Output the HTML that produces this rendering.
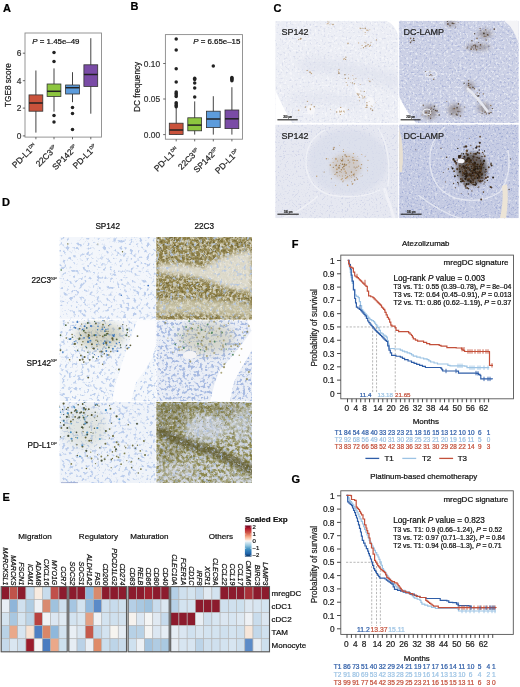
<!DOCTYPE html>
<html><head><meta charset="utf-8"><title>Figure</title>
<style>
html,body{margin:0;padding:0;background:#fff;width:520px;height:687px;overflow:hidden}
svg{display:block;filter:blur(0.3px)}
svg text{font-family:"Liberation Sans",sans-serif}
</style></head><body>
<svg width="520" height="687" viewBox="0 0 520 687">
<defs><filter id="b05" x="-20%" y="-20%" width="140%" height="140%"><feGaussianBlur stdDeviation="0.45"/></filter>
<filter id="b1" x="-20%" y="-20%" width="140%" height="140%"><feGaussianBlur stdDeviation="1"/></filter>
<filter id="b2" x="-30%" y="-30%" width="160%" height="160%"><feGaussianBlur stdDeviation="2"/></filter>
<filter id="b4" x="-40%" y="-40%" width="180%" height="180%"><feGaussianBlur stdDeviation="4"/></filter>
<clipPath id="c1"><rect x="275.2" y="20.8" width="123.10" height="102.10"/></clipPath>
<filter id="sp1" x="275.2" y="20.8" width="123.10" height="102.10" filterUnits="userSpaceOnUse" color-interpolation-filters="sRGB"><feTurbulence type="fractalNoise" baseFrequency="0.5" numOctaves="2" seed="3"/><feColorMatrix type="matrix" values="0 0 0 0 0.784 0 0 0 0 0.804 0 0 0 0 0.890 5 0 0 0 -2.9"/><feGaussianBlur stdDeviation="0.35"/></filter>
<filter id="sp2" x="275.2" y="20.8" width="123.10" height="102.10" filterUnits="userSpaceOnUse" color-interpolation-filters="sRGB"><feTurbulence type="fractalNoise" baseFrequency="0.4" numOctaves="2" seed="4"/><feColorMatrix type="matrix" values="0 0 0 0 0.980 0 0 0 0 0.980 0 0 0 0 0.988 5 0 0 0 -2.7"/><feGaussianBlur stdDeviation="0.35"/></filter>
<clipPath id="c2"><rect x="399.1" y="20.8" width="119.70" height="102.10"/></clipPath>
<filter id="sp3" x="399.1" y="20.8" width="119.70" height="102.10" filterUnits="userSpaceOnUse" color-interpolation-filters="sRGB"><feTurbulence type="fractalNoise" baseFrequency="0.5" numOctaves="2" seed="5"/><feColorMatrix type="matrix" values="0 0 0 0 0.643 0 0 0 0 0.682 0 0 0 0 0.839 5 0 0 0 -2.8"/><feGaussianBlur stdDeviation="0.35"/></filter>
<filter id="sp4" x="399.1" y="20.8" width="119.70" height="102.10" filterUnits="userSpaceOnUse" color-interpolation-filters="sRGB"><feTurbulence type="fractalNoise" baseFrequency="0.45" numOctaves="2" seed="8"/><feColorMatrix type="matrix" values="0 0 0 0 0.918 0 0 0 0 0.929 0 0 0 0 0.961 5 0 0 0 -2.7"/><feGaussianBlur stdDeviation="0.35"/></filter>
<clipPath id="c3"><rect x="275.2" y="124.5" width="123.10" height="93.80"/></clipPath>
<filter id="sp5" x="275.2" y="124.5" width="123.10" height="93.80" filterUnits="userSpaceOnUse" color-interpolation-filters="sRGB"><feTurbulence type="fractalNoise" baseFrequency="0.55" numOctaves="2" seed="9"/><feColorMatrix type="matrix" values="0 0 0 0 0.784 0 0 0 0 0.804 0 0 0 0 0.894 5 0 0 0 -2.9"/><feGaussianBlur stdDeviation="0.35"/></filter>
<clipPath id="c4"><rect x="399.1" y="124.5" width="119.70" height="93.80"/></clipPath>
<filter id="sp6" x="399.1" y="124.5" width="119.70" height="93.80" filterUnits="userSpaceOnUse" color-interpolation-filters="sRGB"><feTurbulence type="fractalNoise" baseFrequency="0.55" numOctaves="2" seed="12"/><feColorMatrix type="matrix" values="0 0 0 0 0.596 0 0 0 0 0.643 0 0 0 0 0.816 5 0 0 0 -2.8"/><feGaussianBlur stdDeviation="0.35"/></filter>
<filter id="sp7" x="399.1" y="124.5" width="119.70" height="93.80" filterUnits="userSpaceOnUse" color-interpolation-filters="sRGB"><feTurbulence type="fractalNoise" baseFrequency="0.45" numOctaves="2" seed="13"/><feColorMatrix type="matrix" values="0 0 0 0 0.910 0 0 0 0 0.918 0 0 0 0 0.949 5 0 0 0 -2.8"/><feGaussianBlur stdDeviation="0.35"/></filter>
<clipPath id="d1"><rect x="59.5" y="237.0" width="96.30" height="82.60"/></clipPath>
<filter id="sp8" x="59.5" y="237.0" width="96.30" height="82.60" filterUnits="userSpaceOnUse" color-interpolation-filters="sRGB"><feTurbulence type="fractalNoise" baseFrequency="0.3" numOctaves="2" seed="21"/><feColorMatrix type="matrix" values="0 0 0 0 0.706 0 0 0 0 0.784 0 0 0 0 0.918 6 0 0 0 -3.3"/><feGaussianBlur stdDeviation="0.35"/></filter>
<clipPath id="d2"><rect x="156.4" y="237.0" width="95.60" height="82.60"/></clipPath>
<filter id="sp9" x="156.4" y="237.0" width="95.60" height="82.60" filterUnits="userSpaceOnUse" color-interpolation-filters="sRGB"><feTurbulence type="fractalNoise" baseFrequency="0.3" numOctaves="2" seed="22"/><feColorMatrix type="matrix" values="0 0 0 0 0.549 0 0 0 0 0.494 0 0 0 0 0.267 4 0 0 0 -1.3"/><feGaussianBlur stdDeviation="0.35"/></filter>
<filter id="sp10" x="156.4" y="237.0" width="95.60" height="82.60" filterUnits="userSpaceOnUse" color-interpolation-filters="sRGB"><feTurbulence type="fractalNoise" baseFrequency="0.38" numOctaves="2" seed="31"/><feColorMatrix type="matrix" values="0 0 0 0 0.416 0 0 0 0 0.369 0 0 0 0 0.173 5 0 0 0 -2.7"/><feGaussianBlur stdDeviation="0.35"/></filter>
<filter id="sp11" x="156.4" y="237.0" width="95.60" height="82.60" filterUnits="userSpaceOnUse" color-interpolation-filters="sRGB"><feTurbulence type="fractalNoise" baseFrequency="0.3" numOctaves="2" seed="23"/><feColorMatrix type="matrix" values="0 0 0 0 0.706 0 0 0 0 0.776 0 0 0 0 0.886 5 0 0 0 -2.9"/><feGaussianBlur stdDeviation="0.35"/></filter>
<filter id="sp12" x="156.4" y="237.0" width="95.60" height="82.60" filterUnits="userSpaceOnUse" color-interpolation-filters="sRGB"><feTurbulence type="fractalNoise" baseFrequency="0.4" numOctaves="2" seed="29"/><feColorMatrix type="matrix" values="0 0 0 0 0.957 0 0 0 0 0.949 0 0 0 0 0.918 5 0 0 0 -3.0"/><feGaussianBlur stdDeviation="0.35"/></filter>
<clipPath id="d3"><rect x="59.5" y="320.3" width="96.30" height="80.90"/></clipPath>
<filter id="sp13" x="59.5" y="320.3" width="96.30" height="80.90" filterUnits="userSpaceOnUse" color-interpolation-filters="sRGB"><feTurbulence type="fractalNoise" baseFrequency="0.32" numOctaves="2" seed="24"/><feColorMatrix type="matrix" values="0 0 0 0 0.706 0 0 0 0 0.784 0 0 0 0 0.918 6 0 0 0 -3.3"/><feGaussianBlur stdDeviation="0.35"/></filter>
<clipPath id="d4"><rect x="156.4" y="320.3" width="95.60" height="80.90"/></clipPath>
<filter id="sp14" x="156.4" y="320.3" width="95.60" height="80.90" filterUnits="userSpaceOnUse" color-interpolation-filters="sRGB"><feTurbulence type="fractalNoise" baseFrequency="0.35" numOctaves="2" seed="25"/><feColorMatrix type="matrix" values="0 0 0 0 0.580 0 0 0 0 0.675 0 0 0 0 0.863 6 0 0 0 -3.0"/><feGaussianBlur stdDeviation="0.35"/></filter>
<clipPath id="d5"><rect x="59.5" y="401.9" width="96.30" height="81.10"/></clipPath>
<filter id="sp15" x="59.5" y="401.9" width="96.30" height="81.10" filterUnits="userSpaceOnUse" color-interpolation-filters="sRGB"><feTurbulence type="fractalNoise" baseFrequency="0.32" numOctaves="2" seed="26"/><feColorMatrix type="matrix" values="0 0 0 0 0.706 0 0 0 0 0.784 0 0 0 0 0.918 6 0 0 0 -3.3"/><feGaussianBlur stdDeviation="0.35"/></filter>
<clipPath id="d6"><rect x="156.4" y="401.9" width="95.60" height="81.10"/></clipPath>
<filter id="sp16" x="156.4" y="401.9" width="95.60" height="81.10" filterUnits="userSpaceOnUse" color-interpolation-filters="sRGB"><feTurbulence type="fractalNoise" baseFrequency="0.3" numOctaves="2" seed="27"/><feColorMatrix type="matrix" values="0 0 0 0 0.525 0 0 0 0 0.502 0 0 0 0 0.247 4 0 0 0 -1.55"/><feGaussianBlur stdDeviation="0.35"/></filter>
<filter id="sp17" x="156.4" y="401.9" width="95.60" height="81.10" filterUnits="userSpaceOnUse" color-interpolation-filters="sRGB"><feTurbulence type="fractalNoise" baseFrequency="0.4" numOctaves="2" seed="32"/><feColorMatrix type="matrix" values="0 0 0 0 0.369 0 0 0 0 0.353 0 0 0 0 0.165 5 0 0 0 -3.0"/><feGaussianBlur stdDeviation="0.35"/></filter>
<filter id="sp18" x="156.4" y="401.9" width="95.60" height="81.10" filterUnits="userSpaceOnUse" color-interpolation-filters="sRGB"><feTurbulence type="fractalNoise" baseFrequency="0.3" numOctaves="2" seed="30"/><feColorMatrix type="matrix" values="0 0 0 0 0.690 0 0 0 0 0.761 0 0 0 0 0.886 5 0 0 0 -2.9"/><feGaussianBlur stdDeviation="0.35"/></filter>
<filter id="sp19" x="156.4" y="401.9" width="95.60" height="81.10" filterUnits="userSpaceOnUse" color-interpolation-filters="sRGB"><feTurbulence type="fractalNoise" baseFrequency="0.4" numOctaves="2" seed="33"/><feColorMatrix type="matrix" values="0 0 0 0 0.949 0 0 0 0 0.957 0 0 0 0 0.957 5 0 0 0 -3.1"/><feGaussianBlur stdDeviation="0.35"/></filter></defs>
<rect width="520" height="687" fill="#fff"/>
<g clip-path="url(#c1)">
<rect x="275.2" y="20.8" width="123.10" height="102.10" fill="#eceef5"/>
<rect x="275.2" y="20.8" width="123.10" height="102.10" filter="url(#sp1)" opacity="0.6"/>
<rect x="275.2" y="20.8" width="123.10" height="102.10" filter="url(#sp2)" opacity="0.7"/>
<g filter="url(#b4)" opacity="0.5"><path d="M300,60 Q340,55 398,75 L398,90 Q340,70 300,72Z" fill="#d8dcea"/><path d="M290,95 Q330,90 360,100 L360,108 Q330,100 290,104Z" fill="#dadeeb"/></g>
<g filter="url(#b05)"><path d="M275.2,90 Q283,108 292,122.9 L275.2,122.9Z" fill="#fff"/><path d="M386,20.8 Q395,24 398.3,36 L398.3,20.8Z" fill="#fff"/></g>
<g filter="url(#b05)" fill="#f6f6f9"><ellipse cx="311" cy="110" rx="4" ry="5"/><ellipse cx="341" cy="111" rx="5" ry="4"/><ellipse cx="370" cy="102" rx="4" ry="5"/><ellipse cx="358" cy="92" rx="2" ry="6" transform="rotate(-30 358 92)"/></g>
<g filter="url(#b05)" opacity="0.7"><circle cx="327.9" cy="23.6" r="0.8" fill="#c09a68"/><circle cx="326.3" cy="23.9" r="0.4" fill="#c09a68"/><circle cx="328.0" cy="21.1" r="0.4" fill="#8c6838"/><circle cx="333.0" cy="24.5" r="0.8" fill="#a07a48"/><circle cx="328.9" cy="22.1" r="0.6" fill="#b08a58"/><circle cx="327.6" cy="21.0" r="0.4" fill="#a07a48"/><circle cx="331.7" cy="24.0" r="0.4" fill="#c09a68"/><circle cx="329.5" cy="24.8" r="0.4" fill="#b08a58"/></g>
<g filter="url(#b05)" opacity="0.7"><circle cx="360.0" cy="28.2" r="0.6" fill="#c09a68"/><circle cx="360.7" cy="28.3" r="0.6" fill="#a07a48"/><circle cx="362.1" cy="28.3" r="0.5" fill="#8c6838"/><circle cx="368.1" cy="30.5" r="0.4" fill="#a07a48"/><circle cx="365.3" cy="28.4" r="0.8" fill="#a07a48"/><circle cx="365.1" cy="34.5" r="0.4" fill="#c09a68"/><circle cx="367.0" cy="29.8" r="0.4" fill="#b08a58"/><circle cx="363.6" cy="28.4" r="0.4" fill="#8c6838"/><circle cx="367.1" cy="30.2" r="0.8" fill="#b08a58"/><circle cx="363.0" cy="30.9" r="0.4" fill="#c09a68"/><circle cx="365.2" cy="32.3" r="0.6" fill="#b08a58"/><circle cx="369.8" cy="29.7" r="0.5" fill="#c09a68"/></g>
<g filter="url(#b05)" opacity="0.7"><circle cx="369.4" cy="45.4" r="0.4" fill="#8c6838"/><circle cx="376.5" cy="39.9" r="0.6" fill="#a07a48"/><circle cx="365.7" cy="45.9" r="0.7" fill="#a07a48"/><circle cx="367.8" cy="44.3" r="0.5" fill="#a07a48"/><circle cx="364.9" cy="42.2" r="0.5" fill="#a07a48"/><circle cx="368.3" cy="44.6" r="0.6" fill="#a07a48"/><circle cx="358.6" cy="42.9" r="0.6" fill="#c09a68"/><circle cx="365.9" cy="43.1" r="0.5" fill="#b08a58"/><circle cx="362.1" cy="45.3" r="0.6" fill="#b08a58"/><circle cx="369.4" cy="46.4" r="0.6" fill="#c09a68"/><circle cx="371.0" cy="42.2" r="0.5" fill="#a07a48"/><circle cx="370.5" cy="45.5" r="0.5" fill="#c09a68"/><circle cx="363.4" cy="47.7" r="0.6" fill="#8c6838"/><circle cx="348.0" cy="43.4" r="0.8" fill="#b08a58"/><circle cx="365.2" cy="46.5" r="0.7" fill="#a07a48"/><circle cx="361.0" cy="48.4" r="0.4" fill="#a07a48"/><circle cx="370.5" cy="44.9" r="0.5" fill="#a07a48"/><circle cx="367.0" cy="45.7" r="0.6" fill="#b08a58"/></g>
<g filter="url(#b05)" opacity="0.7"><circle cx="352.4" cy="82.9" r="0.6" fill="#8c6838"/><circle cx="348.5" cy="78.2" r="0.6" fill="#b08a58"/><circle cx="345.3" cy="78.4" r="0.6" fill="#8c6838"/><circle cx="348.7" cy="74.7" r="0.4" fill="#a07a48"/><circle cx="346.2" cy="82.5" r="0.5" fill="#a07a48"/><circle cx="354.4" cy="83.7" r="0.7" fill="#b08a58"/><circle cx="352.8" cy="75.6" r="0.5" fill="#c09a68"/><circle cx="355.9" cy="78.5" r="0.5" fill="#a07a48"/><circle cx="353.6" cy="79.0" r="0.6" fill="#c09a68"/><circle cx="350.7" cy="82.3" r="0.4" fill="#a07a48"/><circle cx="344.9" cy="74.7" r="0.7" fill="#8c6838"/><circle cx="347.3" cy="85.2" r="0.6" fill="#c09a68"/></g>
<g filter="url(#b05)" opacity="0.7"><circle cx="358.4" cy="95.2" r="0.6" fill="#a07a48"/><circle cx="361.5" cy="95.6" r="0.4" fill="#a07a48"/><circle cx="357.9" cy="94.1" r="0.8" fill="#8c6838"/><circle cx="364.3" cy="91.7" r="0.4" fill="#b08a58"/><circle cx="357.0" cy="93.2" r="0.5" fill="#c09a68"/><circle cx="359.8" cy="94.0" r="0.5" fill="#8c6838"/><circle cx="363.0" cy="98.0" r="0.7" fill="#b08a58"/><circle cx="364.2" cy="91.3" r="0.6" fill="#8c6838"/><circle cx="362.4" cy="96.1" r="0.5" fill="#a07a48"/><circle cx="360.2" cy="84.5" r="0.5" fill="#b08a58"/><circle cx="364.6" cy="96.9" r="0.8" fill="#c09a68"/><circle cx="359.3" cy="97.3" r="0.7" fill="#c09a68"/><circle cx="359.6" cy="100.8" r="0.5" fill="#a07a48"/><circle cx="360.9" cy="91.1" r="0.5" fill="#a07a48"/></g>
<g filter="url(#b05)" opacity="0.7"><circle cx="369.1" cy="101.6" r="0.4" fill="#8c6838"/><circle cx="371.1" cy="105.6" r="0.4" fill="#a07a48"/><circle cx="367.0" cy="105.4" r="0.6" fill="#8c6838"/><circle cx="375.4" cy="102.8" r="0.4" fill="#c09a68"/><circle cx="370.8" cy="108.7" r="0.7" fill="#a07a48"/><circle cx="372.0" cy="106.2" r="0.5" fill="#b08a58"/><circle cx="366.8" cy="107.3" r="0.8" fill="#a07a48"/><circle cx="365.6" cy="107.4" r="0.5" fill="#c09a68"/><circle cx="367.0" cy="105.2" r="0.8" fill="#c09a68"/><circle cx="366.9" cy="102.7" r="0.6" fill="#8c6838"/><circle cx="366.8" cy="105.0" r="0.4" fill="#a07a48"/><circle cx="372.5" cy="110.3" r="0.8" fill="#8c6838"/></g>
<g filter="url(#b05)" opacity="0.7"><circle cx="305.8" cy="106.8" r="0.5" fill="#a07a48"/><circle cx="310.3" cy="109.0" r="0.5" fill="#c09a68"/><circle cx="311.4" cy="104.6" r="0.4" fill="#a07a48"/><circle cx="310.3" cy="108.3" r="0.6" fill="#b08a58"/><circle cx="298.7" cy="110.3" r="0.8" fill="#c09a68"/><circle cx="314.3" cy="106.8" r="0.8" fill="#a07a48"/><circle cx="311.2" cy="104.8" r="0.6" fill="#b08a58"/><circle cx="305.3" cy="107.2" r="0.6" fill="#8c6838"/><circle cx="307.5" cy="101.4" r="0.7" fill="#b08a58"/><circle cx="310.4" cy="109.6" r="0.6" fill="#8c6838"/></g>
<g filter="url(#b05)" opacity="0.7"><circle cx="339.6" cy="111.1" r="0.6" fill="#a07a48"/><circle cx="341.3" cy="111.6" r="0.8" fill="#c09a68"/><circle cx="330.4" cy="109.5" r="0.4" fill="#a07a48"/><circle cx="341.5" cy="111.0" r="0.6" fill="#c09a68"/><circle cx="348.3" cy="109.4" r="0.5" fill="#b08a58"/><circle cx="339.9" cy="112.3" r="0.5" fill="#c09a68"/><circle cx="340.1" cy="111.8" r="0.5" fill="#a07a48"/><circle cx="343.9" cy="111.3" r="0.7" fill="#a07a48"/><circle cx="344.3" cy="112.4" r="0.4" fill="#8c6838"/><circle cx="340.4" cy="114.5" r="0.6" fill="#a07a48"/><circle cx="336.7" cy="112.0" r="0.7" fill="#8c6838"/><circle cx="340.7" cy="107.4" r="0.7" fill="#a07a48"/></g>
<g filter="url(#b05)" opacity="0.7"><circle cx="309.5" cy="72.1" r="0.6" fill="#b08a58"/><circle cx="307.1" cy="70.3" r="0.6" fill="#b08a58"/><circle cx="307.2" cy="70.5" r="0.6" fill="#b08a58"/><circle cx="311.4" cy="73.5" r="0.7" fill="#b08a58"/><circle cx="310.3" cy="72.2" r="0.8" fill="#b08a58"/></g>
<g filter="url(#b05)" opacity="0.7"><circle cx="338.2" cy="70.0" r="0.4" fill="#b08a58"/><circle cx="338.6" cy="71.5" r="0.5" fill="#c09a68"/><circle cx="339.0" cy="69.6" r="0.7" fill="#b08a58"/><circle cx="338.9" cy="73.0" r="0.7" fill="#a07a48"/><circle cx="338.9" cy="73.2" r="0.8" fill="#8c6838"/></g>
<g filter="url(#b05)" opacity="0.7"><circle cx="369.8" cy="81.2" r="0.7" fill="#b08a58"/><circle cx="368.7" cy="78.4" r="0.4" fill="#c09a68"/><circle cx="368.8" cy="80.8" r="0.4" fill="#b08a58"/><circle cx="372.6" cy="79.8" r="0.4" fill="#a07a48"/><circle cx="370.0" cy="81.7" r="0.4" fill="#a07a48"/></g>
<g filter="url(#b05)" opacity="0.7"><circle cx="343.7" cy="59.5" r="0.6" fill="#c09a68"/><circle cx="345.6" cy="59.4" r="0.6" fill="#a07a48"/><circle cx="345.9" cy="57.2" r="0.6" fill="#8c6838"/><circle cx="343.6" cy="58.6" r="0.4" fill="#a07a48"/><circle cx="344.5" cy="58.6" r="0.7" fill="#c09a68"/></g>
<g filter="url(#b05)" opacity="0.7"><circle cx="298.8" cy="39.6" r="0.6" fill="#8c6838"/><circle cx="300.5" cy="38.9" r="0.8" fill="#b08a58"/><circle cx="300.8" cy="38.6" r="0.8" fill="#8c6838"/></g>
</g>
<g clip-path="url(#c2)">
<rect x="399.1" y="20.8" width="119.70" height="102.10" fill="#cbd0e5"/>
<rect x="399.1" y="20.8" width="119.70" height="102.10" filter="url(#sp3)" opacity="0.75"/>
<rect x="399.1" y="20.8" width="119.70" height="102.10" filter="url(#sp4)" opacity="0.85"/>
<g filter="url(#b05)"><path d="M399.1,96 Q405,110 416,122.9 L399.1,122.9Z" fill="#fff"/><path d="M504,20.8 Q514,28 518.8,44 L518.8,20.8Z" fill="#f4f4f7"/></g>
<g filter="url(#b2)" fill="#7a6e68" opacity="0.55"><ellipse cx="485" cy="34" rx="7" ry="4"/><ellipse cx="478" cy="47" rx="12" ry="3"/><ellipse cx="430" cy="112" rx="7" ry="7"/><ellipse cx="455" cy="110" rx="7" ry="6"/><ellipse cx="484" cy="108" rx="6" ry="5"/><ellipse cx="470" cy="86" rx="4" ry="4"/><ellipse cx="451" cy="23" rx="5" ry="3"/></g>
<g filter="url(#b05)" opacity="0.75"><circle cx="485.7" cy="29.8" r="0.6" fill="#4e3620"/><circle cx="488.3" cy="35.0" r="0.6" fill="#3e2a16"/><circle cx="494.3" cy="29.1" r="0.9" fill="#3e2a16"/><circle cx="486.1" cy="40.0" r="0.7" fill="#5e4428"/><circle cx="485.9" cy="36.5" r="0.5" fill="#3e2a16"/><circle cx="471.9" cy="40.8" r="0.7" fill="#3e2a16"/><circle cx="485.8" cy="27.0" r="0.4" fill="#6e5030"/><circle cx="487.3" cy="35.2" r="0.6" fill="#6e5030"/><circle cx="487.5" cy="34.5" r="0.6" fill="#3e2a16"/><circle cx="484.8" cy="36.0" r="0.6" fill="#6e5030"/><circle cx="474.6" cy="33.7" r="0.7" fill="#3e2a16"/><circle cx="480.3" cy="30.5" r="0.4" fill="#6e5030"/><circle cx="480.1" cy="28.6" r="0.6" fill="#4e3620"/><circle cx="477.0" cy="38.4" r="0.8" fill="#6e5030"/><circle cx="483.9" cy="33.4" r="0.9" fill="#2e2012"/><circle cx="484.1" cy="36.5" r="0.6" fill="#6e5030"/></g>
<g filter="url(#b05)" opacity="0.75"><circle cx="450.0" cy="25.8" r="0.7" fill="#5e4428"/><circle cx="448.4" cy="20.2" r="0.4" fill="#4e3620"/><circle cx="447.4" cy="21.5" r="0.6" fill="#2e2012"/><circle cx="453.5" cy="23.6" r="0.6" fill="#6e5030"/><circle cx="458.2" cy="22.7" r="0.4" fill="#4e3620"/><circle cx="447.9" cy="24.0" r="0.9" fill="#4e3620"/><circle cx="452.3" cy="23.3" r="0.8" fill="#2e2012"/><circle cx="455.7" cy="27.0" r="0.5" fill="#3e2a16"/><circle cx="454.0" cy="23.6" r="0.5" fill="#3e2a16"/></g>
<g filter="url(#b05)" opacity="0.75"><circle cx="475.5" cy="47.9" r="0.6" fill="#4e3620"/><circle cx="474.2" cy="45.1" r="0.5" fill="#6e5030"/><circle cx="475.2" cy="45.3" r="0.8" fill="#4e3620"/><circle cx="488.9" cy="46.0" r="0.5" fill="#3e2a16"/><circle cx="472.0" cy="47.0" r="0.7" fill="#5e4428"/><circle cx="476.5" cy="49.7" r="0.8" fill="#6e5030"/><circle cx="480.1" cy="48.5" r="0.5" fill="#4e3620"/><circle cx="467.8" cy="47.0" r="0.5" fill="#3e2a16"/><circle cx="477.3" cy="46.8" r="0.5" fill="#3e2a16"/><circle cx="475.7" cy="46.3" r="0.7" fill="#3e2a16"/><circle cx="478.6" cy="42.6" r="0.5" fill="#4e3620"/><circle cx="473.4" cy="45.6" r="0.6" fill="#4e3620"/><circle cx="473.7" cy="49.0" r="0.5" fill="#3e2a16"/><circle cx="480.5" cy="44.9" r="0.8" fill="#4e3620"/><circle cx="467.1" cy="48.1" r="0.6" fill="#4e3620"/><circle cx="471.1" cy="49.1" r="0.9" fill="#5e4428"/></g>
<g filter="url(#b05)" opacity="0.75"><circle cx="410.5" cy="42.4" r="0.8" fill="#4e3620"/><circle cx="409.0" cy="40.6" r="0.4" fill="#5e4428"/><circle cx="413.3" cy="40.3" r="0.7" fill="#2e2012"/><circle cx="413.6" cy="38.5" r="0.8" fill="#3e2a16"/><circle cx="414.2" cy="40.5" r="0.7" fill="#3e2a16"/><circle cx="410.6" cy="38.4" r="0.8" fill="#5e4428"/><circle cx="411.6" cy="40.8" r="0.6" fill="#5e4428"/></g>
<g filter="url(#b05)" opacity="0.75"><circle cx="430.8" cy="74.7" r="0.8" fill="#6e5030"/><circle cx="425.7" cy="71.6" r="0.7" fill="#5e4428"/><circle cx="426.2" cy="75.4" r="0.6" fill="#5e4428"/><circle cx="433.7" cy="79.2" r="0.8" fill="#6e5030"/><circle cx="432.0" cy="75.9" r="0.6" fill="#5e4428"/><circle cx="429.9" cy="71.6" r="0.8" fill="#6e5030"/><circle cx="429.6" cy="75.5" r="0.5" fill="#6e5030"/></g>
<g filter="url(#b05)" opacity="0.75"><circle cx="468.6" cy="85.4" r="0.8" fill="#5e4428"/><circle cx="470.7" cy="84.4" r="0.4" fill="#4e3620"/><circle cx="464.1" cy="83.3" r="0.7" fill="#2e2012"/><circle cx="472.9" cy="87.2" r="0.8" fill="#3e2a16"/><circle cx="469.0" cy="87.7" r="0.5" fill="#5e4428"/><circle cx="473.1" cy="87.8" r="0.5" fill="#2e2012"/><circle cx="470.1" cy="87.8" r="0.8" fill="#6e5030"/><circle cx="468.5" cy="88.4" r="0.6" fill="#5e4428"/><circle cx="468.6" cy="83.4" r="0.7" fill="#3e2a16"/><circle cx="468.6" cy="80.6" r="0.6" fill="#5e4428"/></g>
<g filter="url(#b05)" opacity="0.75"><circle cx="434.4" cy="106.2" r="0.8" fill="#2e2012"/><circle cx="435.5" cy="110.5" r="0.7" fill="#3e2a16"/><circle cx="431.3" cy="108.0" r="0.6" fill="#4e3620"/><circle cx="430.1" cy="114.4" r="0.7" fill="#4e3620"/><circle cx="428.3" cy="115.6" r="0.7" fill="#5e4428"/><circle cx="431.4" cy="111.7" r="0.6" fill="#3e2a16"/><circle cx="429.2" cy="114.2" r="0.9" fill="#3e2a16"/><circle cx="430.0" cy="111.3" r="0.6" fill="#3e2a16"/><circle cx="429.0" cy="114.5" r="0.6" fill="#6e5030"/><circle cx="430.6" cy="118.3" r="0.7" fill="#4e3620"/><circle cx="422.1" cy="115.0" r="0.6" fill="#5e4428"/><circle cx="423.3" cy="105.2" r="0.7" fill="#5e4428"/><circle cx="426.0" cy="112.4" r="0.9" fill="#6e5030"/><circle cx="430.2" cy="110.3" r="0.8" fill="#2e2012"/><circle cx="439.2" cy="115.0" r="0.8" fill="#2e2012"/><circle cx="437.0" cy="110.9" r="0.8" fill="#3e2a16"/><circle cx="428.4" cy="109.5" r="0.4" fill="#2e2012"/><circle cx="433.6" cy="109.5" r="0.5" fill="#2e2012"/></g>
<g filter="url(#b05)" opacity="0.75"><circle cx="453.2" cy="108.7" r="0.5" fill="#5e4428"/><circle cx="460.4" cy="116.0" r="0.8" fill="#4e3620"/><circle cx="446.8" cy="101.6" r="0.5" fill="#6e5030"/><circle cx="459.9" cy="111.5" r="0.5" fill="#4e3620"/><circle cx="458.4" cy="103.9" r="0.8" fill="#3e2a16"/><circle cx="451.7" cy="113.9" r="0.7" fill="#2e2012"/><circle cx="454.4" cy="108.6" r="0.8" fill="#6e5030"/><circle cx="457.1" cy="107.7" r="0.8" fill="#2e2012"/><circle cx="457.1" cy="115.0" r="0.8" fill="#2e2012"/><circle cx="456.3" cy="114.2" r="0.7" fill="#4e3620"/><circle cx="464.7" cy="107.0" r="0.6" fill="#2e2012"/><circle cx="458.0" cy="111.4" r="0.6" fill="#3e2a16"/></g>
<g filter="url(#b05)" opacity="0.75"><circle cx="482.1" cy="113.5" r="0.5" fill="#2e2012"/><circle cx="483.0" cy="105.6" r="0.8" fill="#3e2a16"/><circle cx="485.6" cy="109.6" r="0.6" fill="#2e2012"/><circle cx="486.4" cy="113.9" r="0.6" fill="#3e2a16"/><circle cx="490.8" cy="105.5" r="0.8" fill="#6e5030"/><circle cx="489.2" cy="113.4" r="0.9" fill="#5e4428"/><circle cx="492.4" cy="108.6" r="0.7" fill="#3e2a16"/><circle cx="485.9" cy="112.0" r="0.8" fill="#5e4428"/><circle cx="484.8" cy="112.2" r="0.6" fill="#5e4428"/><circle cx="482.3" cy="111.0" r="0.5" fill="#6e5030"/><circle cx="491.0" cy="112.5" r="0.8" fill="#4e3620"/><circle cx="486.4" cy="110.8" r="0.6" fill="#3e2a16"/></g>
<g filter="url(#b05)" opacity="0.75"><circle cx="478.6" cy="95.8" r="0.9" fill="#2e2012"/><circle cx="477.0" cy="96.2" r="0.9" fill="#2e2012"/><circle cx="479.5" cy="93.7" r="0.5" fill="#4e3620"/><circle cx="479.3" cy="90.1" r="0.6" fill="#2e2012"/><circle cx="474.5" cy="88.8" r="0.7" fill="#5e4428"/><circle cx="483.3" cy="93.9" r="0.7" fill="#6e5030"/><circle cx="475.7" cy="94.2" r="0.5" fill="#5e4428"/><circle cx="477.2" cy="92.9" r="0.6" fill="#6e5030"/><circle cx="476.8" cy="99.0" r="0.5" fill="#4e3620"/><circle cx="477.9" cy="101.8" r="0.5" fill="#4e3620"/></g>
<g filter="url(#b05)"><path d="M467,88 Q478,98 488,112" stroke="#e6e8f0" stroke-width="2.6" fill="none"/><ellipse cx="431" cy="74" rx="6" ry="3" fill="none" stroke="#eceef4" stroke-width="1.2"/><ellipse cx="427" cy="112" rx="4" ry="3" fill="none" stroke="#eceef4" stroke-width="1"/></g>
</g>
<g clip-path="url(#c3)">
<rect x="275.2" y="124.5" width="123.10" height="93.80" fill="#e6e8f1"/>
<rect x="275.2" y="124.5" width="123.10" height="93.80" filter="url(#sp5)" opacity="0.75"/>
<ellipse cx="348" cy="162" rx="40" ry="33" fill="#d6dae9" opacity="0.6" filter="url(#b2)"/>
<g filter="url(#b05)" fill="none" stroke="#f4f5f9" stroke-width="1.3" opacity="0.75"><path d="M325,130 Q305,140 306,165 Q308,188 330,195 Q360,200 380,190"/><path d="M318,196 Q300,212 282,218.3"/><path d="M384,188 Q390,205 394,218.3" stroke-width="3"/><path d="M378,128 Q392,150 388,186"/></g>
<ellipse cx="346" cy="167" rx="15" ry="13" fill="#b49a78" opacity="0.3" filter="url(#b2)"/>
<g filter="url(#b05)" opacity="0.85"><circle cx="339.5" cy="175.5" r="0.4" fill="#b08a58"/><circle cx="358.6" cy="166.1" r="0.7" fill="#b08a58"/><circle cx="344.5" cy="166.1" r="0.7" fill="#a07a48"/><circle cx="354.1" cy="174.8" r="0.6" fill="#8c6838"/><circle cx="335.6" cy="185.2" r="0.5" fill="#c09a68"/><circle cx="354.7" cy="160.4" r="0.7" fill="#b08a58"/><circle cx="356.9" cy="160.6" r="0.6" fill="#8c6838"/><circle cx="354.7" cy="180.0" r="0.8" fill="#8c6838"/><circle cx="342.5" cy="164.3" r="0.8" fill="#8c6838"/><circle cx="342.8" cy="159.1" r="0.7" fill="#8c6838"/><circle cx="349.7" cy="162.0" r="0.6" fill="#a07a48"/><circle cx="336.9" cy="169.6" r="0.7" fill="#b08a58"/><circle cx="341.3" cy="179.6" r="0.7" fill="#c09a68"/><circle cx="335.9" cy="158.5" r="0.7" fill="#b08a58"/><circle cx="350.1" cy="176.6" r="0.4" fill="#c09a68"/><circle cx="354.1" cy="173.2" r="0.5" fill="#b08a58"/><circle cx="345.5" cy="178.6" r="0.5" fill="#a07a48"/><circle cx="343.5" cy="151.4" r="0.6" fill="#c09a68"/><circle cx="337.5" cy="161.0" r="0.6" fill="#c09a68"/><circle cx="346.7" cy="156.6" r="0.8" fill="#c09a68"/><circle cx="348.9" cy="163.0" r="0.4" fill="#8c6838"/><circle cx="336.1" cy="165.5" r="0.8" fill="#8c6838"/><circle cx="353.6" cy="162.9" r="0.7" fill="#c09a68"/><circle cx="345.1" cy="154.9" r="0.7" fill="#8c6838"/><circle cx="361.8" cy="154.6" r="0.5" fill="#c09a68"/><circle cx="347.6" cy="185.3" r="0.8" fill="#c09a68"/><circle cx="342.5" cy="156.7" r="0.5" fill="#8c6838"/><circle cx="333.5" cy="149.2" r="0.8" fill="#8c6838"/><circle cx="353.6" cy="160.0" r="0.8" fill="#b08a58"/><circle cx="340.4" cy="159.4" r="0.4" fill="#a07a48"/><circle cx="361.0" cy="176.3" r="0.4" fill="#c09a68"/><circle cx="354.1" cy="167.0" r="0.5" fill="#8c6838"/><circle cx="351.7" cy="175.6" r="0.6" fill="#c09a68"/><circle cx="356.3" cy="177.7" r="0.5" fill="#8c6838"/><circle cx="367.6" cy="170.7" r="0.5" fill="#c09a68"/><circle cx="357.4" cy="179.2" r="0.7" fill="#b08a58"/><circle cx="352.4" cy="184.0" r="0.7" fill="#a07a48"/><circle cx="353.0" cy="183.2" r="0.5" fill="#c09a68"/><circle cx="360.7" cy="168.3" r="0.7" fill="#b08a58"/><circle cx="339.4" cy="165.6" r="0.8" fill="#a07a48"/><circle cx="341.6" cy="160.8" r="0.8" fill="#8c6838"/><circle cx="357.4" cy="156.6" r="0.4" fill="#c09a68"/><circle cx="341.4" cy="169.8" r="0.8" fill="#a07a48"/><circle cx="345.0" cy="161.2" r="0.4" fill="#b08a58"/><circle cx="338.2" cy="166.9" r="0.5" fill="#a07a48"/><circle cx="340.5" cy="163.5" r="0.5" fill="#b08a58"/><circle cx="342.6" cy="160.7" r="0.7" fill="#a07a48"/><circle cx="342.7" cy="167.8" r="0.8" fill="#a07a48"/><circle cx="343.6" cy="166.5" r="0.6" fill="#8c6838"/><circle cx="336.4" cy="164.8" r="0.6" fill="#b08a58"/><circle cx="342.9" cy="181.7" r="0.5" fill="#8c6838"/><circle cx="346.4" cy="164.8" r="0.7" fill="#b08a58"/><circle cx="349.2" cy="166.8" r="0.6" fill="#c09a68"/><circle cx="367.7" cy="167.3" r="0.4" fill="#a07a48"/><circle cx="333.1" cy="162.5" r="0.5" fill="#c09a68"/><circle cx="349.1" cy="156.4" r="0.6" fill="#b08a58"/><circle cx="332.3" cy="158.4" r="0.4" fill="#c09a68"/><circle cx="347.6" cy="176.7" r="0.7" fill="#b08a58"/><circle cx="345.8" cy="178.3" r="0.8" fill="#c09a68"/><circle cx="346.1" cy="173.0" r="0.8" fill="#a07a48"/><circle cx="328.4" cy="158.9" r="0.4" fill="#b08a58"/><circle cx="336.0" cy="159.2" r="0.8" fill="#c09a68"/><circle cx="343.3" cy="149.5" r="0.4" fill="#a07a48"/><circle cx="357.4" cy="160.6" r="0.6" fill="#b08a58"/><circle cx="344.2" cy="164.9" r="0.6" fill="#8c6838"/><circle cx="353.5" cy="153.6" r="0.7" fill="#c09a68"/><circle cx="362.3" cy="175.8" r="0.4" fill="#8c6838"/><circle cx="346.7" cy="177.5" r="0.7" fill="#c09a68"/><circle cx="356.1" cy="170.5" r="0.5" fill="#b08a58"/><circle cx="339.4" cy="145.4" r="0.4" fill="#b08a58"/><circle cx="353.4" cy="174.8" r="0.7" fill="#a07a48"/><circle cx="356.9" cy="167.2" r="0.6" fill="#a07a48"/><circle cx="340.0" cy="171.7" r="0.6" fill="#a07a48"/><circle cx="361.5" cy="164.6" r="0.7" fill="#b08a58"/><circle cx="345.2" cy="171.3" r="0.8" fill="#c09a68"/><circle cx="324.1" cy="172.0" r="0.5" fill="#8c6838"/><circle cx="368.0" cy="160.3" r="0.5" fill="#b08a58"/><circle cx="334.7" cy="174.5" r="0.4" fill="#8c6838"/><circle cx="326.5" cy="158.8" r="0.8" fill="#b08a58"/><circle cx="336.9" cy="169.1" r="0.8" fill="#c09a68"/><circle cx="344.3" cy="169.0" r="0.6" fill="#b08a58"/><circle cx="351.7" cy="177.4" r="0.4" fill="#b08a58"/><circle cx="335.7" cy="174.1" r="0.7" fill="#c09a68"/><circle cx="316.7" cy="176.3" r="0.7" fill="#c09a68"/><circle cx="349.4" cy="175.5" r="0.4" fill="#8c6838"/><circle cx="341.4" cy="172.5" r="0.4" fill="#b08a58"/><circle cx="346.0" cy="156.2" r="0.6" fill="#b08a58"/><circle cx="345.5" cy="175.5" r="0.4" fill="#8c6838"/><circle cx="351.4" cy="172.1" r="0.8" fill="#a07a48"/><circle cx="355.3" cy="168.0" r="0.5" fill="#a07a48"/><circle cx="352.6" cy="160.0" r="0.5" fill="#a07a48"/><circle cx="342.2" cy="178.7" r="0.6" fill="#b08a58"/><circle cx="354.4" cy="176.8" r="0.4" fill="#8c6838"/><circle cx="336.9" cy="172.5" r="0.7" fill="#8c6838"/><circle cx="342.3" cy="176.1" r="0.5" fill="#b08a58"/><circle cx="352.9" cy="157.4" r="0.6" fill="#b08a58"/><circle cx="331.4" cy="178.8" r="0.5" fill="#8c6838"/><circle cx="337.2" cy="176.0" r="0.4" fill="#a07a48"/><circle cx="346.4" cy="156.7" r="0.4" fill="#8c6838"/><circle cx="344.6" cy="164.2" r="0.8" fill="#8c6838"/><circle cx="334.1" cy="147.6" r="0.8" fill="#b08a58"/><circle cx="348.2" cy="160.2" r="0.7" fill="#a07a48"/><circle cx="343.9" cy="169.0" r="0.5" fill="#8c6838"/><circle cx="343.2" cy="180.7" r="0.5" fill="#c09a68"/><circle cx="351.7" cy="181.7" r="0.5" fill="#b08a58"/><circle cx="330.3" cy="165.1" r="0.8" fill="#b08a58"/><circle cx="339.0" cy="167.9" r="0.8" fill="#8c6838"/><circle cx="345.9" cy="165.2" r="0.5" fill="#8c6838"/><circle cx="365.2" cy="156.3" r="0.5" fill="#c09a68"/><circle cx="333.3" cy="167.3" r="0.6" fill="#8c6838"/></g>
</g>
<g clip-path="url(#c4)">
<rect x="399.1" y="124.5" width="119.70" height="93.80" fill="#c5cbe3"/>
<rect x="399.1" y="124.5" width="119.70" height="93.80" filter="url(#sp6)" opacity="0.78"/>
<rect x="399.1" y="124.5" width="119.70" height="93.80" filter="url(#sp7)" opacity="0.65"/>
<g filter="url(#b05)" fill="none" stroke="#eceef5" stroke-width="1.4" opacity="0.8"><path d="M445,127 Q428,140 430,165 Q433,190 455,198 Q480,205 500,192 Q512,175 508,150"/><path d="M418,195 Q440,212 460,218.3"/></g>
<g filter="url(#b05)"><path d="M502,186 Q504,200 500,218.3 L506,218.3 Q509,200 507,184Z" fill="#ece4d6"/><path d="M399.1,128 Q405,150 402,172 L399.1,172Z" fill="#e8e0d2"/></g>
<ellipse cx="472" cy="169" rx="15" ry="16" fill="#3e3028" opacity="0.7" filter="url(#b2)"/>
<g filter="url(#b05)" opacity="0.95"><circle cx="474.5" cy="166.5" r="0.6" fill="#4a3420"/><circle cx="480.5" cy="160.9" r="0.7" fill="#3a2818"/><circle cx="466.8" cy="161.3" r="0.8" fill="#4a3420"/><circle cx="485.1" cy="172.0" r="0.7" fill="#2a1c10"/><circle cx="463.8" cy="159.0" r="0.8" fill="#20160c"/><circle cx="474.9" cy="170.5" r="0.9" fill="#20160c"/><circle cx="458.3" cy="183.8" r="0.6" fill="#3a2818"/><circle cx="469.2" cy="161.7" r="0.9" fill="#20160c"/><circle cx="476.8" cy="168.2" r="0.7" fill="#3a2818"/><circle cx="471.7" cy="176.0" r="0.9" fill="#5a4028"/><circle cx="472.7" cy="168.9" r="0.9" fill="#5a4028"/><circle cx="485.9" cy="177.9" r="1.1" fill="#4a3420"/><circle cx="471.6" cy="173.7" r="0.6" fill="#3a2818"/><circle cx="467.6" cy="154.7" r="1.2" fill="#3a2818"/><circle cx="478.4" cy="180.7" r="0.9" fill="#5a4028"/><circle cx="469.6" cy="179.0" r="0.8" fill="#5a4028"/><circle cx="459.7" cy="169.1" r="0.8" fill="#3a2818"/><circle cx="484.1" cy="160.9" r="1.1" fill="#2a1c10"/><circle cx="479.3" cy="150.0" r="0.8" fill="#20160c"/><circle cx="459.2" cy="167.8" r="0.6" fill="#5a4028"/><circle cx="483.5" cy="154.0" r="0.6" fill="#4a3420"/><circle cx="460.9" cy="178.9" r="1.0" fill="#4a3420"/><circle cx="470.6" cy="161.6" r="1.0" fill="#4a3420"/><circle cx="478.8" cy="187.0" r="0.7" fill="#5a4028"/><circle cx="477.2" cy="157.6" r="0.8" fill="#3a2818"/><circle cx="460.5" cy="155.8" r="1.1" fill="#3a2818"/><circle cx="475.6" cy="182.3" r="0.7" fill="#3a2818"/><circle cx="481.5" cy="167.1" r="1.0" fill="#3a2818"/><circle cx="471.2" cy="176.9" r="0.7" fill="#20160c"/><circle cx="462.3" cy="178.9" r="0.6" fill="#3a2818"/><circle cx="471.0" cy="164.1" r="0.6" fill="#4a3420"/><circle cx="465.4" cy="178.8" r="1.1" fill="#20160c"/><circle cx="471.1" cy="171.0" r="0.9" fill="#20160c"/><circle cx="473.5" cy="172.3" r="0.8" fill="#4a3420"/><circle cx="474.2" cy="184.8" r="0.8" fill="#3a2818"/><circle cx="480.4" cy="167.8" r="1.0" fill="#5a4028"/><circle cx="468.5" cy="188.7" r="0.8" fill="#2a1c10"/><circle cx="455.0" cy="161.6" r="1.1" fill="#20160c"/><circle cx="477.5" cy="175.1" r="0.6" fill="#5a4028"/><circle cx="465.8" cy="165.6" r="0.8" fill="#4a3420"/><circle cx="473.4" cy="180.4" r="0.8" fill="#4a3420"/><circle cx="467.5" cy="166.9" r="0.6" fill="#4a3420"/><circle cx="471.6" cy="168.2" r="0.8" fill="#3a2818"/><circle cx="477.7" cy="168.9" r="1.1" fill="#20160c"/><circle cx="479.7" cy="170.9" r="0.9" fill="#5a4028"/><circle cx="482.1" cy="173.5" r="1.0" fill="#5a4028"/><circle cx="471.9" cy="175.5" r="0.7" fill="#3a2818"/><circle cx="481.2" cy="168.6" r="1.1" fill="#2a1c10"/><circle cx="472.9" cy="171.1" r="0.7" fill="#2a1c10"/><circle cx="468.9" cy="161.9" r="0.6" fill="#5a4028"/><circle cx="468.2" cy="180.2" r="0.6" fill="#3a2818"/><circle cx="479.5" cy="172.7" r="1.0" fill="#4a3420"/><circle cx="477.6" cy="152.5" r="1.0" fill="#20160c"/><circle cx="468.3" cy="180.5" r="1.0" fill="#2a1c10"/><circle cx="481.0" cy="164.5" r="1.1" fill="#20160c"/><circle cx="471.9" cy="190.9" r="0.6" fill="#5a4028"/><circle cx="476.8" cy="175.8" r="1.0" fill="#5a4028"/><circle cx="463.4" cy="153.8" r="0.8" fill="#20160c"/><circle cx="467.8" cy="175.4" r="1.1" fill="#4a3420"/><circle cx="466.5" cy="164.6" r="0.7" fill="#3a2818"/><circle cx="475.4" cy="185.0" r="0.9" fill="#3a2818"/><circle cx="473.8" cy="173.2" r="0.6" fill="#4a3420"/><circle cx="472.7" cy="170.9" r="0.8" fill="#2a1c10"/><circle cx="465.9" cy="174.0" r="0.9" fill="#3a2818"/><circle cx="477.2" cy="169.8" r="0.6" fill="#5a4028"/><circle cx="491.6" cy="187.6" r="0.8" fill="#3a2818"/><circle cx="457.2" cy="169.1" r="1.1" fill="#4a3420"/><circle cx="479.6" cy="173.2" r="1.1" fill="#3a2818"/><circle cx="473.8" cy="157.0" r="0.6" fill="#20160c"/><circle cx="474.4" cy="167.2" r="1.0" fill="#4a3420"/><circle cx="484.7" cy="156.2" r="1.0" fill="#5a4028"/><circle cx="491.0" cy="164.6" r="0.6" fill="#20160c"/><circle cx="463.2" cy="173.4" r="1.1" fill="#5a4028"/><circle cx="473.4" cy="182.4" r="0.9" fill="#5a4028"/><circle cx="481.1" cy="163.1" r="0.8" fill="#4a3420"/><circle cx="462.5" cy="161.6" r="1.2" fill="#3a2818"/><circle cx="464.6" cy="166.9" r="0.7" fill="#5a4028"/><circle cx="466.6" cy="184.1" r="1.2" fill="#20160c"/><circle cx="493.1" cy="177.5" r="1.0" fill="#20160c"/><circle cx="476.2" cy="173.1" r="1.2" fill="#3a2818"/><circle cx="479.3" cy="153.3" r="0.9" fill="#4a3420"/><circle cx="487.8" cy="177.0" r="1.0" fill="#4a3420"/><circle cx="464.2" cy="168.0" r="0.7" fill="#2a1c10"/><circle cx="475.7" cy="164.1" r="0.7" fill="#3a2818"/><circle cx="481.7" cy="174.7" r="1.1" fill="#20160c"/><circle cx="474.4" cy="166.3" r="0.9" fill="#2a1c10"/><circle cx="473.4" cy="156.5" r="1.1" fill="#3a2818"/><circle cx="474.0" cy="163.2" r="0.8" fill="#4a3420"/><circle cx="477.8" cy="167.0" r="0.7" fill="#20160c"/><circle cx="475.5" cy="178.0" r="1.1" fill="#5a4028"/><circle cx="462.4" cy="171.5" r="0.6" fill="#3a2818"/><circle cx="464.7" cy="167.2" r="1.2" fill="#3a2818"/><circle cx="446.6" cy="157.2" r="0.8" fill="#4a3420"/><circle cx="466.9" cy="150.7" r="1.2" fill="#5a4028"/><circle cx="473.5" cy="175.6" r="1.0" fill="#3a2818"/><circle cx="468.7" cy="158.5" r="0.6" fill="#2a1c10"/><circle cx="471.6" cy="178.2" r="1.0" fill="#4a3420"/><circle cx="481.2" cy="199.6" r="1.0" fill="#4a3420"/><circle cx="482.0" cy="156.5" r="0.7" fill="#2a1c10"/><circle cx="465.9" cy="161.3" r="1.1" fill="#20160c"/><circle cx="471.2" cy="174.3" r="0.6" fill="#2a1c10"/><circle cx="464.5" cy="181.8" r="0.7" fill="#5a4028"/><circle cx="475.2" cy="172.5" r="1.1" fill="#2a1c10"/><circle cx="467.8" cy="159.1" r="1.2" fill="#20160c"/><circle cx="474.8" cy="178.8" r="0.7" fill="#2a1c10"/><circle cx="466.9" cy="175.7" r="0.9" fill="#4a3420"/><circle cx="468.5" cy="183.9" r="1.0" fill="#3a2818"/><circle cx="480.2" cy="169.9" r="0.9" fill="#4a3420"/><circle cx="466.8" cy="174.2" r="0.6" fill="#5a4028"/><circle cx="481.9" cy="177.9" r="0.8" fill="#3a2818"/><circle cx="478.9" cy="174.0" r="0.8" fill="#5a4028"/><circle cx="468.2" cy="161.0" r="1.1" fill="#2a1c10"/><circle cx="469.6" cy="163.9" r="0.6" fill="#3a2818"/><circle cx="464.8" cy="170.9" r="1.0" fill="#5a4028"/><circle cx="477.6" cy="171.6" r="0.6" fill="#20160c"/><circle cx="466.4" cy="171.9" r="0.9" fill="#2a1c10"/><circle cx="475.2" cy="168.9" r="0.9" fill="#20160c"/><circle cx="476.9" cy="146.5" r="0.9" fill="#5a4028"/><circle cx="474.1" cy="178.3" r="0.6" fill="#20160c"/><circle cx="484.5" cy="179.1" r="0.6" fill="#5a4028"/><circle cx="476.2" cy="147.8" r="1.0" fill="#20160c"/><circle cx="472.7" cy="164.0" r="0.9" fill="#2a1c10"/><circle cx="466.4" cy="175.9" r="1.1" fill="#2a1c10"/><circle cx="478.8" cy="175.5" r="0.9" fill="#2a1c10"/><circle cx="472.6" cy="164.6" r="1.2" fill="#5a4028"/><circle cx="479.8" cy="178.1" r="0.6" fill="#2a1c10"/><circle cx="464.7" cy="168.5" r="0.8" fill="#3a2818"/><circle cx="472.2" cy="179.3" r="0.6" fill="#3a2818"/><circle cx="467.6" cy="165.8" r="0.6" fill="#3a2818"/><circle cx="474.4" cy="165.2" r="1.1" fill="#3a2818"/><circle cx="478.8" cy="179.1" r="0.7" fill="#5a4028"/><circle cx="459.1" cy="156.1" r="1.2" fill="#20160c"/><circle cx="474.7" cy="162.5" r="1.1" fill="#2a1c10"/><circle cx="470.7" cy="153.3" r="0.7" fill="#5a4028"/><circle cx="465.6" cy="162.1" r="0.9" fill="#5a4028"/><circle cx="461.7" cy="153.8" r="0.6" fill="#20160c"/><circle cx="470.2" cy="175.6" r="0.9" fill="#20160c"/><circle cx="467.3" cy="179.2" r="1.0" fill="#5a4028"/><circle cx="482.4" cy="164.7" r="0.9" fill="#2a1c10"/><circle cx="466.4" cy="174.2" r="1.0" fill="#4a3420"/><circle cx="472.7" cy="173.1" r="1.1" fill="#20160c"/><circle cx="466.3" cy="177.2" r="0.8" fill="#2a1c10"/><circle cx="468.1" cy="180.4" r="0.7" fill="#20160c"/><circle cx="463.8" cy="166.0" r="0.7" fill="#2a1c10"/><circle cx="471.5" cy="166.5" r="0.8" fill="#3a2818"/><circle cx="461.7" cy="167.5" r="1.0" fill="#4a3420"/><circle cx="453.6" cy="183.4" r="0.6" fill="#5a4028"/><circle cx="468.0" cy="174.9" r="1.2" fill="#4a3420"/><circle cx="475.1" cy="163.2" r="1.0" fill="#2a1c10"/><circle cx="468.0" cy="179.8" r="0.9" fill="#4a3420"/><circle cx="475.5" cy="170.4" r="0.7" fill="#4a3420"/><circle cx="479.2" cy="146.6" r="1.0" fill="#4a3420"/><circle cx="466.3" cy="173.7" r="1.0" fill="#2a1c10"/><circle cx="467.2" cy="173.3" r="0.7" fill="#2a1c10"/><circle cx="465.5" cy="185.9" r="1.1" fill="#4a3420"/><circle cx="485.5" cy="174.9" r="0.6" fill="#5a4028"/><circle cx="476.0" cy="171.7" r="0.8" fill="#2a1c10"/><circle cx="462.4" cy="158.8" r="0.7" fill="#5a4028"/><circle cx="485.9" cy="169.6" r="0.8" fill="#2a1c10"/><circle cx="473.7" cy="172.7" r="1.0" fill="#3a2818"/><circle cx="465.3" cy="176.6" r="0.8" fill="#2a1c10"/><circle cx="454.9" cy="176.2" r="1.0" fill="#2a1c10"/><circle cx="479.7" cy="166.5" r="1.1" fill="#2a1c10"/><circle cx="469.5" cy="159.4" r="1.0" fill="#5a4028"/><circle cx="484.9" cy="182.2" r="0.6" fill="#4a3420"/><circle cx="456.2" cy="164.7" r="0.6" fill="#4a3420"/><circle cx="469.9" cy="169.4" r="0.8" fill="#20160c"/><circle cx="476.1" cy="183.8" r="0.9" fill="#20160c"/><circle cx="468.9" cy="159.8" r="1.1" fill="#2a1c10"/><circle cx="456.1" cy="163.0" r="1.1" fill="#4a3420"/><circle cx="474.3" cy="177.8" r="0.7" fill="#4a3420"/><circle cx="461.0" cy="181.6" r="1.0" fill="#20160c"/><circle cx="457.4" cy="160.4" r="0.8" fill="#5a4028"/><circle cx="479.9" cy="181.5" r="0.8" fill="#2a1c10"/><circle cx="470.0" cy="162.1" r="0.7" fill="#20160c"/><circle cx="466.2" cy="165.5" r="0.6" fill="#4a3420"/><circle cx="462.3" cy="180.0" r="0.8" fill="#5a4028"/><circle cx="476.9" cy="171.5" r="0.8" fill="#5a4028"/><circle cx="462.6" cy="172.2" r="0.7" fill="#5a4028"/><circle cx="477.8" cy="174.1" r="1.1" fill="#2a1c10"/><circle cx="479.9" cy="168.6" r="0.7" fill="#20160c"/><circle cx="469.6" cy="174.0" r="1.2" fill="#4a3420"/><circle cx="473.3" cy="164.7" r="1.1" fill="#3a2818"/><circle cx="488.8" cy="167.3" r="1.0" fill="#4a3420"/><circle cx="482.5" cy="180.7" r="0.9" fill="#4a3420"/><circle cx="469.0" cy="160.2" r="1.2" fill="#4a3420"/><circle cx="459.5" cy="157.2" r="1.2" fill="#2a1c10"/><circle cx="472.0" cy="171.0" r="0.9" fill="#4a3420"/><circle cx="468.6" cy="161.9" r="0.9" fill="#4a3420"/><circle cx="465.2" cy="169.8" r="0.7" fill="#4a3420"/><circle cx="476.6" cy="167.0" r="0.8" fill="#5a4028"/><circle cx="479.1" cy="158.2" r="0.9" fill="#3a2818"/><circle cx="459.8" cy="165.8" r="1.1" fill="#4a3420"/><circle cx="468.9" cy="178.9" r="1.1" fill="#5a4028"/><circle cx="473.0" cy="179.9" r="0.8" fill="#3a2818"/><circle cx="481.5" cy="164.9" r="0.9" fill="#4a3420"/><circle cx="474.5" cy="166.4" r="0.9" fill="#5a4028"/><circle cx="483.6" cy="163.7" r="0.6" fill="#2a1c10"/><circle cx="480.8" cy="176.7" r="0.6" fill="#4a3420"/><circle cx="465.7" cy="187.9" r="0.6" fill="#2a1c10"/><circle cx="477.6" cy="177.0" r="0.6" fill="#5a4028"/><circle cx="463.2" cy="166.2" r="1.0" fill="#2a1c10"/><circle cx="464.2" cy="167.4" r="0.9" fill="#3a2818"/><circle cx="474.9" cy="165.8" r="0.6" fill="#3a2818"/><circle cx="480.6" cy="174.5" r="0.9" fill="#5a4028"/><circle cx="487.4" cy="180.4" r="0.7" fill="#3a2818"/><circle cx="466.0" cy="146.4" r="1.2" fill="#3a2818"/><circle cx="484.5" cy="150.9" r="0.6" fill="#20160c"/><circle cx="480.1" cy="136.7" r="0.9" fill="#5a4028"/><circle cx="469.9" cy="174.6" r="1.1" fill="#3a2818"/><circle cx="474.1" cy="168.4" r="0.6" fill="#4a3420"/><circle cx="473.8" cy="168.4" r="0.6" fill="#3a2818"/><circle cx="468.1" cy="157.8" r="0.9" fill="#2a1c10"/><circle cx="475.2" cy="169.0" r="1.1" fill="#20160c"/><circle cx="476.4" cy="160.1" r="0.8" fill="#4a3420"/><circle cx="457.8" cy="182.4" r="0.7" fill="#2a1c10"/><circle cx="463.1" cy="162.7" r="0.8" fill="#4a3420"/><circle cx="466.0" cy="171.0" r="1.1" fill="#3a2818"/><circle cx="473.8" cy="175.6" r="0.8" fill="#3a2818"/><circle cx="473.6" cy="160.2" r="0.7" fill="#5a4028"/><circle cx="471.3" cy="181.1" r="0.7" fill="#2a1c10"/><circle cx="474.5" cy="175.7" r="0.7" fill="#4a3420"/><circle cx="471.6" cy="162.3" r="0.6" fill="#3a2818"/><circle cx="468.7" cy="168.0" r="1.0" fill="#3a2818"/><circle cx="469.6" cy="170.1" r="0.9" fill="#3a2818"/><circle cx="466.5" cy="175.8" r="1.1" fill="#20160c"/><circle cx="480.9" cy="169.0" r="1.0" fill="#3a2818"/><circle cx="464.1" cy="184.0" r="0.8" fill="#4a3420"/><circle cx="453.1" cy="159.8" r="0.6" fill="#2a1c10"/><circle cx="474.1" cy="169.8" r="1.2" fill="#20160c"/><circle cx="476.1" cy="166.2" r="0.7" fill="#20160c"/><circle cx="491.1" cy="163.3" r="0.8" fill="#3a2818"/><circle cx="480.5" cy="181.3" r="1.2" fill="#3a2818"/><circle cx="473.1" cy="184.5" r="0.7" fill="#20160c"/><circle cx="462.8" cy="180.9" r="1.2" fill="#3a2818"/><circle cx="475.0" cy="167.6" r="0.7" fill="#4a3420"/><circle cx="470.1" cy="164.4" r="0.8" fill="#5a4028"/><circle cx="479.5" cy="177.5" r="0.9" fill="#5a4028"/><circle cx="457.7" cy="175.4" r="0.7" fill="#2a1c10"/><circle cx="477.3" cy="172.5" r="0.6" fill="#4a3420"/><circle cx="491.6" cy="165.4" r="1.0" fill="#3a2818"/><circle cx="476.1" cy="176.6" r="0.9" fill="#4a3420"/><circle cx="454.1" cy="171.2" r="0.9" fill="#4a3420"/><circle cx="458.9" cy="157.3" r="0.9" fill="#3a2818"/><circle cx="477.7" cy="178.0" r="1.0" fill="#20160c"/><circle cx="472.7" cy="158.9" r="0.6" fill="#3a2818"/><circle cx="480.3" cy="171.9" r="1.1" fill="#2a1c10"/><circle cx="480.8" cy="170.6" r="1.2" fill="#5a4028"/><circle cx="466.5" cy="159.8" r="0.7" fill="#2a1c10"/><circle cx="483.4" cy="192.1" r="0.8" fill="#5a4028"/><circle cx="460.0" cy="163.2" r="0.7" fill="#4a3420"/><circle cx="474.4" cy="173.8" r="0.9" fill="#5a4028"/><circle cx="462.8" cy="175.2" r="0.8" fill="#4a3420"/><circle cx="481.4" cy="165.4" r="1.0" fill="#5a4028"/><circle cx="482.6" cy="152.5" r="0.7" fill="#5a4028"/><circle cx="454.3" cy="160.6" r="1.0" fill="#4a3420"/><circle cx="473.1" cy="182.2" r="0.7" fill="#4a3420"/><circle cx="471.2" cy="173.4" r="1.0" fill="#4a3420"/><circle cx="467.9" cy="169.6" r="1.0" fill="#5a4028"/><circle cx="464.4" cy="156.7" r="1.0" fill="#20160c"/><circle cx="470.7" cy="182.0" r="1.0" fill="#20160c"/><circle cx="479.0" cy="172.0" r="1.0" fill="#2a1c10"/><circle cx="457.8" cy="148.4" r="0.7" fill="#20160c"/><circle cx="478.6" cy="171.5" r="0.6" fill="#5a4028"/><circle cx="479.2" cy="153.3" r="0.7" fill="#5a4028"/><circle cx="478.3" cy="174.6" r="0.6" fill="#2a1c10"/><circle cx="462.3" cy="169.7" r="0.7" fill="#5a4028"/><circle cx="452.6" cy="168.6" r="1.0" fill="#20160c"/><circle cx="479.8" cy="142.8" r="1.1" fill="#3a2818"/><circle cx="475.9" cy="153.9" r="1.1" fill="#3a2818"/><circle cx="479.1" cy="176.7" r="1.0" fill="#2a1c10"/><circle cx="473.6" cy="168.0" r="0.9" fill="#4a3420"/><circle cx="460.0" cy="171.6" r="1.0" fill="#20160c"/><circle cx="483.1" cy="163.1" r="0.6" fill="#3a2818"/><circle cx="490.6" cy="187.0" r="1.1" fill="#4a3420"/><circle cx="471.7" cy="182.7" r="1.1" fill="#4a3420"/><circle cx="483.8" cy="167.7" r="0.6" fill="#2a1c10"/><circle cx="464.0" cy="173.0" r="0.8" fill="#2a1c10"/><circle cx="453.5" cy="158.9" r="1.0" fill="#20160c"/><circle cx="474.1" cy="184.6" r="0.6" fill="#3a2818"/><circle cx="448.3" cy="169.0" r="0.7" fill="#5a4028"/><circle cx="474.1" cy="153.8" r="0.9" fill="#4a3420"/><circle cx="459.3" cy="172.2" r="0.6" fill="#4a3420"/><circle cx="464.1" cy="147.0" r="0.8" fill="#2a1c10"/><circle cx="478.0" cy="164.6" r="1.2" fill="#5a4028"/><circle cx="468.9" cy="179.6" r="0.6" fill="#2a1c10"/><circle cx="470.1" cy="181.0" r="0.9" fill="#2a1c10"/><circle cx="482.9" cy="177.9" r="0.6" fill="#5a4028"/><circle cx="472.0" cy="175.7" r="0.9" fill="#3a2818"/><circle cx="464.2" cy="173.1" r="0.8" fill="#4a3420"/><circle cx="467.2" cy="188.0" r="1.1" fill="#5a4028"/><circle cx="464.5" cy="174.2" r="0.7" fill="#20160c"/><circle cx="475.0" cy="167.0" r="0.8" fill="#20160c"/><circle cx="466.3" cy="153.4" r="0.9" fill="#5a4028"/><circle cx="477.3" cy="164.6" r="0.9" fill="#2a1c10"/><circle cx="466.6" cy="167.9" r="1.0" fill="#2a1c10"/><circle cx="467.9" cy="164.8" r="1.2" fill="#5a4028"/><circle cx="470.9" cy="160.3" r="1.0" fill="#2a1c10"/><circle cx="469.4" cy="158.4" r="0.8" fill="#2a1c10"/><circle cx="477.3" cy="167.0" r="0.7" fill="#2a1c10"/></g>
<g filter="url(#b05)" opacity="0.7"><circle cx="468.8" cy="161.6" r="0.5" fill="#6e5030"/><circle cx="460.3" cy="165.6" r="0.5" fill="#6e5030"/><circle cx="473.2" cy="148.8" r="0.6" fill="#4e3620"/><circle cx="458.4" cy="139.4" r="0.4" fill="#6e5030"/><circle cx="474.6" cy="166.4" r="0.5" fill="#3e2a16"/><circle cx="445.5" cy="181.9" r="0.6" fill="#6e5030"/><circle cx="509.1" cy="189.5" r="0.7" fill="#2e2012"/><circle cx="510.5" cy="158.9" r="0.7" fill="#3e2a16"/><circle cx="467.8" cy="165.3" r="0.7" fill="#6e5030"/><circle cx="441.0" cy="148.3" r="0.7" fill="#4e3620"/><circle cx="468.3" cy="193.8" r="0.6" fill="#2e2012"/><circle cx="477.9" cy="187.6" r="0.5" fill="#2e2012"/><circle cx="458.8" cy="185.1" r="0.5" fill="#5e4428"/><circle cx="463.8" cy="156.6" r="0.6" fill="#6e5030"/><circle cx="451.4" cy="166.9" r="0.7" fill="#2e2012"/><circle cx="476.0" cy="157.3" r="0.5" fill="#4e3620"/><circle cx="462.0" cy="118.6" r="0.6" fill="#2e2012"/><circle cx="443.3" cy="172.4" r="0.5" fill="#3e2a16"/><circle cx="415.8" cy="149.7" r="0.5" fill="#2e2012"/><circle cx="490.6" cy="164.0" r="0.6" fill="#5e4428"/><circle cx="486.5" cy="171.5" r="0.7" fill="#5e4428"/><circle cx="483.2" cy="161.5" r="0.7" fill="#3e2a16"/><circle cx="463.5" cy="162.1" r="0.5" fill="#2e2012"/><circle cx="520.4" cy="182.2" r="0.6" fill="#5e4428"/><circle cx="469.4" cy="138.3" r="0.5" fill="#6e5030"/><circle cx="460.2" cy="167.8" r="0.4" fill="#6e5030"/><circle cx="455.4" cy="187.8" r="0.7" fill="#5e4428"/><circle cx="470.8" cy="145.5" r="0.7" fill="#5e4428"/><circle cx="484.0" cy="183.9" r="0.7" fill="#2e2012"/><circle cx="461.2" cy="193.6" r="0.5" fill="#4e3620"/></g>
<ellipse cx="461" cy="161" rx="3.5" ry="2.3" fill="#f4f4f8" filter="url(#b05)"/>
</g>
<text x="281.4" y="35.2" font-size="9" fill="#222" stroke="#222" stroke-width="0.22">SP142</text>
<text x="403.4" y="35.2" font-size="9" fill="#222" stroke="#222" stroke-width="0.22">DC-LAMP</text>
<text x="281.4" y="138.6" font-size="9" fill="#222" stroke="#222" stroke-width="0.22">SP142</text>
<text x="403.4" y="138.6" font-size="9" fill="#222" stroke="#222" stroke-width="0.22">DC-LAMP</text>
<line x1="277.4" y1="119.8" x2="297.7" y2="119.8" stroke="#222" stroke-width="1.1"/>
<text x="287.5" y="118.4" font-size="2.6" text-anchor="middle" fill="#333" stroke="#333" stroke-width="0.22">200 µm</text>
<line x1="400.6" y1="119.8" x2="420.6" y2="119.8" stroke="#222" stroke-width="1.1"/>
<text x="410.6" y="118.4" font-size="2.6" text-anchor="middle" fill="#333" stroke="#333" stroke-width="0.22">200 µm</text>
<line x1="277.4" y1="214.2" x2="298.8" y2="214.2" stroke="#222" stroke-width="1.1"/>
<text x="288.1" y="212.8" font-size="2.6" text-anchor="middle" fill="#333" stroke="#333" stroke-width="0.22">100 µm</text>
<line x1="400.6" y1="214.2" x2="421.6" y2="214.2" stroke="#222" stroke-width="1.1"/>
<text x="411.1" y="212.8" font-size="2.6" text-anchor="middle" fill="#333" stroke="#333" stroke-width="0.22">100 µm</text>
<g clip-path="url(#d1)">
<rect x="59.5" y="237.0" width="96.30" height="82.60" fill="#f3f6fb"/>
<rect x="59.5" y="237.0" width="96.30" height="82.60" filter="url(#sp8)" opacity="0.9"/>
<g filter="url(#b05)" opacity="1.0"><circle cx="67.8" cy="243.9" r="0.7" fill="#6a6a30"/><circle cx="148.2" cy="285.6" r="0.9" fill="#3a70c0"/><circle cx="97.9" cy="244.1" r="0.5" fill="#6a6a30"/><circle cx="121.3" cy="295.2" r="0.8" fill="#3a70c0"/><circle cx="122.5" cy="251.7" r="0.7" fill="#6a6a30"/><circle cx="61.2" cy="270.0" r="0.8" fill="#4a7a4a"/></g>
</g>
<g clip-path="url(#d2)">
<rect x="156.4" y="237.0" width="95.60" height="82.60" fill="#cdc8b0"/>
<rect x="156.4" y="237.0" width="95.60" height="82.60" filter="url(#sp9)" opacity="0.95"/>
<rect x="156.4" y="237.0" width="95.60" height="82.60" filter="url(#sp10)" opacity="0.8"/>
<g filter="url(#b2)"><path d="M158,264 Q185,263 203,268 Q218,255 252,250 L252,292 Q232,291 214,283 Q195,275 158,273Z" fill="#e6e4da" opacity="0.88"/><path d="M156.4,301 Q200,297 252,304 L252,317 Q200,313 156.4,314Z" fill="#dcd8c6" opacity="0.7"/></g>
<rect x="156.4" y="237.0" width="95.60" height="82.60" filter="url(#sp11)" opacity="0.9"/>
<rect x="156.4" y="237.0" width="95.60" height="82.60" filter="url(#sp12)" opacity="0.7"/>
</g>
<g clip-path="url(#d3)">
<rect x="59.5" y="320.3" width="96.30" height="80.90" fill="#f4f7fb"/>
<rect x="59.5" y="320.3" width="96.30" height="80.90" filter="url(#sp13)" opacity="0.9"/>
<path d="M137,320.3 L155.8,320.3 L155.8,345 L152.5,357 L145,370 L136,382 L131,401.2 L112,401.2 L116,382 L120,370 L126,351Z" fill="#fdfdfe" filter="url(#b05)"/>
<ellipse cx="100" cy="336" rx="24" ry="13" fill="#a4a278" opacity="0.42" filter="url(#b4)"/>
<g filter="url(#b05)" opacity="0.9"><circle cx="103.0" cy="320.3" r="1.0" fill="#3a78c0"/><circle cx="97.0" cy="346.1" r="0.6" fill="#4a4a20"/><circle cx="94.3" cy="335.7" r="0.6" fill="#4a4a20"/><circle cx="69.3" cy="339.4" r="0.5" fill="#3e5a30"/><circle cx="104.9" cy="331.1" r="0.9" fill="#2a6ab8"/><circle cx="82.7" cy="359.4" r="1.0" fill="#6a6434"/><circle cx="95.7" cy="335.1" r="1.1" fill="#3a78c0"/><circle cx="92.8" cy="353.1" r="0.7" fill="#3a78c0"/><circle cx="101.3" cy="355.8" r="0.6" fill="#3e5a30"/><circle cx="105.9" cy="311.6" r="0.6" fill="#5a5a28"/><circle cx="120.3" cy="328.1" r="0.6" fill="#3e5a30"/><circle cx="83.8" cy="330.7" r="1.0" fill="#3e5a30"/><circle cx="106.0" cy="331.3" r="0.7" fill="#5a5a28"/><circle cx="70.3" cy="338.9" r="1.0" fill="#2a6ab8"/><circle cx="128.9" cy="347.6" r="0.8" fill="#3a78c0"/><circle cx="112.7" cy="339.8" r="0.9" fill="#6a6434"/><circle cx="68.0" cy="322.8" r="0.5" fill="#4a4a20"/><circle cx="62.8" cy="352.1" r="0.9" fill="#3a78c0"/><circle cx="93.2" cy="357.1" r="0.9" fill="#3e5a30"/><circle cx="126.5" cy="345.5" r="0.6" fill="#4a4a20"/><circle cx="86.5" cy="347.7" r="0.6" fill="#3e5a30"/><circle cx="96.0" cy="340.2" r="0.7" fill="#6a6434"/><circle cx="85.1" cy="332.4" r="0.6" fill="#4a4a20"/><circle cx="75.9" cy="341.0" r="0.7" fill="#3a78c0"/><circle cx="103.0" cy="324.6" r="0.9" fill="#5a5a28"/><circle cx="81.7" cy="344.7" r="0.8" fill="#6a6434"/><circle cx="74.9" cy="343.9" r="1.1" fill="#5a5a28"/><circle cx="93.7" cy="348.6" r="0.7" fill="#2a6ab8"/><circle cx="104.2" cy="320.7" r="0.7" fill="#5a5a28"/><circle cx="69.6" cy="359.8" r="0.8" fill="#6a6434"/><circle cx="86.4" cy="317.9" r="0.8" fill="#6a6434"/><circle cx="84.1" cy="337.9" r="0.8" fill="#2a6ab8"/><circle cx="126.6" cy="325.7" r="0.5" fill="#5a5a28"/><circle cx="81.1" cy="335.5" r="0.8" fill="#3a78c0"/><circle cx="83.8" cy="362.1" r="0.8" fill="#4a4a20"/><circle cx="88.4" cy="336.7" r="1.0" fill="#6a6434"/><circle cx="90.4" cy="316.9" r="0.8" fill="#6a6434"/><circle cx="78.0" cy="329.1" r="0.5" fill="#2a6ab8"/><circle cx="106.3" cy="350.9" r="1.0" fill="#2a6ab8"/><circle cx="54.8" cy="338.1" r="0.9" fill="#3e5a30"/><circle cx="137.5" cy="336.1" r="0.9" fill="#4a4a20"/><circle cx="101.9" cy="356.7" r="0.6" fill="#4a4a20"/><circle cx="97.7" cy="349.2" r="0.6" fill="#3a78c0"/><circle cx="48.2" cy="332.8" r="0.6" fill="#5a5a28"/><circle cx="108.4" cy="318.8" r="1.0" fill="#4a4a20"/><circle cx="80.9" cy="355.4" r="0.9" fill="#5a5a28"/><circle cx="77.4" cy="322.0" r="1.0" fill="#2a6ab8"/><circle cx="112.3" cy="335.0" r="0.7" fill="#2a6ab8"/><circle cx="107.2" cy="354.9" r="0.9" fill="#2a6ab8"/><circle cx="119.3" cy="342.5" r="0.7" fill="#2a6ab8"/><circle cx="96.6" cy="358.6" r="0.6" fill="#6a6434"/><circle cx="94.3" cy="335.1" r="0.9" fill="#3e5a30"/><circle cx="120.4" cy="328.4" r="0.5" fill="#5a5a28"/><circle cx="91.0" cy="326.0" r="1.1" fill="#2a6ab8"/><circle cx="81.6" cy="303.4" r="0.9" fill="#2a6ab8"/><circle cx="81.9" cy="309.6" r="0.7" fill="#4a4a20"/><circle cx="116.5" cy="343.5" r="0.7" fill="#3a78c0"/><circle cx="96.8" cy="344.5" r="0.7" fill="#3a78c0"/><circle cx="85.9" cy="346.4" r="0.6" fill="#3a78c0"/><circle cx="81.7" cy="324.1" r="0.6" fill="#4a4a20"/><circle cx="66.3" cy="338.0" r="0.8" fill="#5a5a28"/><circle cx="77.4" cy="342.8" r="0.5" fill="#3a78c0"/><circle cx="100.1" cy="335.5" r="0.6" fill="#6a6434"/><circle cx="100.0" cy="351.7" r="0.7" fill="#5a5a28"/><circle cx="99.0" cy="317.2" r="0.5" fill="#4a4a20"/><circle cx="103.4" cy="344.2" r="0.5" fill="#4a4a20"/><circle cx="98.4" cy="356.7" r="0.6" fill="#2a6ab8"/><circle cx="130.4" cy="345.3" r="0.9" fill="#4a4a20"/><circle cx="86.1" cy="332.8" r="0.6" fill="#6a6434"/><circle cx="106.2" cy="343.6" r="0.9" fill="#5a5a28"/><circle cx="127.4" cy="348.4" r="1.0" fill="#6a6434"/><circle cx="110.8" cy="351.6" r="0.8" fill="#6a6434"/><circle cx="112.4" cy="338.4" r="1.1" fill="#4a4a20"/><circle cx="102.7" cy="349.0" r="0.5" fill="#3a78c0"/><circle cx="105.9" cy="329.4" r="0.7" fill="#2a6ab8"/><circle cx="108.9" cy="347.4" r="0.9" fill="#3e5a30"/><circle cx="104.6" cy="335.2" r="0.9" fill="#3e5a30"/><circle cx="93.8" cy="348.6" r="1.0" fill="#4a4a20"/><circle cx="84.2" cy="309.9" r="0.6" fill="#6a6434"/><circle cx="107.9" cy="329.1" r="0.7" fill="#3a78c0"/><circle cx="126.3" cy="335.3" r="1.0" fill="#3e5a30"/><circle cx="74.2" cy="327.5" r="0.8" fill="#3a78c0"/><circle cx="108.1" cy="331.3" r="0.6" fill="#6a6434"/><circle cx="71.5" cy="310.6" r="0.6" fill="#6a6434"/><circle cx="89.2" cy="338.1" r="1.0" fill="#2a6ab8"/><circle cx="120.4" cy="345.0" r="0.7" fill="#3e5a30"/><circle cx="114.2" cy="334.4" r="0.7" fill="#2a6ab8"/><circle cx="130.1" cy="308.1" r="0.7" fill="#3e5a30"/><circle cx="72.5" cy="337.3" r="0.8" fill="#3e5a30"/><circle cx="104.3" cy="353.7" r="0.7" fill="#4a4a20"/><circle cx="117.6" cy="351.1" r="0.9" fill="#2a6ab8"/><circle cx="88.2" cy="377.6" r="0.9" fill="#4a4a20"/><circle cx="60.3" cy="350.2" r="1.0" fill="#5a5a28"/><circle cx="90.9" cy="312.8" r="1.1" fill="#6a6434"/><circle cx="94.4" cy="354.6" r="0.6" fill="#2a6ab8"/><circle cx="95.9" cy="323.5" r="0.9" fill="#5a5a28"/><circle cx="119.6" cy="328.3" r="1.1" fill="#5a5a28"/><circle cx="89.0" cy="332.8" r="0.5" fill="#6a6434"/><circle cx="109.7" cy="324.5" r="0.6" fill="#2a6ab8"/><circle cx="75.4" cy="307.7" r="0.5" fill="#4a4a20"/><circle cx="106.0" cy="335.1" r="0.9" fill="#3e5a30"/><circle cx="87.8" cy="323.0" r="1.0" fill="#3e5a30"/><circle cx="102.8" cy="336.4" r="0.9" fill="#6a6434"/><circle cx="97.6" cy="341.2" r="0.6" fill="#4a4a20"/><circle cx="105.9" cy="348.2" r="0.6" fill="#2a6ab8"/><circle cx="104.4" cy="327.3" r="0.6" fill="#2a6ab8"/><circle cx="86.8" cy="327.9" r="0.8" fill="#2a6ab8"/><circle cx="65.8" cy="325.2" r="0.9" fill="#3e5a30"/><circle cx="89.8" cy="359.8" r="0.9" fill="#6a6434"/><circle cx="101.7" cy="351.6" r="1.0" fill="#6a6434"/><circle cx="79.7" cy="328.8" r="0.8" fill="#4a4a20"/><circle cx="80.5" cy="335.0" r="0.7" fill="#4a4a20"/><circle cx="128.9" cy="336.6" r="0.7" fill="#6a6434"/><circle cx="82.4" cy="329.5" r="0.7" fill="#2a6ab8"/><circle cx="79.0" cy="339.3" r="0.8" fill="#3e5a30"/><circle cx="104.9" cy="341.2" r="0.9" fill="#3a78c0"/><circle cx="120.8" cy="347.4" r="0.6" fill="#5a5a28"/><circle cx="89.6" cy="335.5" r="0.6" fill="#5a5a28"/><circle cx="82.9" cy="341.7" r="0.7" fill="#5a5a28"/><circle cx="96.8" cy="337.0" r="0.6" fill="#5a5a28"/><circle cx="103.6" cy="343.2" r="1.0" fill="#2a6ab8"/><circle cx="94.6" cy="321.3" r="0.6" fill="#3e5a30"/><circle cx="73.9" cy="343.9" r="0.5" fill="#4a4a20"/><circle cx="91.9" cy="344.2" r="1.0" fill="#4a4a20"/><circle cx="50.6" cy="326.4" r="0.7" fill="#6a6434"/><circle cx="122.8" cy="324.6" r="0.6" fill="#4a4a20"/><circle cx="106.6" cy="333.7" r="0.8" fill="#3e5a30"/><circle cx="107.7" cy="333.6" r="0.9" fill="#4a4a20"/><circle cx="87.8" cy="341.7" r="0.8" fill="#5a5a28"/><circle cx="84.6" cy="356.9" r="1.0" fill="#4a4a20"/><circle cx="102.4" cy="329.2" r="1.0" fill="#3a78c0"/><circle cx="131.3" cy="330.0" r="0.6" fill="#3a78c0"/><circle cx="60.5" cy="335.2" r="0.9" fill="#3e5a30"/><circle cx="98.0" cy="326.2" r="0.8" fill="#2a6ab8"/><circle cx="108.8" cy="334.4" r="0.5" fill="#3a78c0"/><circle cx="106.1" cy="342.5" r="1.0" fill="#6a6434"/><circle cx="108.8" cy="325.7" r="0.6" fill="#4a4a20"/><circle cx="118.9" cy="369.5" r="0.9" fill="#5a5a28"/><circle cx="115.0" cy="346.3" r="0.8" fill="#3a78c0"/><circle cx="105.4" cy="316.1" r="0.8" fill="#5a5a28"/><circle cx="86.6" cy="327.9" r="0.7" fill="#3e5a30"/><circle cx="106.8" cy="344.9" r="0.8" fill="#3a78c0"/><circle cx="115.4" cy="318.9" r="0.9" fill="#3e5a30"/><circle cx="77.5" cy="350.2" r="0.7" fill="#3e5a30"/><circle cx="53.8" cy="323.6" r="0.6" fill="#3e5a30"/><circle cx="75.5" cy="327.9" r="0.9" fill="#2a6ab8"/><circle cx="72.1" cy="334.5" r="0.8" fill="#6a6434"/><circle cx="102.6" cy="364.3" r="0.7" fill="#6a6434"/><circle cx="127.2" cy="329.7" r="1.1" fill="#3e5a30"/><circle cx="90.0" cy="352.0" r="0.6" fill="#3a78c0"/><circle cx="102.2" cy="327.1" r="0.6" fill="#4a4a20"/><circle cx="90.5" cy="340.6" r="0.9" fill="#3a78c0"/><circle cx="116.7" cy="339.4" r="0.9" fill="#3e5a30"/><circle cx="87.9" cy="352.2" r="0.8" fill="#3e5a30"/><circle cx="113.7" cy="335.9" r="1.1" fill="#2a6ab8"/><circle cx="88.7" cy="335.0" r="1.0" fill="#4a4a20"/><circle cx="108.8" cy="355.0" r="0.8" fill="#5a5a28"/><circle cx="88.1" cy="342.0" r="1.1" fill="#3a78c0"/><circle cx="92.7" cy="348.4" r="0.5" fill="#6a6434"/><circle cx="84.6" cy="326.3" r="1.0" fill="#2a6ab8"/><circle cx="112.9" cy="348.7" r="1.0" fill="#3a78c0"/><circle cx="95.8" cy="310.4" r="0.9" fill="#6a6434"/><circle cx="105.4" cy="342.0" r="0.5" fill="#5a5a28"/><circle cx="127.4" cy="332.7" r="0.6" fill="#5a5a28"/><circle cx="74.3" cy="341.6" r="0.7" fill="#3a78c0"/><circle cx="79.9" cy="359.9" r="1.0" fill="#4a4a20"/><circle cx="79.5" cy="338.6" r="1.0" fill="#5a5a28"/><circle cx="109.9" cy="342.3" r="1.0" fill="#3a78c0"/><circle cx="97.6" cy="329.8" r="0.7" fill="#2a6ab8"/><circle cx="102.8" cy="351.9" r="0.7" fill="#2a6ab8"/></g>
</g>
<g clip-path="url(#d4)">
<rect x="156.4" y="320.3" width="95.60" height="80.90" fill="#eaeef6"/>
<rect x="156.4" y="320.3" width="95.60" height="80.90" filter="url(#sp14)" opacity="0.78"/>
<path d="M252,330 L252,350 L245,362 L240,370 L233.8,382.5 L230,401.2 L210,401.2 L215,382.5 L220,370 L231,357.5 L245,340Z" fill="#fdfdfe" filter="url(#b05)"/><path d="M247,320.3 L252,320.3 L252,332Z" fill="#fdfdfe"/>
<ellipse cx="206" cy="338" rx="28" ry="16" fill="#b8b490" opacity="0.4" filter="url(#b4)"/>
<g filter="url(#b05)" opacity="0.8"><circle cx="175.2" cy="344.3" r="0.9" fill="#3a7a4a"/><circle cx="279.8" cy="340.9" r="1.0" fill="#3a7a4a"/><circle cx="186.1" cy="327.0" r="0.9" fill="#3a7a4a"/><circle cx="224.3" cy="364.2" r="1.0" fill="#8a8450"/><circle cx="191.5" cy="327.9" r="0.8" fill="#9a9460"/><circle cx="229.9" cy="330.3" r="0.6" fill="#a8a070"/><circle cx="223.2" cy="347.1" r="1.0" fill="#a8a070"/><circle cx="180.5" cy="346.8" r="0.8" fill="#a8a070"/><circle cx="214.1" cy="321.7" r="1.1" fill="#a8a070"/><circle cx="244.1" cy="335.6" r="0.6" fill="#3a7a4a"/><circle cx="152.9" cy="325.9" r="0.8" fill="#3a7a4a"/><circle cx="197.3" cy="330.1" r="0.7" fill="#9a9460"/><circle cx="196.2" cy="354.0" r="0.7" fill="#8a8450"/><circle cx="241.5" cy="348.8" r="0.9" fill="#a8a070"/><circle cx="211.3" cy="346.8" r="0.5" fill="#8a8450"/><circle cx="224.0" cy="367.2" r="1.1" fill="#8a8450"/><circle cx="214.1" cy="352.9" r="1.0" fill="#a8a070"/><circle cx="233.9" cy="345.1" r="0.6" fill="#9a9460"/><circle cx="211.3" cy="328.0" r="1.0" fill="#a8a070"/><circle cx="155.1" cy="316.0" r="1.1" fill="#8a8450"/><circle cx="219.4" cy="328.6" r="1.1" fill="#8a8450"/><circle cx="221.4" cy="349.4" r="0.8" fill="#a8a070"/><circle cx="221.3" cy="372.7" r="1.0" fill="#9a9460"/><circle cx="225.5" cy="344.1" r="0.7" fill="#3a7a4a"/><circle cx="198.0" cy="343.8" r="1.0" fill="#3a7a4a"/><circle cx="222.9" cy="345.2" r="0.9" fill="#a8a070"/><circle cx="178.8" cy="347.2" r="1.0" fill="#a8a070"/><circle cx="179.2" cy="350.5" r="0.7" fill="#a8a070"/><circle cx="187.2" cy="352.9" r="0.5" fill="#3a7a4a"/><circle cx="209.2" cy="333.2" r="0.9" fill="#9a9460"/><circle cx="199.9" cy="352.9" r="0.6" fill="#9a9460"/><circle cx="217.2" cy="319.7" r="0.9" fill="#9a9460"/><circle cx="188.7" cy="353.3" r="0.8" fill="#9a9460"/><circle cx="183.9" cy="347.9" r="1.0" fill="#3a7a4a"/><circle cx="226.2" cy="349.1" r="0.7" fill="#3a7a4a"/><circle cx="218.5" cy="310.7" r="1.0" fill="#8a8450"/><circle cx="193.2" cy="324.2" r="0.8" fill="#9a9460"/><circle cx="229.3" cy="314.0" r="0.8" fill="#9a9460"/><circle cx="195.2" cy="335.0" r="0.5" fill="#8a8450"/><circle cx="221.9" cy="332.4" r="1.0" fill="#3a7a4a"/><circle cx="232.9" cy="354.7" r="1.0" fill="#3a7a4a"/><circle cx="223.8" cy="340.5" r="0.9" fill="#a8a070"/><circle cx="230.9" cy="336.0" r="0.8" fill="#9a9460"/><circle cx="173.0" cy="326.9" r="0.5" fill="#3a7a4a"/><circle cx="183.5" cy="341.9" r="0.6" fill="#3a7a4a"/><circle cx="217.8" cy="336.7" r="0.8" fill="#a8a070"/><circle cx="178.1" cy="333.9" r="0.6" fill="#3a7a4a"/><circle cx="182.1" cy="349.7" r="0.8" fill="#a8a070"/><circle cx="259.8" cy="326.4" r="1.0" fill="#8a8450"/><circle cx="201.6" cy="329.7" r="1.0" fill="#3a7a4a"/><circle cx="187.8" cy="330.8" r="1.1" fill="#a8a070"/><circle cx="198.5" cy="333.1" r="1.1" fill="#9a9460"/><circle cx="199.8" cy="333.8" r="0.6" fill="#9a9460"/><circle cx="221.6" cy="332.5" r="0.6" fill="#a8a070"/><circle cx="245.1" cy="335.5" r="0.8" fill="#a8a070"/><circle cx="209.2" cy="321.0" r="0.7" fill="#a8a070"/><circle cx="205.3" cy="331.4" r="0.7" fill="#8a8450"/><circle cx="225.0" cy="363.5" r="0.6" fill="#9a9460"/><circle cx="248.8" cy="326.1" r="1.0" fill="#a8a070"/><circle cx="197.0" cy="337.4" r="0.9" fill="#9a9460"/><circle cx="214.6" cy="341.5" r="0.9" fill="#3a7a4a"/><circle cx="237.7" cy="346.2" r="0.9" fill="#8a8450"/><circle cx="186.4" cy="318.8" r="0.7" fill="#9a9460"/><circle cx="207.7" cy="324.4" r="0.9" fill="#3a7a4a"/><circle cx="189.5" cy="342.5" r="0.8" fill="#9a9460"/><circle cx="246.9" cy="379.2" r="1.1" fill="#8a8450"/><circle cx="248.8" cy="371.9" r="1.0" fill="#8a8450"/><circle cx="203.7" cy="337.1" r="1.0" fill="#8a8450"/><circle cx="202.1" cy="318.1" r="0.7" fill="#a8a070"/><circle cx="191.2" cy="328.6" r="1.1" fill="#9a9460"/><circle cx="189.2" cy="321.0" r="1.0" fill="#3a7a4a"/><circle cx="201.8" cy="340.7" r="0.9" fill="#8a8450"/><circle cx="228.4" cy="323.3" r="0.7" fill="#9a9460"/><circle cx="192.4" cy="328.8" r="0.8" fill="#3a7a4a"/><circle cx="165.3" cy="322.7" r="1.0" fill="#8a8450"/><circle cx="154.2" cy="348.0" r="0.7" fill="#9a9460"/><circle cx="153.4" cy="328.1" r="0.5" fill="#3a7a4a"/><circle cx="202.3" cy="345.3" r="1.0" fill="#a8a070"/><circle cx="204.5" cy="313.6" r="0.6" fill="#3a7a4a"/><circle cx="201.2" cy="343.8" r="0.9" fill="#8a8450"/><circle cx="187.2" cy="333.7" r="0.7" fill="#a8a070"/><circle cx="173.0" cy="352.2" r="0.7" fill="#a8a070"/><circle cx="198.4" cy="325.7" r="0.7" fill="#a8a070"/><circle cx="247.3" cy="331.8" r="1.0" fill="#8a8450"/><circle cx="233.5" cy="320.4" r="0.5" fill="#8a8450"/><circle cx="206.2" cy="347.2" r="1.0" fill="#8a8450"/><circle cx="211.5" cy="333.2" r="0.8" fill="#3a7a4a"/><circle cx="249.6" cy="371.5" r="0.8" fill="#a8a070"/><circle cx="231.1" cy="346.3" r="1.0" fill="#9a9460"/><circle cx="204.9" cy="351.2" r="0.7" fill="#3a7a4a"/><circle cx="190.3" cy="361.4" r="1.0" fill="#8a8450"/><circle cx="249.2" cy="316.8" r="0.7" fill="#a8a070"/><circle cx="233.9" cy="351.3" r="0.5" fill="#9a9460"/><circle cx="167.9" cy="338.1" r="0.6" fill="#9a9460"/><circle cx="212.0" cy="332.4" r="1.0" fill="#3a7a4a"/><circle cx="224.2" cy="325.4" r="0.8" fill="#a8a070"/><circle cx="235.6" cy="344.8" r="1.1" fill="#9a9460"/><circle cx="198.7" cy="348.8" r="0.7" fill="#8a8450"/><circle cx="179.9" cy="350.1" r="0.7" fill="#a8a070"/><circle cx="198.1" cy="327.7" r="0.6" fill="#3a7a4a"/><circle cx="195.1" cy="347.7" r="0.5" fill="#9a9460"/><circle cx="206.7" cy="294.7" r="0.9" fill="#9a9460"/><circle cx="152.4" cy="346.0" r="0.9" fill="#a8a070"/><circle cx="161.1" cy="312.3" r="0.7" fill="#8a8450"/><circle cx="210.1" cy="341.5" r="1.0" fill="#8a8450"/><circle cx="179.9" cy="340.7" r="0.7" fill="#a8a070"/><circle cx="200.4" cy="349.7" r="0.8" fill="#3a7a4a"/><circle cx="239.7" cy="344.1" r="1.0" fill="#9a9460"/><circle cx="206.5" cy="348.3" r="0.7" fill="#8a8450"/><circle cx="206.5" cy="349.3" r="1.1" fill="#9a9460"/><circle cx="233.7" cy="330.8" r="0.5" fill="#a8a070"/><circle cx="216.3" cy="331.0" r="0.6" fill="#9a9460"/><circle cx="261.8" cy="340.6" r="1.0" fill="#a8a070"/><circle cx="264.2" cy="351.2" r="0.6" fill="#8a8450"/><circle cx="231.4" cy="351.3" r="0.5" fill="#3a7a4a"/><circle cx="239.3" cy="355.3" r="0.8" fill="#9a9460"/><circle cx="206.9" cy="356.0" r="1.0" fill="#9a9460"/><circle cx="182.7" cy="335.7" r="0.6" fill="#3a7a4a"/><circle cx="242.5" cy="332.1" r="0.6" fill="#8a8450"/><circle cx="240.5" cy="362.0" r="0.6" fill="#9a9460"/></g>
<ellipse cx="190" cy="355" rx="7" ry="4" fill="#f4f4f6" filter="url(#b05)"/>
</g>
<g clip-path="url(#d5)">
<rect x="59.5" y="401.9" width="96.30" height="81.10" fill="#eff3f9"/>
<rect x="59.5" y="401.9" width="96.30" height="81.10" filter="url(#sp15)" opacity="0.9"/>
<ellipse cx="85" cy="428" rx="22" ry="20" fill="#b8bca0" opacity="0.25" filter="url(#b4)"/>
<g filter="url(#b05)" opacity="0.9"><circle cx="63.7" cy="421.1" r="1.0" fill="#3a88c0"/><circle cx="116.0" cy="449.3" r="1.0" fill="#34402a"/><circle cx="96.6" cy="420.6" r="0.5" fill="#34402a"/><circle cx="94.8" cy="417.8" r="0.5" fill="#4a4a20"/><circle cx="63.9" cy="424.9" r="1.0" fill="#34402a"/><circle cx="38.6" cy="443.4" r="0.5" fill="#5a5a28"/><circle cx="99.9" cy="439.0" r="0.9" fill="#3a88c0"/><circle cx="93.1" cy="433.0" r="0.6" fill="#34402a"/><circle cx="54.0" cy="418.8" r="0.6" fill="#34402a"/><circle cx="91.7" cy="414.8" r="0.8" fill="#4a4a20"/><circle cx="76.5" cy="432.4" r="0.8" fill="#34402a"/><circle cx="24.2" cy="430.3" r="0.7" fill="#34402a"/><circle cx="88.2" cy="378.1" r="0.7" fill="#4a4a20"/><circle cx="115.6" cy="396.1" r="0.7" fill="#3a88c0"/><circle cx="25.7" cy="405.9" r="1.0" fill="#3a88c0"/><circle cx="70.8" cy="421.7" r="0.8" fill="#3e4418"/><circle cx="40.2" cy="461.6" r="1.0" fill="#34402a"/><circle cx="95.6" cy="396.6" r="1.0" fill="#34402a"/><circle cx="46.4" cy="421.1" r="1.1" fill="#3e4418"/><circle cx="63.5" cy="414.6" r="0.6" fill="#34402a"/><circle cx="80.0" cy="412.9" r="0.8" fill="#34402a"/><circle cx="89.3" cy="427.1" r="0.5" fill="#3e4418"/><circle cx="99.0" cy="406.0" r="0.6" fill="#5a5a28"/><circle cx="105.9" cy="410.2" r="1.1" fill="#3a88c0"/><circle cx="77.8" cy="418.1" r="0.6" fill="#34402a"/><circle cx="109.4" cy="438.0" r="0.6" fill="#3e4418"/><circle cx="81.6" cy="427.2" r="0.8" fill="#34402a"/><circle cx="95.5" cy="405.1" r="0.8" fill="#4a4a20"/><circle cx="86.8" cy="422.4" r="1.0" fill="#34402a"/><circle cx="84.0" cy="424.5" r="0.8" fill="#4a4a20"/><circle cx="87.2" cy="432.5" r="1.1" fill="#3a88c0"/><circle cx="76.9" cy="444.8" r="0.7" fill="#4a4a20"/><circle cx="79.9" cy="456.3" r="0.9" fill="#3a88c0"/><circle cx="53.9" cy="456.8" r="0.8" fill="#5a5a28"/><circle cx="83.6" cy="417.5" r="0.9" fill="#3e4418"/><circle cx="68.9" cy="415.7" r="0.5" fill="#4a4a20"/><circle cx="83.8" cy="412.7" r="1.0" fill="#5a5a28"/><circle cx="97.5" cy="454.8" r="0.5" fill="#4a4a20"/><circle cx="44.8" cy="397.9" r="0.9" fill="#3a88c0"/><circle cx="75.2" cy="416.8" r="0.9" fill="#5a5a28"/><circle cx="82.5" cy="446.4" r="1.0" fill="#4a4a20"/><circle cx="74.4" cy="411.1" r="0.6" fill="#4a4a20"/><circle cx="96.3" cy="404.4" r="0.8" fill="#3a88c0"/><circle cx="84.3" cy="417.9" r="0.6" fill="#3a88c0"/><circle cx="68.3" cy="414.0" r="0.8" fill="#5a5a28"/><circle cx="118.6" cy="395.1" r="0.7" fill="#3a88c0"/><circle cx="45.6" cy="445.5" r="0.8" fill="#3a88c0"/><circle cx="94.4" cy="428.2" r="0.7" fill="#4a4a20"/><circle cx="111.4" cy="423.2" r="0.6" fill="#4a4a20"/><circle cx="55.9" cy="408.8" r="1.0" fill="#34402a"/><circle cx="71.2" cy="423.7" r="0.8" fill="#3a88c0"/><circle cx="76.8" cy="411.0" r="0.9" fill="#3a88c0"/><circle cx="97.4" cy="416.1" r="0.7" fill="#4a4a20"/><circle cx="77.4" cy="437.9" r="0.8" fill="#3a88c0"/><circle cx="101.6" cy="460.7" r="1.1" fill="#34402a"/><circle cx="63.9" cy="420.2" r="0.6" fill="#34402a"/><circle cx="85.2" cy="423.7" r="0.9" fill="#3a88c0"/><circle cx="86.3" cy="450.8" r="1.1" fill="#34402a"/><circle cx="59.5" cy="407.3" r="0.8" fill="#3a88c0"/><circle cx="77.3" cy="455.5" r="0.8" fill="#3e4418"/><circle cx="34.4" cy="441.7" r="0.8" fill="#4a4a20"/><circle cx="60.4" cy="436.9" r="0.7" fill="#3e4418"/><circle cx="91.6" cy="415.2" r="0.9" fill="#4a4a20"/><circle cx="69.0" cy="417.1" r="0.7" fill="#34402a"/><circle cx="137.0" cy="423.8" r="1.0" fill="#34402a"/><circle cx="113.0" cy="436.0" r="1.1" fill="#5a5a28"/><circle cx="70.8" cy="432.2" r="1.0" fill="#3a88c0"/><circle cx="60.1" cy="417.3" r="0.8" fill="#3a88c0"/><circle cx="67.7" cy="413.2" r="1.1" fill="#3a88c0"/><circle cx="74.5" cy="407.8" r="0.8" fill="#3a88c0"/><circle cx="109.7" cy="429.1" r="0.8" fill="#5a5a28"/><circle cx="60.4" cy="422.7" r="0.6" fill="#4a4a20"/><circle cx="58.1" cy="432.9" r="0.7" fill="#3a88c0"/><circle cx="63.6" cy="403.6" r="1.1" fill="#4a4a20"/><circle cx="86.4" cy="468.5" r="0.8" fill="#5a5a28"/><circle cx="68.3" cy="435.9" r="1.1" fill="#34402a"/><circle cx="75.8" cy="410.0" r="1.0" fill="#5a5a28"/><circle cx="28.6" cy="463.2" r="0.7" fill="#34402a"/><circle cx="60.5" cy="412.3" r="0.8" fill="#3a88c0"/><circle cx="83.1" cy="431.7" r="0.6" fill="#5a5a28"/><circle cx="85.5" cy="421.8" r="0.5" fill="#5a5a28"/><circle cx="116.6" cy="416.3" r="1.1" fill="#3e4418"/><circle cx="84.2" cy="419.2" r="0.6" fill="#3e4418"/><circle cx="74.0" cy="406.5" r="0.8" fill="#3a88c0"/><circle cx="58.5" cy="395.2" r="0.9" fill="#3e4418"/><circle cx="75.1" cy="410.8" r="0.7" fill="#34402a"/><circle cx="78.2" cy="404.7" r="0.8" fill="#4a4a20"/><circle cx="89.2" cy="440.8" r="1.0" fill="#5a5a28"/><circle cx="82.8" cy="427.8" r="0.9" fill="#3e4418"/><circle cx="91.1" cy="440.6" r="0.9" fill="#4a4a20"/><circle cx="128.2" cy="424.7" r="0.7" fill="#3e4418"/><circle cx="48.4" cy="471.4" r="0.8" fill="#3a88c0"/><circle cx="71.4" cy="412.7" r="0.9" fill="#3e4418"/><circle cx="87.9" cy="415.5" r="0.5" fill="#3e4418"/><circle cx="87.2" cy="434.5" r="1.0" fill="#34402a"/><circle cx="71.5" cy="438.7" r="1.0" fill="#3a88c0"/><circle cx="66.4" cy="409.2" r="0.8" fill="#34402a"/><circle cx="85.4" cy="409.5" r="1.0" fill="#3e4418"/><circle cx="87.2" cy="416.5" r="0.6" fill="#3a88c0"/><circle cx="66.9" cy="416.8" r="1.1" fill="#34402a"/><circle cx="110.5" cy="408.7" r="0.9" fill="#5a5a28"/><circle cx="84.7" cy="402.3" r="0.7" fill="#3e4418"/><circle cx="53.5" cy="438.4" r="0.7" fill="#34402a"/><circle cx="72.0" cy="440.9" r="0.7" fill="#34402a"/><circle cx="85.6" cy="437.6" r="1.0" fill="#5a5a28"/><circle cx="70.8" cy="421.3" r="0.9" fill="#5a5a28"/><circle cx="84.8" cy="419.8" r="0.7" fill="#3a88c0"/><circle cx="54.5" cy="432.9" r="0.8" fill="#5a5a28"/><circle cx="73.1" cy="419.5" r="0.8" fill="#5a5a28"/><circle cx="82.7" cy="404.0" r="0.9" fill="#3e4418"/><circle cx="81.2" cy="412.1" r="0.9" fill="#3e4418"/><circle cx="51.4" cy="442.1" r="0.9" fill="#4a4a20"/><circle cx="125.2" cy="397.9" r="0.7" fill="#3e4418"/><circle cx="84.2" cy="402.2" r="0.6" fill="#3a88c0"/><circle cx="82.8" cy="415.7" r="0.6" fill="#3a88c0"/><circle cx="83.6" cy="409.7" r="0.8" fill="#3a88c0"/><circle cx="62.6" cy="409.4" r="0.6" fill="#3e4418"/><circle cx="84.0" cy="408.1" r="1.0" fill="#34402a"/><circle cx="54.4" cy="428.0" r="0.8" fill="#34402a"/><circle cx="49.4" cy="439.3" r="0.8" fill="#4a4a20"/><circle cx="119.4" cy="419.2" r="1.0" fill="#3a88c0"/><circle cx="55.9" cy="418.1" r="0.5" fill="#5a5a28"/><circle cx="82.3" cy="445.4" r="0.8" fill="#3a88c0"/><circle cx="56.0" cy="451.1" r="0.6" fill="#3e4418"/><circle cx="95.2" cy="412.2" r="0.7" fill="#34402a"/><circle cx="105.9" cy="431.0" r="1.0" fill="#3e4418"/><circle cx="86.0" cy="391.3" r="0.9" fill="#34402a"/><circle cx="61.4" cy="427.9" r="0.9" fill="#5a5a28"/><circle cx="86.1" cy="435.0" r="0.6" fill="#3a88c0"/><circle cx="67.3" cy="428.0" r="1.0" fill="#34402a"/><circle cx="47.9" cy="414.8" r="0.5" fill="#3e4418"/><circle cx="86.1" cy="408.7" r="0.5" fill="#4a4a20"/><circle cx="97.3" cy="428.0" r="1.1" fill="#3a88c0"/><circle cx="98.9" cy="393.2" r="0.6" fill="#3a88c0"/><circle cx="109.6" cy="405.7" r="0.6" fill="#5a5a28"/><circle cx="88.8" cy="409.2" r="0.9" fill="#4a4a20"/><circle cx="49.4" cy="430.6" r="1.1" fill="#3a88c0"/><circle cx="54.9" cy="408.1" r="0.8" fill="#34402a"/><circle cx="77.5" cy="400.3" r="1.0" fill="#4a4a20"/><circle cx="49.1" cy="418.2" r="0.5" fill="#5a5a28"/><circle cx="79.3" cy="417.3" r="1.1" fill="#34402a"/><circle cx="87.2" cy="456.0" r="0.8" fill="#4a4a20"/><circle cx="97.5" cy="405.0" r="0.7" fill="#34402a"/><circle cx="82.3" cy="427.0" r="0.8" fill="#34402a"/><circle cx="91.0" cy="432.5" r="0.6" fill="#3e4418"/><circle cx="68.0" cy="407.6" r="0.9" fill="#4a4a20"/><circle cx="59.2" cy="406.3" r="0.7" fill="#5a5a28"/><circle cx="80.8" cy="395.3" r="0.6" fill="#34402a"/><circle cx="76.9" cy="412.3" r="0.9" fill="#4a4a20"/><circle cx="75.9" cy="437.5" r="0.6" fill="#5a5a28"/></g>
<g filter="url(#b05)" opacity="0.85"><circle cx="112.4" cy="458.4" r="0.7" fill="#5a5a28"/><circle cx="111.2" cy="467.7" r="0.6" fill="#5a5a28"/><circle cx="71.3" cy="463.9" r="0.9" fill="#6a6a30"/><circle cx="143.9" cy="441.0" r="1.0" fill="#6a6a30"/><circle cx="130.9" cy="462.2" r="0.5" fill="#6a6a30"/><circle cx="104.7" cy="459.2" r="1.0" fill="#6a6a30"/><circle cx="138.7" cy="458.5" r="0.7" fill="#5a5a28"/><circle cx="112.4" cy="451.9" r="0.8" fill="#5a5a28"/><circle cx="115.5" cy="451.0" r="0.8" fill="#6a6a30"/><circle cx="121.1" cy="464.2" r="0.9" fill="#6a6a30"/><circle cx="111.4" cy="459.6" r="0.8" fill="#5a5a28"/><circle cx="132.7" cy="445.5" r="0.9" fill="#5a5a28"/><circle cx="99.8" cy="447.7" r="0.7" fill="#5a5a28"/><circle cx="126.8" cy="460.6" r="0.6" fill="#5a5a28"/><circle cx="105.4" cy="443.7" r="1.0" fill="#5a5a28"/><circle cx="140.3" cy="450.9" r="0.8" fill="#6a6a30"/><circle cx="131.5" cy="461.8" r="0.8" fill="#6a6a30"/><circle cx="116.7" cy="456.3" r="0.9" fill="#6a6a30"/><circle cx="138.3" cy="473.0" r="0.8" fill="#5a5a28"/><circle cx="114.7" cy="447.0" r="0.9" fill="#6a6a30"/><circle cx="145.1" cy="455.0" r="0.9" fill="#5a5a28"/><circle cx="107.8" cy="455.6" r="0.8" fill="#6a6a30"/><circle cx="144.7" cy="454.9" r="0.5" fill="#5a5a28"/><circle cx="125.7" cy="447.8" r="0.7" fill="#5a5a28"/><circle cx="124.8" cy="446.1" r="0.6" fill="#6a6a30"/><circle cx="101.3" cy="456.5" r="0.9" fill="#6a6a30"/><circle cx="159.9" cy="451.3" r="0.8" fill="#5a5a28"/><circle cx="90.7" cy="452.2" r="0.6" fill="#6a6a30"/><circle cx="127.9" cy="444.9" r="0.5" fill="#6a6a30"/><circle cx="91.5" cy="458.5" r="0.9" fill="#6a6a30"/><circle cx="98.0" cy="459.0" r="0.5" fill="#5a5a28"/><circle cx="118.4" cy="444.5" r="1.0" fill="#6a6a30"/><circle cx="116.6" cy="442.2" r="1.0" fill="#6a6a30"/><circle cx="95.5" cy="463.6" r="0.7" fill="#6a6a30"/><circle cx="140.9" cy="469.1" r="0.9" fill="#5a5a28"/><circle cx="135.3" cy="448.2" r="0.8" fill="#5a5a28"/><circle cx="124.5" cy="453.4" r="0.9" fill="#6a6a30"/><circle cx="118.5" cy="457.3" r="0.9" fill="#6a6a30"/><circle cx="131.6" cy="467.6" r="0.8" fill="#5a5a28"/><circle cx="137.5" cy="445.2" r="0.7" fill="#5a5a28"/></g>
</g>
<g clip-path="url(#d6)">
<rect x="156.4" y="401.9" width="95.60" height="81.10" fill="#cfd4da"/>
<rect x="156.4" y="401.9" width="95.60" height="81.10" filter="url(#sp16)" opacity="0.92"/>
<g filter="url(#b4)"><ellipse cx="172" cy="418" rx="18" ry="14" fill="#6a6430" opacity="0.45"/><ellipse cx="232" cy="410" rx="14" ry="8" fill="#6a6430" opacity="0.35"/><ellipse cx="170" cy="452" rx="14" ry="10" fill="#6a6430" opacity="0.35"/></g>
<g filter="url(#b4)"><ellipse cx="206" cy="428" rx="21" ry="13" fill="#d2dae8" opacity="0.75"/><ellipse cx="242" cy="424" rx="11" ry="17" fill="#d0d8e6" opacity="0.6"/><ellipse cx="178" cy="472" rx="20" ry="8" fill="#d4d8e2" opacity="0.5"/><ellipse cx="236" cy="479" rx="16" ry="5" fill="#d6dae4" opacity="0.5"/></g>
<g filter="url(#b2)" fill="none" stroke-linecap="round"><path d="M160,432 Q190,446 215,452 Q236,462 258,473" stroke="#565024" stroke-width="10" opacity="0.7"/><path d="M156,408 Q185,404 218,410" stroke="#6e6830" stroke-width="8" opacity="0.5"/></g>
<rect x="156.4" y="401.9" width="95.60" height="81.10" filter="url(#sp17)" opacity="0.5"/>
<rect x="156.4" y="401.9" width="95.60" height="81.10" filter="url(#sp18)" opacity="0.85"/>
<rect x="156.4" y="401.9" width="95.60" height="81.10" filter="url(#sp19)" opacity="0.6"/>
</g>
<line x1="61" y1="482.6" x2="78" y2="482.6" stroke="#8f9cc6" stroke-width="0.7"/>
<text x="107.7" y="229.4" font-size="8.2" text-anchor="middle" fill="#111" stroke="#111" stroke-width="0.22">SP142</text>
<text x="204.2" y="229.4" font-size="8.2" text-anchor="middle" fill="#111" stroke="#111" stroke-width="0.22">22C3</text>
<text x="56.9" y="283.0" font-size="8.2" text-anchor="end" fill="#111" stroke="#111" stroke-width="0.22">22C3<tspan font-size="4.4" dy="-3.4" fill="#777">SP</tspan></text>
<text x="56.9" y="365.6" font-size="8.2" text-anchor="end" fill="#111" stroke="#111" stroke-width="0.22">SP142<tspan font-size="4.4" dy="-3.4" fill="#777">SP</tspan></text>
<text x="56.9" y="448.2" font-size="8.2" text-anchor="end" fill="#111" stroke="#111" stroke-width="0.22">PD-L1<tspan font-size="4.4" dy="-3.4" fill="#777">DP</tspan></text>
<text x="3.00" y="11.60" font-size="11" text-anchor="start" fill="#000" font-weight="bold" stroke="#000" stroke-width="0.22">A</text>
<text x="130.60" y="9.60" font-size="11" text-anchor="start" fill="#000" font-weight="bold" stroke="#000" stroke-width="0.22">B</text>
<text x="273.60" y="11.80" font-size="11" text-anchor="start" fill="#000" font-weight="bold" stroke="#000" stroke-width="0.22">C</text>
<text x="2.00" y="206.40" font-size="11" text-anchor="start" fill="#000" font-weight="bold" stroke="#000" stroke-width="0.22">D</text>
<text x="2.40" y="501.20" font-size="11" text-anchor="start" fill="#000" font-weight="bold" stroke="#000" stroke-width="0.22">E</text>
<text x="291.80" y="248.20" font-size="11" text-anchor="start" fill="#000" font-weight="bold" stroke="#000" stroke-width="0.22">F</text>
<text x="291.60" y="483.20" font-size="11" text-anchor="start" fill="#000" font-weight="bold" stroke="#000" stroke-width="0.22">G</text>
<rect x="25" y="33" width="76.5" height="104.1" fill="none" stroke="#8a8a8a" stroke-width="0.9"/>
<line x1="22.8" y1="135.9" x2="25" y2="135.9" stroke="#444" stroke-width="0.8"/>
<text x="21.30" y="138.90" font-size="8.4" text-anchor="end" fill="#333" stroke="#333" stroke-width="0.22">0</text>
<line x1="22.8" y1="108.1" x2="25" y2="108.1" stroke="#444" stroke-width="0.8"/>
<text x="21.30" y="111.10" font-size="8.4" text-anchor="end" fill="#333" stroke="#333" stroke-width="0.22">2</text>
<line x1="22.8" y1="80.7" x2="25" y2="80.7" stroke="#444" stroke-width="0.8"/>
<text x="21.30" y="83.70" font-size="8.4" text-anchor="end" fill="#333" stroke="#333" stroke-width="0.22">4</text>
<line x1="22.8" y1="53.2" x2="25" y2="53.2" stroke="#444" stroke-width="0.8"/>
<text x="21.30" y="56.20" font-size="8.4" text-anchor="end" fill="#333" stroke="#333" stroke-width="0.22">6</text>
<text transform="translate(11.1,85.05) rotate(-90)" font-size="8.2" text-anchor="middle" fill="#222" stroke="#222" stroke-width="0.22">TGE8 score</text>
<text x="32.3" y="43.7" font-size="7.9" text-anchor="start" fill="#111" stroke="#111" stroke-width="0.22"><tspan font-style="italic">P</tspan> = 1.45e&#8211;49</text>
<line x1="35.9" y1="70.5" x2="35.9" y2="132.6" stroke="#444" stroke-width="1.0"/>
<rect x="29.0" y="94.9" width="13.8" height="16.299999999999997" fill="#c9523b" stroke="#333" stroke-width="0.8"/>
<line x1="29.0" y1="103" x2="42.8" y2="103" stroke="#222" stroke-width="1.5"/>
<line x1="35.9" y1="137.1" x2="35.9" y2="139.29999999999998" stroke="#444" stroke-width="0.8"/>
<line x1="54.0" y1="68.4" x2="54.0" y2="111.7" stroke="#444" stroke-width="1.0"/>
<rect x="47.1" y="84.0" width="13.8" height="12.5" fill="#8dc63f" stroke="#333" stroke-width="0.8"/>
<line x1="47.1" y1="91.3" x2="60.9" y2="91.3" stroke="#222" stroke-width="1.5"/>
<circle cx="54.0" cy="52.4" r="1.75" fill="#222"/>
<circle cx="54.0" cy="61.5" r="1.75" fill="#222"/>
<circle cx="54.0" cy="115.5" r="1.75" fill="#222"/>
<circle cx="54.0" cy="122.0" r="1.75" fill="#222"/>
<line x1="54.0" y1="137.1" x2="54.0" y2="139.29999999999998" stroke="#444" stroke-width="0.8"/>
<line x1="72.5" y1="72.2" x2="72.5" y2="102.2" stroke="#444" stroke-width="1.0"/>
<rect x="65.6" y="85.0" width="13.8" height="9.0" fill="#5d9cdc" stroke="#333" stroke-width="0.8"/>
<line x1="65.6" y1="87.7" x2="79.4" y2="87.7" stroke="#222" stroke-width="1.5"/>
<circle cx="72.5" cy="107.6" r="1.75" fill="#222"/>
<circle cx="72.5" cy="113.4" r="1.75" fill="#222"/>
<circle cx="72.5" cy="129.4" r="1.75" fill="#222"/>
<line x1="72.5" y1="137.1" x2="72.5" y2="139.29999999999998" stroke="#444" stroke-width="0.8"/>
<line x1="90.8" y1="38.2" x2="90.8" y2="113.7" stroke="#444" stroke-width="1.0"/>
<rect x="83.89999999999999" y="64.8" width="13.8" height="21.60000000000001" fill="#7a4ca6" stroke="#333" stroke-width="0.8"/>
<line x1="83.89999999999999" y1="74.5" x2="97.7" y2="74.5" stroke="#222" stroke-width="1.5"/>
<line x1="90.8" y1="137.1" x2="90.8" y2="139.29999999999998" stroke="#444" stroke-width="0.8"/>
<text transform="translate(37.0,146.9) rotate(-45)" font-size="8.5" text-anchor="end" fill="#222" stroke="#222" stroke-width="0.22">PD-L1<tspan font-size="4.4" dy="-3.3" fill="#555">DN</tspan></text>
<text transform="translate(57.7,148.8) rotate(-45)" font-size="8.5" text-anchor="end" fill="#222" stroke="#222" stroke-width="0.22">22C3<tspan font-size="4.4" dy="-3.3" fill="#555">SP</tspan></text>
<text transform="translate(77.9,148.3) rotate(-45)" font-size="8.5" text-anchor="end" fill="#222" stroke="#222" stroke-width="0.22">SP142<tspan font-size="4.4" dy="-3.3" fill="#555">SP</tspan></text>
<text transform="translate(97.6,147.8) rotate(-45)" font-size="8.5" text-anchor="end" fill="#222" stroke="#222" stroke-width="0.22">PD-L1<tspan font-size="4.4" dy="-3.3" fill="#555">DP</tspan></text>
<rect x="165.4" y="34.6" width="77.1" height="104.6" fill="none" stroke="#8a8a8a" stroke-width="0.9"/>
<line x1="163.20000000000002" y1="134.6" x2="165.4" y2="134.6" stroke="#444" stroke-width="0.8"/>
<text x="160.10" y="137.60" font-size="8.4" text-anchor="end" fill="#333" stroke="#333" stroke-width="0.22">0.00</text>
<line x1="163.20000000000002" y1="99.0" x2="165.4" y2="99.0" stroke="#444" stroke-width="0.8"/>
<text x="160.10" y="102.00" font-size="8.4" text-anchor="end" fill="#333" stroke="#333" stroke-width="0.22">0.05</text>
<line x1="163.20000000000002" y1="63.5" x2="165.4" y2="63.5" stroke="#444" stroke-width="0.8"/>
<text x="160.10" y="66.50" font-size="8.4" text-anchor="end" fill="#333" stroke="#333" stroke-width="0.22">0.10</text>
<text transform="translate(140.0,86.89999999999999) rotate(-90)" font-size="8.2" text-anchor="middle" fill="#222" stroke="#222" stroke-width="0.22">DC frequency</text>
<text x="240.4" y="43.9" font-size="7.9" text-anchor="end" fill="#111" stroke="#111" stroke-width="0.22"><tspan font-style="italic">P</tspan> = 6.65e&#8211;15</text>
<line x1="176.2" y1="106.8" x2="176.2" y2="134.6" stroke="#444" stroke-width="1.0"/>
<rect x="169.29999999999998" y="123.2" width="13.8" height="11.399999999999991" fill="#c9523b" stroke="#333" stroke-width="0.8"/>
<line x1="169.29999999999998" y1="130.0" x2="183.1" y2="130.0" stroke="#222" stroke-width="1.5"/>
<circle cx="176.2" cy="39" r="1.75" fill="#222"/>
<circle cx="176.2" cy="50" r="1.75" fill="#222"/>
<circle cx="176.2" cy="68.7" r="1.75" fill="#222"/>
<circle cx="176.2" cy="82" r="1.75" fill="#222"/>
<circle cx="176.2" cy="92" r="1.75" fill="#222"/>
<circle cx="176.2" cy="93.5" r="1.75" fill="#222"/>
<circle cx="176.2" cy="95" r="1.75" fill="#222"/>
<circle cx="176.2" cy="96.5" r="1.75" fill="#222"/>
<circle cx="176.2" cy="102.7" r="1.75" fill="#222"/>
<circle cx="176.2" cy="104" r="1.75" fill="#222"/>
<circle cx="176.2" cy="105.5" r="1.75" fill="#222"/>
<circle cx="176.2" cy="106.8" r="1.75" fill="#222"/>
<line x1="176.2" y1="139.2" x2="176.2" y2="141.39999999999998" stroke="#444" stroke-width="0.8"/>
<line x1="194.7" y1="101.4" x2="194.7" y2="134.6" stroke="#444" stroke-width="1.0"/>
<rect x="187.79999999999998" y="117.8" width="13.8" height="13.000000000000014" fill="#8dc63f" stroke="#333" stroke-width="0.8"/>
<line x1="187.79999999999998" y1="125.1" x2="201.6" y2="125.1" stroke="#222" stroke-width="1.5"/>
<circle cx="194.7" cy="78.2" r="1.75" fill="#222"/>
<circle cx="194.7" cy="79.5" r="1.75" fill="#222"/>
<circle cx="194.7" cy="83.1" r="1.75" fill="#222"/>
<circle cx="194.7" cy="88" r="1.75" fill="#222"/>
<circle cx="194.7" cy="97" r="1.75" fill="#222"/>
<line x1="194.7" y1="139.2" x2="194.7" y2="141.39999999999998" stroke="#444" stroke-width="0.8"/>
<line x1="213.3" y1="96.2" x2="213.3" y2="134.6" stroke="#444" stroke-width="1.0"/>
<rect x="206.4" y="111.2" width="13.8" height="16.39999999999999" fill="#5d9cdc" stroke="#333" stroke-width="0.8"/>
<line x1="206.4" y1="119.0" x2="220.20000000000002" y2="119.0" stroke="#222" stroke-width="1.5"/>
<circle cx="213.3" cy="66" r="1.75" fill="#222"/>
<line x1="213.3" y1="139.2" x2="213.3" y2="141.39999999999998" stroke="#444" stroke-width="0.8"/>
<line x1="231.9" y1="87.2" x2="231.9" y2="134.6" stroke="#444" stroke-width="1.0"/>
<rect x="225.0" y="110.0" width="13.8" height="18.599999999999994" fill="#7a4ca6" stroke="#333" stroke-width="0.8"/>
<line x1="225.0" y1="118.8" x2="238.8" y2="118.8" stroke="#222" stroke-width="1.5"/>
<circle cx="231.9" cy="77.4" r="1.75" fill="#222"/>
<circle cx="231.9" cy="78.5" r="1.75" fill="#222"/>
<circle cx="231.9" cy="79.6" r="1.75" fill="#222"/>
<circle cx="231.9" cy="80.7" r="1.75" fill="#222"/>
<line x1="231.9" y1="139.2" x2="231.9" y2="141.39999999999998" stroke="#444" stroke-width="0.8"/>
<text transform="translate(179.0,150.4) rotate(-45)" font-size="8.5" text-anchor="end" fill="#222" stroke="#222" stroke-width="0.22">PD-L1<tspan font-size="4.4" dy="-3.3" fill="#555">DN</tspan></text>
<text transform="translate(200.1,151.7) rotate(-45)" font-size="8.5" text-anchor="end" fill="#222" stroke="#222" stroke-width="0.22">22C3<tspan font-size="4.4" dy="-3.3" fill="#555">SP</tspan></text>
<text transform="translate(219.2,151.1) rotate(-45)" font-size="8.5" text-anchor="end" fill="#222" stroke="#222" stroke-width="0.22">SP142<tspan font-size="4.4" dy="-3.3" fill="#555">SP</tspan></text>
<text transform="translate(239.9,152.8) rotate(-45)" font-size="8.5" text-anchor="end" fill="#222" stroke="#222" stroke-width="0.22">PD-L1<tspan font-size="4.4" dy="-3.3" fill="#555">DP</tspan></text>
<rect x="340.8" y="255.1" width="172.7" height="143.70000000000002" fill="none" stroke="#555" stroke-width="0.9"/>
<line x1="337.0" y1="393.40" x2="340.8" y2="393.40" stroke="#333" stroke-width="0.9"/>
<text x="334.50" y="396.50" font-size="8.3" text-anchor="end" fill="#222" stroke="#222" stroke-width="0.22">0</text>
<line x1="337.0" y1="380.11" x2="340.8" y2="380.11" stroke="#333" stroke-width="0.9"/>
<text x="334.50" y="383.21" font-size="8.3" text-anchor="end" fill="#222" stroke="#222" stroke-width="0.22">0.1</text>
<line x1="337.0" y1="366.82" x2="340.8" y2="366.82" stroke="#333" stroke-width="0.9"/>
<text x="334.50" y="369.92" font-size="8.3" text-anchor="end" fill="#222" stroke="#222" stroke-width="0.22">0.2</text>
<line x1="337.0" y1="353.53" x2="340.8" y2="353.53" stroke="#333" stroke-width="0.9"/>
<text x="334.50" y="356.63" font-size="8.3" text-anchor="end" fill="#222" stroke="#222" stroke-width="0.22">0.3</text>
<line x1="337.0" y1="340.24" x2="340.8" y2="340.24" stroke="#333" stroke-width="0.9"/>
<text x="334.50" y="343.34" font-size="8.3" text-anchor="end" fill="#222" stroke="#222" stroke-width="0.22">0.4</text>
<line x1="337.0" y1="326.95" x2="340.8" y2="326.95" stroke="#333" stroke-width="0.9"/>
<text x="334.50" y="330.05" font-size="8.3" text-anchor="end" fill="#222" stroke="#222" stroke-width="0.22">0.5</text>
<line x1="337.0" y1="313.66" x2="340.8" y2="313.66" stroke="#333" stroke-width="0.9"/>
<text x="334.50" y="316.76" font-size="8.3" text-anchor="end" fill="#222" stroke="#222" stroke-width="0.22">0.6</text>
<line x1="337.0" y1="300.37" x2="340.8" y2="300.37" stroke="#333" stroke-width="0.9"/>
<text x="334.50" y="303.47" font-size="8.3" text-anchor="end" fill="#222" stroke="#222" stroke-width="0.22">0.7</text>
<line x1="337.0" y1="287.08" x2="340.8" y2="287.08" stroke="#333" stroke-width="0.9"/>
<text x="334.50" y="290.18" font-size="8.3" text-anchor="end" fill="#222" stroke="#222" stroke-width="0.22">0.8</text>
<line x1="337.0" y1="273.79" x2="340.8" y2="273.79" stroke="#333" stroke-width="0.9"/>
<text x="334.50" y="276.89" font-size="8.3" text-anchor="end" fill="#222" stroke="#222" stroke-width="0.22">0.9</text>
<line x1="337.0" y1="260.50" x2="340.8" y2="260.50" stroke="#333" stroke-width="0.9"/>
<text x="334.50" y="263.60" font-size="8.3" text-anchor="end" fill="#222" stroke="#222" stroke-width="0.22">1</text>
<line x1="347.50" y1="398.8" x2="347.50" y2="402.3" stroke="#333" stroke-width="0.9"/>
<line x1="351.91" y1="398.8" x2="351.91" y2="402.3" stroke="#333" stroke-width="0.9"/>
<line x1="356.32" y1="398.8" x2="356.32" y2="402.3" stroke="#333" stroke-width="0.9"/>
<line x1="360.73" y1="398.8" x2="360.73" y2="402.3" stroke="#333" stroke-width="0.9"/>
<line x1="365.14" y1="398.8" x2="365.14" y2="402.3" stroke="#333" stroke-width="0.9"/>
<line x1="369.55" y1="398.8" x2="369.55" y2="402.3" stroke="#333" stroke-width="0.9"/>
<line x1="373.96" y1="398.8" x2="373.96" y2="402.3" stroke="#333" stroke-width="0.9"/>
<line x1="378.37" y1="398.8" x2="378.37" y2="402.3" stroke="#333" stroke-width="0.9"/>
<line x1="382.78" y1="398.8" x2="382.78" y2="402.3" stroke="#333" stroke-width="0.9"/>
<line x1="387.19" y1="398.8" x2="387.19" y2="402.3" stroke="#333" stroke-width="0.9"/>
<line x1="391.60" y1="398.8" x2="391.60" y2="402.3" stroke="#333" stroke-width="0.9"/>
<line x1="396.01" y1="398.8" x2="396.01" y2="402.3" stroke="#333" stroke-width="0.9"/>
<line x1="400.42" y1="398.8" x2="400.42" y2="402.3" stroke="#333" stroke-width="0.9"/>
<line x1="404.83" y1="398.8" x2="404.83" y2="402.3" stroke="#333" stroke-width="0.9"/>
<line x1="409.24" y1="398.8" x2="409.24" y2="402.3" stroke="#333" stroke-width="0.9"/>
<line x1="413.65" y1="398.8" x2="413.65" y2="402.3" stroke="#333" stroke-width="0.9"/>
<line x1="418.06" y1="398.8" x2="418.06" y2="402.3" stroke="#333" stroke-width="0.9"/>
<line x1="422.47" y1="398.8" x2="422.47" y2="402.3" stroke="#333" stroke-width="0.9"/>
<line x1="426.88" y1="398.8" x2="426.88" y2="402.3" stroke="#333" stroke-width="0.9"/>
<line x1="431.29" y1="398.8" x2="431.29" y2="402.3" stroke="#333" stroke-width="0.9"/>
<line x1="435.70" y1="398.8" x2="435.70" y2="402.3" stroke="#333" stroke-width="0.9"/>
<line x1="440.11" y1="398.8" x2="440.11" y2="402.3" stroke="#333" stroke-width="0.9"/>
<line x1="444.52" y1="398.8" x2="444.52" y2="402.3" stroke="#333" stroke-width="0.9"/>
<line x1="448.93" y1="398.8" x2="448.93" y2="402.3" stroke="#333" stroke-width="0.9"/>
<line x1="453.34" y1="398.8" x2="453.34" y2="402.3" stroke="#333" stroke-width="0.9"/>
<line x1="457.75" y1="398.8" x2="457.75" y2="402.3" stroke="#333" stroke-width="0.9"/>
<line x1="462.16" y1="398.8" x2="462.16" y2="402.3" stroke="#333" stroke-width="0.9"/>
<line x1="466.57" y1="398.8" x2="466.57" y2="402.3" stroke="#333" stroke-width="0.9"/>
<line x1="470.98" y1="398.8" x2="470.98" y2="402.3" stroke="#333" stroke-width="0.9"/>
<line x1="475.39" y1="398.8" x2="475.39" y2="402.3" stroke="#333" stroke-width="0.9"/>
<line x1="479.80" y1="398.8" x2="479.80" y2="402.3" stroke="#333" stroke-width="0.9"/>
<line x1="484.21" y1="398.8" x2="484.21" y2="402.3" stroke="#333" stroke-width="0.9"/>
<line x1="488.62" y1="398.8" x2="488.62" y2="402.3" stroke="#333" stroke-width="0.9"/>
<text x="346.90" y="411.40" font-size="8.3" text-anchor="middle" fill="#222" stroke="#222" stroke-width="0.22">0</text>
<text x="355.72" y="411.40" font-size="8.3" text-anchor="middle" fill="#222" stroke="#222" stroke-width="0.22">4</text>
<text x="364.54" y="411.40" font-size="8.3" text-anchor="middle" fill="#222" stroke="#222" stroke-width="0.22">8</text>
<text x="377.77" y="411.40" font-size="8.3" text-anchor="middle" fill="#222" stroke="#222" stroke-width="0.22">14</text>
<text x="391.00" y="411.40" font-size="8.3" text-anchor="middle" fill="#222" stroke="#222" stroke-width="0.22">20</text>
<text x="404.23" y="411.40" font-size="8.3" text-anchor="middle" fill="#222" stroke="#222" stroke-width="0.22">26</text>
<text x="417.46" y="411.40" font-size="8.3" text-anchor="middle" fill="#222" stroke="#222" stroke-width="0.22">32</text>
<text x="430.69" y="411.40" font-size="8.3" text-anchor="middle" fill="#222" stroke="#222" stroke-width="0.22">38</text>
<text x="443.92" y="411.40" font-size="8.3" text-anchor="middle" fill="#222" stroke="#222" stroke-width="0.22">44</text>
<text x="457.15" y="411.40" font-size="8.3" text-anchor="middle" fill="#222" stroke="#222" stroke-width="0.22">50</text>
<text x="470.38" y="411.40" font-size="8.3" text-anchor="middle" fill="#222" stroke="#222" stroke-width="0.22">56</text>
<text x="483.61" y="411.40" font-size="8.3" text-anchor="middle" fill="#222" stroke="#222" stroke-width="0.22">62</text>
<text transform="translate(317.0,327.90) rotate(-90)" font-size="8.2" text-anchor="middle" fill="#222" stroke="#222" stroke-width="0.22">Probability of survival</text>
<text x="425.80" y="246.30" font-size="7.9" text-anchor="middle" fill="#111" stroke="#111" stroke-width="0.22">Atezolizumab</text>
<path d="M346,326.95H395.24M372.64,326.95V393M376.56,326.95V393M395.24,326.95V393" stroke="#9a9a9a" stroke-width="0.7" stroke-dasharray="2.2,1.5" fill="none"/>
<path d="M347.80,260.40H348.65V263.85H349.50V267.30H350.35V272.50H351.20V277.70H352.37V283.47H353.53V289.23H354.70V295.00H356.45V296.30H358.20V297.60H359.33V301.63H360.47V305.67H361.60V309.70H362.70V311.00H363.80V312.30H364.90V313.60H366.00V314.90H367.00V316.07H368.00V317.25H369.00V318.43H370.00V319.60H371.75V320.60H373.50V321.60H374.57V323.12H375.65V324.65H376.73V326.18H377.80V327.70H379.10V330.30H380.40V332.90H381.90V333.97H383.40V335.05H384.90V336.12H386.40V337.20H387.30V340.65H388.20V344.10H389.00V348.50H394.20V349.00H400.30V350.20H402.45V351.05H404.60V351.90H407.20V352.80H409.80V353.70H411.55V354.95H413.30V356.20H416.75V357.10H420.20V358.00H423.65V358.85H427.10V359.70H428.85V360.85H430.60V362.00H434.05V363.00H437.50V364.00H447.90V365.40H450.00V365.80H464.60V366.20H467.00V367.70H489.20V367.70" fill="none" stroke="#9cc3e4" stroke-width="1.2"/>
<path d="M347.80,260.40H349.10V264.70H350.40V269.00H351.25V275.10H352.10V281.20H353.40V289.85H354.70V298.50H355.55V302.80H356.40V307.10H357.87V308.27H359.33V309.43H360.80V310.60H361.88V311.90H362.95V313.20H364.03V314.50H365.10V315.80H366.40V318.40H367.70V321.00H368.85V322.60H370.00V324.20H371.04V325.42H372.08V326.64H373.12V327.86H374.16V329.08H375.20V330.30H376.24V331.34H377.28V332.38H378.32V333.42H379.36V334.46H380.40V335.50H381.60V336.70H382.80V337.90H384.00V339.10H385.20V340.30H386.40V341.50H387.70V345.85H389.00V350.20H390.30V352.80H391.60V355.40H395.95V356.25H400.30V357.10H402.45V358.40H404.60V359.70H408.05V361.00H411.50V362.30H414.10V363.35H416.70V364.40H419.60V365.43H422.50V366.47H425.40V367.50H441.00V368.40H441.85V369.70H442.70V371.00H457.00V371.20H458.50V373.10H476.90V373.40H478.45V374.40H480.00V375.40H480.80V378.90H492.30V379.20" fill="none" stroke="#2f5ea8" stroke-width="1.2"/>
<path d="M347.80,260.40H348.65V263.40H349.50V266.40H350.80V267.30H352.10V268.20H353.40V272.10H354.70V276.00H356.00V276.85H357.30V277.70H358.38V278.77H359.45V279.85H360.53V280.93H361.60V282.00H362.70V283.07H363.80V284.15H364.90V285.23H366.00V286.30H367.30V291.10H368.60V295.90H370.75V296.75H372.90V297.60H374.05V298.80H375.20V300.00H376.30V301.00H377.32V302.05H378.35V303.10H379.38V304.15H380.40V305.20H381.50V307.10H382.57V308.20H383.63V309.30H384.70V310.40H385.00V312.30H386.15V314.80H387.30V317.30H388.50V319.20H389.65V322.15H390.80V325.10H391.90V326.20H395.10V327.70H396.00V330.30H398.60V331.70H407.20V331.70H408.63V332.97H410.07V334.23H411.50V335.50H412.40V337.20H413.30V338.90H415.45V340.05H417.60V341.20H423.60V342.40H426.65V343.55H429.70V344.70H439.20V345.30H441.00V346.20H446.90V347.70H456.20V348.00H461.50V349.20H463.05V350.35H464.60V351.50H489.40V351.80H489.50V365.40H493.00V365.40" fill="none" stroke="#c3503b" stroke-width="1.2"/>
<line x1="462.00" y1="347.00" x2="462.00" y2="351.40" stroke="#c3503b" stroke-width="0.9"/>
<line x1="464.00" y1="347.00" x2="464.00" y2="351.40" stroke="#c3503b" stroke-width="0.9"/>
<line x1="468.00" y1="349.30" x2="468.00" y2="353.70" stroke="#c3503b" stroke-width="0.9"/>
<line x1="470.00" y1="349.30" x2="470.00" y2="353.70" stroke="#c3503b" stroke-width="0.9"/>
<line x1="472.00" y1="349.30" x2="472.00" y2="353.70" stroke="#c3503b" stroke-width="0.9"/>
<line x1="475.00" y1="349.30" x2="475.00" y2="353.70" stroke="#c3503b" stroke-width="0.9"/>
<line x1="478.00" y1="349.30" x2="478.00" y2="353.70" stroke="#c3503b" stroke-width="0.9"/>
<line x1="480.00" y1="349.30" x2="480.00" y2="353.70" stroke="#c3503b" stroke-width="0.9"/>
<line x1="483.00" y1="349.30" x2="483.00" y2="353.70" stroke="#c3503b" stroke-width="0.9"/>
<line x1="486.00" y1="349.30" x2="486.00" y2="353.70" stroke="#c3503b" stroke-width="0.9"/>
<line x1="488.00" y1="349.30" x2="488.00" y2="353.70" stroke="#c3503b" stroke-width="0.9"/>
<line x1="492.00" y1="363.20" x2="492.00" y2="367.60" stroke="#c3503b" stroke-width="0.9"/>
<line x1="458.00" y1="363.60" x2="458.00" y2="368.00" stroke="#9cc3e4" stroke-width="0.9"/>
<line x1="460.00" y1="363.60" x2="460.00" y2="368.00" stroke="#9cc3e4" stroke-width="0.9"/>
<line x1="462.00" y1="363.60" x2="462.00" y2="368.00" stroke="#9cc3e4" stroke-width="0.9"/>
<line x1="470.00" y1="365.50" x2="470.00" y2="369.90" stroke="#9cc3e4" stroke-width="0.9"/>
<line x1="472.00" y1="365.50" x2="472.00" y2="369.90" stroke="#9cc3e4" stroke-width="0.9"/>
<line x1="474.00" y1="365.50" x2="474.00" y2="369.90" stroke="#9cc3e4" stroke-width="0.9"/>
<line x1="478.00" y1="365.50" x2="478.00" y2="369.90" stroke="#9cc3e4" stroke-width="0.9"/>
<line x1="480.00" y1="365.50" x2="480.00" y2="369.90" stroke="#9cc3e4" stroke-width="0.9"/>
<line x1="484.00" y1="365.50" x2="484.00" y2="369.90" stroke="#9cc3e4" stroke-width="0.9"/>
<line x1="488.00" y1="365.50" x2="488.00" y2="369.90" stroke="#9cc3e4" stroke-width="0.9"/>
<line x1="360.00" y1="304.90" x2="360.00" y2="309.30" stroke="#2f5ea8" stroke-width="0.9"/>
<line x1="446.00" y1="368.80" x2="446.00" y2="373.20" stroke="#2f5ea8" stroke-width="0.9"/>
<line x1="456.00" y1="368.80" x2="456.00" y2="373.20" stroke="#2f5ea8" stroke-width="0.9"/>
<line x1="476.00" y1="370.90" x2="476.00" y2="375.30" stroke="#2f5ea8" stroke-width="0.9"/>
<line x1="478.00" y1="371.20" x2="478.00" y2="375.60" stroke="#2f5ea8" stroke-width="0.9"/>
<line x1="484.00" y1="376.70" x2="484.00" y2="381.10" stroke="#2f5ea8" stroke-width="0.9"/>
<line x1="488.00" y1="376.70" x2="488.00" y2="381.10" stroke="#2f5ea8" stroke-width="0.9"/>
<line x1="490.00" y1="376.70" x2="490.00" y2="381.10" stroke="#2f5ea8" stroke-width="0.9"/>
<line x1="357.00" y1="273.80" x2="357.00" y2="278.20" stroke="#c3503b" stroke-width="0.9"/>
<line x1="365.00" y1="279.80" x2="365.00" y2="284.20" stroke="#c3503b" stroke-width="0.9"/>
<text x="365.60" y="396.60" font-size="6.2" text-anchor="middle" fill="#2f5ea8" stroke="#2f5ea8" stroke-width="0.22">11.4</text>
<text x="385.20" y="396.60" font-size="6.2" text-anchor="middle" fill="#9cc3e4" stroke="#9cc3e4" stroke-width="0.22">13.18</text>
<text x="402.80" y="396.60" font-size="6.2" text-anchor="middle" fill="#c3503b" stroke="#c3503b" stroke-width="0.22">21.65</text>
<text x="508.50" y="265.00" font-size="8.0" text-anchor="end" fill="#111" stroke="#111" stroke-width="0.22">mregDC signature</text>
<text x="393.4" y="281.2" font-size="8.2" fill="#111" stroke="#111" stroke-width="0.22">Log-rank <tspan font-style="italic">P</tspan> value = 0.003</text>
<text x="393.4" y="289.30" font-size="6.6" fill="#111" textLength="118" lengthAdjust="spacingAndGlyphs" stroke="#111" stroke-width="0.22">T3 vs. T1: 0.55 (0.39&#8211;0.78), <tspan font-style="italic">P</tspan> = 8e&#8211;04</text>
<text x="393.4" y="296.95" font-size="6.6" fill="#111" textLength="118" lengthAdjust="spacingAndGlyphs" stroke="#111" stroke-width="0.22">T3 vs. T2: 0.64 (0.45&#8211;0.91), <tspan font-style="italic">P</tspan> = 0.013</text>
<text x="393.4" y="304.60" font-size="6.6" fill="#111" textLength="118" lengthAdjust="spacingAndGlyphs" stroke="#111" stroke-width="0.22">T2 vs. T1: 0.86 (0.62&#8211;1.19), <tspan font-style="italic">P</tspan> = 0.37</text>
<text x="425.80" y="424.20" font-size="8.0" text-anchor="middle" fill="#111" stroke="#111" stroke-width="0.22">Months</text>
<text x="334.80" y="434.90" font-size="6.4" text-anchor="start" fill="#2f5ea8" stroke="#2f5ea8" stroke-width="0.22">T1</text>
<text x="347.50" y="434.90" font-size="6.4" text-anchor="middle" fill="#2f5ea8" stroke="#2f5ea8" stroke-width="0.22">84</text>
<text x="356.32" y="434.90" font-size="6.4" text-anchor="middle" fill="#2f5ea8" stroke="#2f5ea8" stroke-width="0.22">54</text>
<text x="365.14" y="434.90" font-size="6.4" text-anchor="middle" fill="#2f5ea8" stroke="#2f5ea8" stroke-width="0.22">48</text>
<text x="373.96" y="434.90" font-size="6.4" text-anchor="middle" fill="#2f5ea8" stroke="#2f5ea8" stroke-width="0.22">40</text>
<text x="382.78" y="434.90" font-size="6.4" text-anchor="middle" fill="#2f5ea8" stroke="#2f5ea8" stroke-width="0.22">33</text>
<text x="391.60" y="434.90" font-size="6.4" text-anchor="middle" fill="#2f5ea8" stroke="#2f5ea8" stroke-width="0.22">23</text>
<text x="400.42" y="434.90" font-size="6.4" text-anchor="middle" fill="#2f5ea8" stroke="#2f5ea8" stroke-width="0.22">23</text>
<text x="409.24" y="434.90" font-size="6.4" text-anchor="middle" fill="#2f5ea8" stroke="#2f5ea8" stroke-width="0.22">21</text>
<text x="418.06" y="434.90" font-size="6.4" text-anchor="middle" fill="#2f5ea8" stroke="#2f5ea8" stroke-width="0.22">18</text>
<text x="426.88" y="434.90" font-size="6.4" text-anchor="middle" fill="#2f5ea8" stroke="#2f5ea8" stroke-width="0.22">16</text>
<text x="435.70" y="434.90" font-size="6.4" text-anchor="middle" fill="#2f5ea8" stroke="#2f5ea8" stroke-width="0.22">15</text>
<text x="444.52" y="434.90" font-size="6.4" text-anchor="middle" fill="#2f5ea8" stroke="#2f5ea8" stroke-width="0.22">13</text>
<text x="453.34" y="434.90" font-size="6.4" text-anchor="middle" fill="#2f5ea8" stroke="#2f5ea8" stroke-width="0.22">12</text>
<text x="462.16" y="434.90" font-size="6.4" text-anchor="middle" fill="#2f5ea8" stroke="#2f5ea8" stroke-width="0.22">10</text>
<text x="470.98" y="434.90" font-size="6.4" text-anchor="middle" fill="#2f5ea8" stroke="#2f5ea8" stroke-width="0.22">10</text>
<text x="479.80" y="434.90" font-size="6.4" text-anchor="middle" fill="#2f5ea8" stroke="#2f5ea8" stroke-width="0.22">6</text>
<text x="488.62" y="434.90" font-size="6.4" text-anchor="middle" fill="#2f5ea8" stroke="#2f5ea8" stroke-width="0.22">1</text>
<text x="334.80" y="441.90" font-size="6.4" text-anchor="start" fill="#9cc3e4" stroke="#9cc3e4" stroke-width="0.22">T2</text>
<text x="347.50" y="441.90" font-size="6.4" text-anchor="middle" fill="#9cc3e4" stroke="#9cc3e4" stroke-width="0.22">92</text>
<text x="356.32" y="441.90" font-size="6.4" text-anchor="middle" fill="#9cc3e4" stroke="#9cc3e4" stroke-width="0.22">68</text>
<text x="365.14" y="441.90" font-size="6.4" text-anchor="middle" fill="#9cc3e4" stroke="#9cc3e4" stroke-width="0.22">56</text>
<text x="373.96" y="441.90" font-size="6.4" text-anchor="middle" fill="#9cc3e4" stroke="#9cc3e4" stroke-width="0.22">49</text>
<text x="382.78" y="441.90" font-size="6.4" text-anchor="middle" fill="#9cc3e4" stroke="#9cc3e4" stroke-width="0.22">40</text>
<text x="391.60" y="441.90" font-size="6.4" text-anchor="middle" fill="#9cc3e4" stroke="#9cc3e4" stroke-width="0.22">31</text>
<text x="400.42" y="441.90" font-size="6.4" text-anchor="middle" fill="#9cc3e4" stroke="#9cc3e4" stroke-width="0.22">30</text>
<text x="409.24" y="441.90" font-size="6.4" text-anchor="middle" fill="#9cc3e4" stroke="#9cc3e4" stroke-width="0.22">28</text>
<text x="418.06" y="441.90" font-size="6.4" text-anchor="middle" fill="#9cc3e4" stroke="#9cc3e4" stroke-width="0.22">25</text>
<text x="426.88" y="441.90" font-size="6.4" text-anchor="middle" fill="#9cc3e4" stroke="#9cc3e4" stroke-width="0.22">23</text>
<text x="435.70" y="441.90" font-size="6.4" text-anchor="middle" fill="#9cc3e4" stroke="#9cc3e4" stroke-width="0.22">21</text>
<text x="444.52" y="441.90" font-size="6.4" text-anchor="middle" fill="#9cc3e4" stroke="#9cc3e4" stroke-width="0.22">20</text>
<text x="453.34" y="441.90" font-size="6.4" text-anchor="middle" fill="#9cc3e4" stroke="#9cc3e4" stroke-width="0.22">19</text>
<text x="462.16" y="441.90" font-size="6.4" text-anchor="middle" fill="#9cc3e4" stroke="#9cc3e4" stroke-width="0.22">16</text>
<text x="470.98" y="441.90" font-size="6.4" text-anchor="middle" fill="#9cc3e4" stroke="#9cc3e4" stroke-width="0.22">11</text>
<text x="479.80" y="441.90" font-size="6.4" text-anchor="middle" fill="#9cc3e4" stroke="#9cc3e4" stroke-width="0.22">5</text>
<text x="488.62" y="441.90" font-size="6.4" text-anchor="middle" fill="#9cc3e4" stroke="#9cc3e4" stroke-width="0.22">0</text>
<text x="334.80" y="448.90" font-size="6.4" text-anchor="start" fill="#c3503b" stroke="#c3503b" stroke-width="0.22">T3</text>
<text x="347.50" y="448.90" font-size="6.4" text-anchor="middle" fill="#c3503b" stroke="#c3503b" stroke-width="0.22">83</text>
<text x="356.32" y="448.90" font-size="6.4" text-anchor="middle" fill="#c3503b" stroke="#c3503b" stroke-width="0.22">72</text>
<text x="365.14" y="448.90" font-size="6.4" text-anchor="middle" fill="#c3503b" stroke="#c3503b" stroke-width="0.22">66</text>
<text x="373.96" y="448.90" font-size="6.4" text-anchor="middle" fill="#c3503b" stroke="#c3503b" stroke-width="0.22">58</text>
<text x="382.78" y="448.90" font-size="6.4" text-anchor="middle" fill="#c3503b" stroke="#c3503b" stroke-width="0.22">52</text>
<text x="391.60" y="448.90" font-size="6.4" text-anchor="middle" fill="#c3503b" stroke="#c3503b" stroke-width="0.22">42</text>
<text x="400.42" y="448.90" font-size="6.4" text-anchor="middle" fill="#c3503b" stroke="#c3503b" stroke-width="0.22">38</text>
<text x="409.24" y="448.90" font-size="6.4" text-anchor="middle" fill="#c3503b" stroke="#c3503b" stroke-width="0.22">36</text>
<text x="418.06" y="448.90" font-size="6.4" text-anchor="middle" fill="#c3503b" stroke="#c3503b" stroke-width="0.22">32</text>
<text x="426.88" y="448.90" font-size="6.4" text-anchor="middle" fill="#c3503b" stroke="#c3503b" stroke-width="0.22">31</text>
<text x="435.70" y="448.90" font-size="6.4" text-anchor="middle" fill="#c3503b" stroke="#c3503b" stroke-width="0.22">30</text>
<text x="444.52" y="448.90" font-size="6.4" text-anchor="middle" fill="#c3503b" stroke="#c3503b" stroke-width="0.22">29</text>
<text x="453.34" y="448.90" font-size="6.4" text-anchor="middle" fill="#c3503b" stroke="#c3503b" stroke-width="0.22">28</text>
<text x="462.16" y="448.90" font-size="6.4" text-anchor="middle" fill="#c3503b" stroke="#c3503b" stroke-width="0.22">22</text>
<text x="470.98" y="448.90" font-size="6.4" text-anchor="middle" fill="#c3503b" stroke="#c3503b" stroke-width="0.22">14</text>
<text x="479.80" y="448.90" font-size="6.4" text-anchor="middle" fill="#c3503b" stroke="#c3503b" stroke-width="0.22">9</text>
<text x="488.62" y="448.90" font-size="6.4" text-anchor="middle" fill="#c3503b" stroke="#c3503b" stroke-width="0.22">3</text>
<line x1="365.4" y1="458.4" x2="379.2" y2="458.4" stroke="#2f5ea8" stroke-width="1.3"/>
<text x="384.40" y="461.30" font-size="8" text-anchor="start" fill="#111" stroke="#111" stroke-width="0.22">T1</text>
<line x1="402.3" y1="458.4" x2="416.2" y2="458.4" stroke="#9cc3e4" stroke-width="1.3"/>
<text x="421.90" y="461.30" font-size="8" text-anchor="start" fill="#111" stroke="#111" stroke-width="0.22">T2</text>
<line x1="439.2" y1="458.4" x2="453.1" y2="458.4" stroke="#c3503b" stroke-width="1.3"/>
<text x="457.70" y="461.30" font-size="8" text-anchor="start" fill="#111" stroke="#111" stroke-width="0.22">T3</text>
<rect x="340.8" y="490.8" width="172.49999999999994" height="143.59999999999997" fill="none" stroke="#555" stroke-width="0.9"/>
<line x1="337.0" y1="628.80" x2="340.8" y2="628.80" stroke="#333" stroke-width="0.9"/>
<text x="334.50" y="631.90" font-size="8.3" text-anchor="end" fill="#222" stroke="#222" stroke-width="0.22">0</text>
<line x1="337.0" y1="615.50" x2="340.8" y2="615.50" stroke="#333" stroke-width="0.9"/>
<text x="334.50" y="618.60" font-size="8.3" text-anchor="end" fill="#222" stroke="#222" stroke-width="0.22">0.1</text>
<line x1="337.0" y1="602.20" x2="340.8" y2="602.20" stroke="#333" stroke-width="0.9"/>
<text x="334.50" y="605.30" font-size="8.3" text-anchor="end" fill="#222" stroke="#222" stroke-width="0.22">0.2</text>
<line x1="337.0" y1="588.90" x2="340.8" y2="588.90" stroke="#333" stroke-width="0.9"/>
<text x="334.50" y="592.00" font-size="8.3" text-anchor="end" fill="#222" stroke="#222" stroke-width="0.22">0.3</text>
<line x1="337.0" y1="575.60" x2="340.8" y2="575.60" stroke="#333" stroke-width="0.9"/>
<text x="334.50" y="578.70" font-size="8.3" text-anchor="end" fill="#222" stroke="#222" stroke-width="0.22">0.4</text>
<line x1="337.0" y1="562.30" x2="340.8" y2="562.30" stroke="#333" stroke-width="0.9"/>
<text x="334.50" y="565.40" font-size="8.3" text-anchor="end" fill="#222" stroke="#222" stroke-width="0.22">0.5</text>
<line x1="337.0" y1="549.00" x2="340.8" y2="549.00" stroke="#333" stroke-width="0.9"/>
<text x="334.50" y="552.10" font-size="8.3" text-anchor="end" fill="#222" stroke="#222" stroke-width="0.22">0.6</text>
<line x1="337.0" y1="535.70" x2="340.8" y2="535.70" stroke="#333" stroke-width="0.9"/>
<text x="334.50" y="538.80" font-size="8.3" text-anchor="end" fill="#222" stroke="#222" stroke-width="0.22">0.7</text>
<line x1="337.0" y1="522.40" x2="340.8" y2="522.40" stroke="#333" stroke-width="0.9"/>
<text x="334.50" y="525.50" font-size="8.3" text-anchor="end" fill="#222" stroke="#222" stroke-width="0.22">0.8</text>
<line x1="337.0" y1="509.10" x2="340.8" y2="509.10" stroke="#333" stroke-width="0.9"/>
<text x="334.50" y="512.20" font-size="8.3" text-anchor="end" fill="#222" stroke="#222" stroke-width="0.22">0.9</text>
<line x1="337.0" y1="495.80" x2="340.8" y2="495.80" stroke="#333" stroke-width="0.9"/>
<text x="334.50" y="498.90" font-size="8.3" text-anchor="end" fill="#222" stroke="#222" stroke-width="0.22">1</text>
<line x1="347.00" y1="634.4" x2="347.00" y2="637.9" stroke="#333" stroke-width="0.9"/>
<line x1="351.42" y1="634.4" x2="351.42" y2="637.9" stroke="#333" stroke-width="0.9"/>
<line x1="355.83" y1="634.4" x2="355.83" y2="637.9" stroke="#333" stroke-width="0.9"/>
<line x1="360.25" y1="634.4" x2="360.25" y2="637.9" stroke="#333" stroke-width="0.9"/>
<line x1="364.66" y1="634.4" x2="364.66" y2="637.9" stroke="#333" stroke-width="0.9"/>
<line x1="369.08" y1="634.4" x2="369.08" y2="637.9" stroke="#333" stroke-width="0.9"/>
<line x1="373.50" y1="634.4" x2="373.50" y2="637.9" stroke="#333" stroke-width="0.9"/>
<line x1="377.91" y1="634.4" x2="377.91" y2="637.9" stroke="#333" stroke-width="0.9"/>
<line x1="382.33" y1="634.4" x2="382.33" y2="637.9" stroke="#333" stroke-width="0.9"/>
<line x1="386.74" y1="634.4" x2="386.74" y2="637.9" stroke="#333" stroke-width="0.9"/>
<line x1="391.16" y1="634.4" x2="391.16" y2="637.9" stroke="#333" stroke-width="0.9"/>
<line x1="395.58" y1="634.4" x2="395.58" y2="637.9" stroke="#333" stroke-width="0.9"/>
<line x1="399.99" y1="634.4" x2="399.99" y2="637.9" stroke="#333" stroke-width="0.9"/>
<line x1="404.41" y1="634.4" x2="404.41" y2="637.9" stroke="#333" stroke-width="0.9"/>
<line x1="408.82" y1="634.4" x2="408.82" y2="637.9" stroke="#333" stroke-width="0.9"/>
<line x1="413.24" y1="634.4" x2="413.24" y2="637.9" stroke="#333" stroke-width="0.9"/>
<line x1="417.66" y1="634.4" x2="417.66" y2="637.9" stroke="#333" stroke-width="0.9"/>
<line x1="422.07" y1="634.4" x2="422.07" y2="637.9" stroke="#333" stroke-width="0.9"/>
<line x1="426.49" y1="634.4" x2="426.49" y2="637.9" stroke="#333" stroke-width="0.9"/>
<line x1="430.90" y1="634.4" x2="430.90" y2="637.9" stroke="#333" stroke-width="0.9"/>
<line x1="435.32" y1="634.4" x2="435.32" y2="637.9" stroke="#333" stroke-width="0.9"/>
<line x1="439.74" y1="634.4" x2="439.74" y2="637.9" stroke="#333" stroke-width="0.9"/>
<line x1="444.15" y1="634.4" x2="444.15" y2="637.9" stroke="#333" stroke-width="0.9"/>
<line x1="448.57" y1="634.4" x2="448.57" y2="637.9" stroke="#333" stroke-width="0.9"/>
<line x1="452.98" y1="634.4" x2="452.98" y2="637.9" stroke="#333" stroke-width="0.9"/>
<line x1="457.40" y1="634.4" x2="457.40" y2="637.9" stroke="#333" stroke-width="0.9"/>
<line x1="461.82" y1="634.4" x2="461.82" y2="637.9" stroke="#333" stroke-width="0.9"/>
<line x1="466.23" y1="634.4" x2="466.23" y2="637.9" stroke="#333" stroke-width="0.9"/>
<line x1="470.65" y1="634.4" x2="470.65" y2="637.9" stroke="#333" stroke-width="0.9"/>
<line x1="475.06" y1="634.4" x2="475.06" y2="637.9" stroke="#333" stroke-width="0.9"/>
<line x1="479.48" y1="634.4" x2="479.48" y2="637.9" stroke="#333" stroke-width="0.9"/>
<line x1="483.90" y1="634.4" x2="483.90" y2="637.9" stroke="#333" stroke-width="0.9"/>
<line x1="488.31" y1="634.4" x2="488.31" y2="637.9" stroke="#333" stroke-width="0.9"/>
<line x1="492.73" y1="634.4" x2="492.73" y2="637.9" stroke="#333" stroke-width="0.9"/>
<text x="346.40" y="647.00" font-size="8.3" text-anchor="middle" fill="#222" stroke="#222" stroke-width="0.22">0</text>
<text x="355.23" y="647.00" font-size="8.3" text-anchor="middle" fill="#222" stroke="#222" stroke-width="0.22">4</text>
<text x="364.06" y="647.00" font-size="8.3" text-anchor="middle" fill="#222" stroke="#222" stroke-width="0.22">8</text>
<text x="377.31" y="647.00" font-size="8.3" text-anchor="middle" fill="#222" stroke="#222" stroke-width="0.22">14</text>
<text x="390.56" y="647.00" font-size="8.3" text-anchor="middle" fill="#222" stroke="#222" stroke-width="0.22">20</text>
<text x="403.81" y="647.00" font-size="8.3" text-anchor="middle" fill="#222" stroke="#222" stroke-width="0.22">26</text>
<text x="417.06" y="647.00" font-size="8.3" text-anchor="middle" fill="#222" stroke="#222" stroke-width="0.22">32</text>
<text x="430.30" y="647.00" font-size="8.3" text-anchor="middle" fill="#222" stroke="#222" stroke-width="0.22">38</text>
<text x="443.55" y="647.00" font-size="8.3" text-anchor="middle" fill="#222" stroke="#222" stroke-width="0.22">44</text>
<text x="456.80" y="647.00" font-size="8.3" text-anchor="middle" fill="#222" stroke="#222" stroke-width="0.22">50</text>
<text x="470.05" y="647.00" font-size="8.3" text-anchor="middle" fill="#222" stroke="#222" stroke-width="0.22">56</text>
<text x="483.30" y="647.00" font-size="8.3" text-anchor="middle" fill="#222" stroke="#222" stroke-width="0.22">62</text>
<text transform="translate(317.4,564.50) rotate(-90)" font-size="8.2" text-anchor="middle" fill="#222" stroke="#222" stroke-width="0.22">Probability of survival</text>
<text x="423.80" y="479.40" font-size="7.9" text-anchor="middle" fill="#111" stroke="#111" stroke-width="0.22">Platinum-based chemotherapy</text>
<path d="M346,562.3H380.36M371.73,562.3V626M376.52,562.3V626M380.36,562.3V626" stroke="#9a9a9a" stroke-width="0.7" stroke-dasharray="2.2,1.5" fill="none"/>
<path d="M346.50,495.40H347.85V497.85H349.20V500.30H350.35V501.65H351.50V503.00H352.65V504.75H353.80V506.50H354.87V508.33H355.93V510.17H357.00V512.00H358.00V514.27H359.00V516.53H360.00V518.80H361.25V521.40H362.50V524.00H363.55V526.75H364.60V529.50H365.80V532.25H367.00V535.00H368.10V537.65H369.20V540.30H370.13V542.20H371.07V544.10H372.00V546.00H373.13V548.20H374.27V550.40H375.40V552.60H376.70V554.80H378.00V557.00H379.00V559.40H380.00V561.80H381.20V565.25H382.40V568.70H383.47V570.43H384.55V572.15H385.62V573.88H386.70V575.60H387.87V577.33H389.03V579.07H390.20V580.80H391.24V581.84H392.28V582.88H393.32V583.92H394.36V584.96H395.40V586.00H396.70V587.08H398.00V588.15H399.30V589.22H400.60V590.30H404.90V591.60H409.20V592.90H410.24V593.94H411.28V594.98H412.32V596.02H413.36V597.06H414.40V598.10H417.20V599.25H420.00V600.40H420.95V602.30H421.90V604.20H424.80V605.20H427.70V606.20H431.55V607.35H435.40V608.50H457.50V609.00H458.50V611.00H496.00V611.00" fill="none" stroke="#9cc3e4" stroke-width="1.2"/>
<path d="M346.50,495.40H347.70V501.80H348.97V503.10H350.23V504.40H351.50V505.70H352.53V508.00H353.57V510.30H354.60V512.60H355.55V515.30H356.50V518.00H357.50V521.45H358.50V524.90H359.50V528.45H360.50V532.00H361.40V536.15H362.30V540.30H363.65V543.15H365.00V546.00H366.35V548.55H367.70V551.10H368.55V553.55H369.40V556.00H370.45V559.00H371.50V562.00H372.60V565.35H373.70V568.70H374.63V570.30H375.57V571.90H376.50V573.50H377.60V575.07H378.70V576.63H379.80V578.20H385.00V579.00H386.38V580.04H387.76V581.08H389.14V582.12H390.52V583.16H391.90V584.20H393.20V586.80H394.50V589.40H397.55V590.30H400.60V591.20H403.20V592.05H405.80V592.90H410.10V594.20H414.40V595.50H417.20V596.50H420.00V597.50H425.80V598.50H439.20V598.50H440.20V600.40H446.90V600.80H448.80V602.30H452.70V602.70H456.50V604.20H458.50V605.60H469.00V606.20H471.00V607.70H496.00V607.70" fill="none" stroke="#2f5ea8" stroke-width="1.2"/>
<path d="M346.50,495.40H350.80V495.70H351.50V499.50H354.60V500.30H356.20V507.20H357.35V508.35H358.50V509.50H359.50V511.30H360.50V513.10H361.50V514.90H363.00V519.00H364.60V524.90H366.00V528.00H366.85V530.70H367.70V533.40H369.00V538.00H370.00V543.40H371.50V548.00H373.10V554.20H374.60V560.30H375.63V562.10H376.67V563.90H377.70V565.70H378.73V566.97H379.77V568.23H380.80V569.50H382.07V570.53H383.33V571.57H384.60V572.60H385.65V574.95H386.70V577.30H388.00V578.38H389.30V579.45H390.60V580.52H391.90V581.60H394.50V582.90H397.10V584.20H398.14V585.60H399.18V587.00H400.22V588.40H401.26V589.80H402.30V591.20H405.75V592.45H409.20V593.70H412.70V595.00H416.20V596.30H420.00V597.50H424.80V597.50H425.80V600.40H427.07V601.37H428.33V602.33H429.60V603.30H430.90V604.27H432.20V605.23H433.50V606.20H438.30V607.70H496.00V608.00" fill="none" stroke="#c3503b" stroke-width="1.2"/>
<line x1="459.00" y1="605.50" x2="459.00" y2="609.90" stroke="#c3503b" stroke-width="0.9"/>
<line x1="462.00" y1="605.50" x2="462.00" y2="609.90" stroke="#c3503b" stroke-width="0.9"/>
<line x1="464.00" y1="605.50" x2="464.00" y2="609.90" stroke="#c3503b" stroke-width="0.9"/>
<line x1="467.00" y1="605.50" x2="467.00" y2="609.90" stroke="#c3503b" stroke-width="0.9"/>
<line x1="470.00" y1="605.50" x2="470.00" y2="609.90" stroke="#c3503b" stroke-width="0.9"/>
<line x1="474.00" y1="605.50" x2="474.00" y2="609.90" stroke="#c3503b" stroke-width="0.9"/>
<line x1="478.00" y1="605.50" x2="478.00" y2="609.90" stroke="#c3503b" stroke-width="0.9"/>
<line x1="481.00" y1="605.50" x2="481.00" y2="609.90" stroke="#c3503b" stroke-width="0.9"/>
<line x1="484.00" y1="605.50" x2="484.00" y2="609.90" stroke="#c3503b" stroke-width="0.9"/>
<line x1="487.00" y1="605.50" x2="487.00" y2="609.90" stroke="#c3503b" stroke-width="0.9"/>
<line x1="490.00" y1="605.50" x2="490.00" y2="609.90" stroke="#c3503b" stroke-width="0.9"/>
<line x1="493.00" y1="605.50" x2="493.00" y2="609.90" stroke="#c3503b" stroke-width="0.9"/>
<line x1="495.00" y1="605.50" x2="495.00" y2="609.90" stroke="#c3503b" stroke-width="0.9"/>
<line x1="462.00" y1="608.80" x2="462.00" y2="613.20" stroke="#9cc3e4" stroke-width="0.9"/>
<line x1="466.00" y1="608.80" x2="466.00" y2="613.20" stroke="#9cc3e4" stroke-width="0.9"/>
<line x1="470.00" y1="608.80" x2="470.00" y2="613.20" stroke="#9cc3e4" stroke-width="0.9"/>
<line x1="474.00" y1="608.80" x2="474.00" y2="613.20" stroke="#9cc3e4" stroke-width="0.9"/>
<line x1="479.00" y1="608.80" x2="479.00" y2="613.20" stroke="#9cc3e4" stroke-width="0.9"/>
<line x1="484.00" y1="608.80" x2="484.00" y2="613.20" stroke="#9cc3e4" stroke-width="0.9"/>
<line x1="488.00" y1="608.80" x2="488.00" y2="613.20" stroke="#9cc3e4" stroke-width="0.9"/>
<line x1="492.00" y1="608.80" x2="492.00" y2="613.20" stroke="#9cc3e4" stroke-width="0.9"/>
<line x1="495.00" y1="608.80" x2="495.00" y2="613.20" stroke="#9cc3e4" stroke-width="0.9"/>
<line x1="458.00" y1="602.00" x2="458.00" y2="606.40" stroke="#2f5ea8" stroke-width="0.9"/>
<line x1="471.00" y1="605.50" x2="471.00" y2="609.90" stroke="#2f5ea8" stroke-width="0.9"/>
<line x1="480.00" y1="605.50" x2="480.00" y2="609.90" stroke="#2f5ea8" stroke-width="0.9"/>
<line x1="486.00" y1="605.50" x2="486.00" y2="609.90" stroke="#2f5ea8" stroke-width="0.9"/>
<line x1="490.00" y1="605.50" x2="490.00" y2="609.90" stroke="#2f5ea8" stroke-width="0.9"/>
<line x1="492.00" y1="605.50" x2="492.00" y2="609.90" stroke="#2f5ea8" stroke-width="0.9"/>
<line x1="494.00" y1="605.50" x2="494.00" y2="609.90" stroke="#2f5ea8" stroke-width="0.9"/>
<text x="363.40" y="631.60" font-size="6.8" text-anchor="middle" fill="#2f5ea8" stroke="#2f5ea8" stroke-width="0.22">11.2</text>
<text x="379.10" y="631.60" font-size="6.8" text-anchor="middle" fill="#c3503b" stroke="#c3503b" stroke-width="0.22">13.37</text>
<text x="396.60" y="631.60" font-size="6.8" text-anchor="middle" fill="#9cc3e4" stroke="#9cc3e4" stroke-width="0.22">15.11</text>
<text x="508.30" y="501.80" font-size="8.0" text-anchor="end" fill="#111" stroke="#111" stroke-width="0.22">mregDC signature</text>
<text x="393.2" y="522.8" font-size="8.2" fill="#111" stroke="#111" stroke-width="0.22">Log-rank <tspan font-style="italic">P</tspan> value = 0.823</text>
<text x="393.2" y="532.40" font-size="6.6" fill="#111" textLength="109" lengthAdjust="spacingAndGlyphs" stroke="#111" stroke-width="0.22">T3 vs. T1: 0.9 (0.66&#8211;1.24), <tspan font-style="italic">P</tspan> = 0.52</text>
<text x="393.2" y="540.05" font-size="6.6" fill="#111" textLength="112" lengthAdjust="spacingAndGlyphs" stroke="#111" stroke-width="0.22">T3 vs. T2: 0.97 (0.71&#8211;1.32), <tspan font-style="italic">P</tspan> = 0.84</text>
<text x="393.2" y="547.70" font-size="6.6" fill="#111" textLength="108.5" lengthAdjust="spacingAndGlyphs" stroke="#111" stroke-width="0.22">T2 vs. T1: 0.94 (0.68&#8211;1.3), <tspan font-style="italic">P</tspan> = 0.71</text>
<text x="416.80" y="660.60" font-size="7.9" text-anchor="middle" fill="#111" stroke="#111" stroke-width="0.22">Months</text>
<text x="333.80" y="668.70" font-size="6.6" text-anchor="start" fill="#2f5ea8" stroke="#2f5ea8" stroke-width="0.22">T1</text>
<text x="347.00" y="668.70" font-size="6.6" text-anchor="middle" fill="#2f5ea8" stroke="#2f5ea8" stroke-width="0.22">86</text>
<text x="355.83" y="668.70" font-size="6.6" text-anchor="middle" fill="#2f5ea8" stroke="#2f5ea8" stroke-width="0.22">73</text>
<text x="364.66" y="668.70" font-size="6.6" text-anchor="middle" fill="#2f5ea8" stroke="#2f5ea8" stroke-width="0.22">51</text>
<text x="373.50" y="668.70" font-size="6.6" text-anchor="middle" fill="#2f5ea8" stroke="#2f5ea8" stroke-width="0.22">40</text>
<text x="382.33" y="668.70" font-size="6.6" text-anchor="middle" fill="#2f5ea8" stroke="#2f5ea8" stroke-width="0.22">32</text>
<text x="391.16" y="668.70" font-size="6.6" text-anchor="middle" fill="#2f5ea8" stroke="#2f5ea8" stroke-width="0.22">29</text>
<text x="399.99" y="668.70" font-size="6.6" text-anchor="middle" fill="#2f5ea8" stroke="#2f5ea8" stroke-width="0.22">24</text>
<text x="408.82" y="668.70" font-size="6.6" text-anchor="middle" fill="#2f5ea8" stroke="#2f5ea8" stroke-width="0.22">21</text>
<text x="417.66" y="668.70" font-size="6.6" text-anchor="middle" fill="#2f5ea8" stroke="#2f5ea8" stroke-width="0.22">19</text>
<text x="426.49" y="668.70" font-size="6.6" text-anchor="middle" fill="#2f5ea8" stroke="#2f5ea8" stroke-width="0.22">17</text>
<text x="435.32" y="668.70" font-size="6.6" text-anchor="middle" fill="#2f5ea8" stroke="#2f5ea8" stroke-width="0.22">17</text>
<text x="444.15" y="668.70" font-size="6.6" text-anchor="middle" fill="#2f5ea8" stroke="#2f5ea8" stroke-width="0.22">16</text>
<text x="452.98" y="668.70" font-size="6.6" text-anchor="middle" fill="#2f5ea8" stroke="#2f5ea8" stroke-width="0.22">14</text>
<text x="461.82" y="668.70" font-size="6.6" text-anchor="middle" fill="#2f5ea8" stroke="#2f5ea8" stroke-width="0.22">11</text>
<text x="470.65" y="668.70" font-size="6.6" text-anchor="middle" fill="#2f5ea8" stroke="#2f5ea8" stroke-width="0.22">10</text>
<text x="479.48" y="668.70" font-size="6.6" text-anchor="middle" fill="#2f5ea8" stroke="#2f5ea8" stroke-width="0.22">5</text>
<text x="488.31" y="668.70" font-size="6.6" text-anchor="middle" fill="#2f5ea8" stroke="#2f5ea8" stroke-width="0.22">4</text>
<text x="493.80" y="668.70" font-size="6.6" text-anchor="middle" fill="#2f5ea8" stroke="#2f5ea8" stroke-width="0.22">1</text>
<text x="333.80" y="676.80" font-size="6.6" text-anchor="start" fill="#9cc3e4" stroke="#9cc3e4" stroke-width="0.22">T2</text>
<text x="347.00" y="676.80" font-size="6.6" text-anchor="middle" fill="#9cc3e4" stroke="#9cc3e4" stroke-width="0.22">91</text>
<text x="355.83" y="676.80" font-size="6.6" text-anchor="middle" fill="#9cc3e4" stroke="#9cc3e4" stroke-width="0.22">80</text>
<text x="364.66" y="676.80" font-size="6.6" text-anchor="middle" fill="#9cc3e4" stroke="#9cc3e4" stroke-width="0.22">69</text>
<text x="373.50" y="676.80" font-size="6.6" text-anchor="middle" fill="#9cc3e4" stroke="#9cc3e4" stroke-width="0.22">53</text>
<text x="382.33" y="676.80" font-size="6.6" text-anchor="middle" fill="#9cc3e4" stroke="#9cc3e4" stroke-width="0.22">42</text>
<text x="391.16" y="676.80" font-size="6.6" text-anchor="middle" fill="#9cc3e4" stroke="#9cc3e4" stroke-width="0.22">33</text>
<text x="399.99" y="676.80" font-size="6.6" text-anchor="middle" fill="#9cc3e4" stroke="#9cc3e4" stroke-width="0.22">28</text>
<text x="408.82" y="676.80" font-size="6.6" text-anchor="middle" fill="#9cc3e4" stroke="#9cc3e4" stroke-width="0.22">25</text>
<text x="417.66" y="676.80" font-size="6.6" text-anchor="middle" fill="#9cc3e4" stroke="#9cc3e4" stroke-width="0.22">19</text>
<text x="426.49" y="676.80" font-size="6.6" text-anchor="middle" fill="#9cc3e4" stroke="#9cc3e4" stroke-width="0.22">16</text>
<text x="435.32" y="676.80" font-size="6.6" text-anchor="middle" fill="#9cc3e4" stroke="#9cc3e4" stroke-width="0.22">14</text>
<text x="444.15" y="676.80" font-size="6.6" text-anchor="middle" fill="#9cc3e4" stroke="#9cc3e4" stroke-width="0.22">13</text>
<text x="452.98" y="676.80" font-size="6.6" text-anchor="middle" fill="#9cc3e4" stroke="#9cc3e4" stroke-width="0.22">13</text>
<text x="461.82" y="676.80" font-size="6.6" text-anchor="middle" fill="#9cc3e4" stroke="#9cc3e4" stroke-width="0.22">10</text>
<text x="470.65" y="676.80" font-size="6.6" text-anchor="middle" fill="#9cc3e4" stroke="#9cc3e4" stroke-width="0.22">6</text>
<text x="479.48" y="676.80" font-size="6.6" text-anchor="middle" fill="#9cc3e4" stroke="#9cc3e4" stroke-width="0.22">4</text>
<text x="488.31" y="676.80" font-size="6.6" text-anchor="middle" fill="#9cc3e4" stroke="#9cc3e4" stroke-width="0.22">2</text>
<text x="493.80" y="676.80" font-size="6.6" text-anchor="middle" fill="#9cc3e4" stroke="#9cc3e4" stroke-width="0.22">1</text>
<text x="333.80" y="684.90" font-size="6.6" text-anchor="start" fill="#c3503b" stroke="#c3503b" stroke-width="0.22">T3</text>
<text x="347.00" y="684.90" font-size="6.6" text-anchor="middle" fill="#c3503b" stroke="#c3503b" stroke-width="0.22">99</text>
<text x="355.83" y="684.90" font-size="6.6" text-anchor="middle" fill="#c3503b" stroke="#c3503b" stroke-width="0.22">91</text>
<text x="364.66" y="684.90" font-size="6.6" text-anchor="middle" fill="#c3503b" stroke="#c3503b" stroke-width="0.22">77</text>
<text x="373.50" y="684.90" font-size="6.6" text-anchor="middle" fill="#c3503b" stroke="#c3503b" stroke-width="0.22">54</text>
<text x="382.33" y="684.90" font-size="6.6" text-anchor="middle" fill="#c3503b" stroke="#c3503b" stroke-width="0.22">42</text>
<text x="391.16" y="684.90" font-size="6.6" text-anchor="middle" fill="#c3503b" stroke="#c3503b" stroke-width="0.22">35</text>
<text x="399.99" y="684.90" font-size="6.6" text-anchor="middle" fill="#c3503b" stroke="#c3503b" stroke-width="0.22">29</text>
<text x="408.82" y="684.90" font-size="6.6" text-anchor="middle" fill="#c3503b" stroke="#c3503b" stroke-width="0.22">25</text>
<text x="417.66" y="684.90" font-size="6.6" text-anchor="middle" fill="#c3503b" stroke="#c3503b" stroke-width="0.22">23</text>
<text x="426.49" y="684.90" font-size="6.6" text-anchor="middle" fill="#c3503b" stroke="#c3503b" stroke-width="0.22">21</text>
<text x="435.32" y="684.90" font-size="6.6" text-anchor="middle" fill="#c3503b" stroke="#c3503b" stroke-width="0.22">16</text>
<text x="444.15" y="684.90" font-size="6.6" text-anchor="middle" fill="#c3503b" stroke="#c3503b" stroke-width="0.22">15</text>
<text x="452.98" y="684.90" font-size="6.6" text-anchor="middle" fill="#c3503b" stroke="#c3503b" stroke-width="0.22">15</text>
<text x="461.82" y="684.90" font-size="6.6" text-anchor="middle" fill="#c3503b" stroke="#c3503b" stroke-width="0.22">13</text>
<text x="470.65" y="684.90" font-size="6.6" text-anchor="middle" fill="#c3503b" stroke="#c3503b" stroke-width="0.22">11</text>
<text x="479.48" y="684.90" font-size="6.6" text-anchor="middle" fill="#c3503b" stroke="#c3503b" stroke-width="0.22">6</text>
<text x="488.31" y="684.90" font-size="6.6" text-anchor="middle" fill="#c3503b" stroke="#c3503b" stroke-width="0.22">3</text>
<text x="493.80" y="684.90" font-size="6.6" text-anchor="middle" fill="#c3503b" stroke="#c3503b" stroke-width="0.22">0</text>
<rect x="1.20" y="586.60" width="8.25" height="13.04" fill="#8c1b2d" stroke="#b4b4b4" stroke-width="0.6"/>
<rect x="9.45" y="586.60" width="8.25" height="13.04" fill="#c0524a" stroke="#b4b4b4" stroke-width="0.6"/>
<rect x="17.70" y="586.60" width="8.25" height="13.04" fill="#8c1b2d" stroke="#b4b4b4" stroke-width="0.6"/>
<rect x="25.95" y="586.60" width="8.25" height="13.04" fill="#c5d9ea" stroke="#b4b4b4" stroke-width="0.6"/>
<rect x="34.20" y="586.60" width="8.25" height="13.04" fill="#f8ebe0" stroke="#b4b4b4" stroke-width="0.6"/>
<rect x="42.45" y="586.60" width="8.25" height="13.04" fill="#c8dcec" stroke="#b4b4b4" stroke-width="0.6"/>
<rect x="50.70" y="586.60" width="8.25" height="13.04" fill="#c0504a" stroke="#b4b4b4" stroke-width="0.6"/>
<rect x="58.95" y="586.60" width="8.25" height="13.04" fill="#8c1b2d" stroke="#b4b4b4" stroke-width="0.6"/>
<rect x="1.20" y="599.64" width="8.25" height="13.04" fill="#e8eef5" stroke="#b4b4b4" stroke-width="0.6"/>
<rect x="9.45" y="599.64" width="8.25" height="13.04" fill="#8fb5d9" stroke="#b4b4b4" stroke-width="0.6"/>
<rect x="17.70" y="599.64" width="8.25" height="13.04" fill="#d0e0ee" stroke="#b4b4b4" stroke-width="0.6"/>
<rect x="25.95" y="599.64" width="8.25" height="13.04" fill="#b0cde3" stroke="#b4b4b4" stroke-width="0.6"/>
<rect x="34.20" y="599.64" width="8.25" height="13.04" fill="#eef1f5" stroke="#b4b4b4" stroke-width="0.6"/>
<rect x="42.45" y="599.64" width="8.25" height="13.04" fill="#d98a70" stroke="#b4b4b4" stroke-width="0.6"/>
<rect x="50.70" y="599.64" width="8.25" height="13.04" fill="#9fc2de" stroke="#b4b4b4" stroke-width="0.6"/>
<rect x="58.95" y="599.64" width="8.25" height="13.04" fill="#cfe0ee" stroke="#b4b4b4" stroke-width="0.6"/>
<rect x="1.20" y="612.68" width="8.25" height="13.04" fill="#d4e3ef" stroke="#b4b4b4" stroke-width="0.6"/>
<rect x="9.45" y="612.68" width="8.25" height="13.04" fill="#a9c7e0" stroke="#b4b4b4" stroke-width="0.6"/>
<rect x="17.70" y="612.68" width="8.25" height="13.04" fill="#d5e4f0" stroke="#b4b4b4" stroke-width="0.6"/>
<rect x="25.95" y="612.68" width="8.25" height="13.04" fill="#bcd4e7" stroke="#b4b4b4" stroke-width="0.6"/>
<rect x="34.20" y="612.68" width="8.25" height="13.04" fill="#b8413f" stroke="#b4b4b4" stroke-width="0.6"/>
<rect x="42.45" y="612.68" width="8.25" height="13.04" fill="#f0f2f5" stroke="#b4b4b4" stroke-width="0.6"/>
<rect x="50.70" y="612.68" width="8.25" height="13.04" fill="#dbe6f1" stroke="#b4b4b4" stroke-width="0.6"/>
<rect x="58.95" y="612.68" width="8.25" height="13.04" fill="#e0eaf3" stroke="#b4b4b4" stroke-width="0.6"/>
<rect x="1.20" y="625.72" width="8.25" height="13.04" fill="#b9d2e6" stroke="#b4b4b4" stroke-width="0.6"/>
<rect x="9.45" y="625.72" width="8.25" height="13.04" fill="#e9a88a" stroke="#b4b4b4" stroke-width="0.6"/>
<rect x="17.70" y="625.72" width="8.25" height="13.04" fill="#d7e5f1" stroke="#b4b4b4" stroke-width="0.6"/>
<rect x="25.95" y="625.72" width="8.25" height="13.04" fill="#f7e2d3" stroke="#b4b4b4" stroke-width="0.6"/>
<rect x="34.20" y="625.72" width="8.25" height="13.04" fill="#4f7fc3" stroke="#b4b4b4" stroke-width="0.6"/>
<rect x="42.45" y="625.72" width="8.25" height="13.04" fill="#d98668" stroke="#b4b4b4" stroke-width="0.6"/>
<rect x="50.70" y="625.72" width="8.25" height="13.04" fill="#8fb8dc" stroke="#b4b4b4" stroke-width="0.6"/>
<rect x="58.95" y="625.72" width="8.25" height="13.04" fill="#d3e2ef" stroke="#b4b4b4" stroke-width="0.6"/>
<rect x="1.20" y="638.76" width="8.25" height="13.04" fill="#c5d9ea" stroke="#b4b4b4" stroke-width="0.6"/>
<rect x="9.45" y="638.76" width="8.25" height="13.04" fill="#dae6f1" stroke="#b4b4b4" stroke-width="0.6"/>
<rect x="17.70" y="638.76" width="8.25" height="13.04" fill="#d0e0ee" stroke="#b4b4b4" stroke-width="0.6"/>
<rect x="25.95" y="638.76" width="8.25" height="13.04" fill="#9b1c2c" stroke="#b4b4b4" stroke-width="0.6"/>
<rect x="34.20" y="638.76" width="8.25" height="13.04" fill="#f4f4f4" stroke="#b4b4b4" stroke-width="0.6"/>
<rect x="42.45" y="638.76" width="8.25" height="13.04" fill="#4a7cc0" stroke="#b4b4b4" stroke-width="0.6"/>
<rect x="50.70" y="638.76" width="8.25" height="13.04" fill="#eba889" stroke="#b4b4b4" stroke-width="0.6"/>
<rect x="58.95" y="638.76" width="8.25" height="13.04" fill="#cde0ee" stroke="#b4b4b4" stroke-width="0.6"/>
<rect x="1.20" y="586.6" width="66.00" height="65.20" fill="none" stroke="#5a5a5a" stroke-width="1.1"/>
<text transform="translate(2.83,585.3) rotate(90)" font-size="7" font-style="italic" text-anchor="end" fill="#111" stroke="#111" stroke-width="0.22">MARCKSL1</text>
<text transform="translate(11.07,585.3) rotate(90)" font-size="7" font-style="italic" text-anchor="end" fill="#111" stroke="#111" stroke-width="0.22">MARCKS</text>
<text transform="translate(19.32,585.3) rotate(90)" font-size="7" font-style="italic" text-anchor="end" fill="#111" stroke="#111" stroke-width="0.22">FSCN1</text>
<text transform="translate(27.57,585.3) rotate(90)" font-size="7" font-style="italic" text-anchor="end" fill="#111" stroke="#111" stroke-width="0.22">ICAM1</text>
<text transform="translate(35.83,585.3) rotate(90)" font-size="7" font-style="italic" text-anchor="end" fill="#111" stroke="#111" stroke-width="0.22">ADAM8</text>
<text transform="translate(44.08,585.3) rotate(90)" font-size="7" font-style="italic" text-anchor="end" fill="#111" stroke="#111" stroke-width="0.22">CXCL16</text>
<text transform="translate(52.33,585.3) rotate(90)" font-size="7" font-style="italic" text-anchor="end" fill="#111" stroke="#111" stroke-width="0.22">MYO1G</text>
<text transform="translate(60.58,585.3) rotate(90)" font-size="7" font-style="italic" text-anchor="end" fill="#111" stroke="#111" stroke-width="0.22">CCR7</text>
<text x="35.00" y="539.0" font-size="8.1" text-anchor="middle" fill="#111" stroke="#111" stroke-width="0.22">Migration</text>
<rect x="68.80" y="586.60" width="8.24" height="13.04" fill="#8c1b2d" stroke="#b4b4b4" stroke-width="0.6"/>
<rect x="77.04" y="586.60" width="8.24" height="13.04" fill="#8c1b2d" stroke="#b4b4b4" stroke-width="0.6"/>
<rect x="85.29" y="586.60" width="8.24" height="13.04" fill="#8fb8dc" stroke="#b4b4b4" stroke-width="0.6"/>
<rect x="93.53" y="586.60" width="8.24" height="13.04" fill="#d98a6c" stroke="#b4b4b4" stroke-width="0.6"/>
<rect x="101.77" y="586.60" width="8.24" height="13.04" fill="#8c1b2d" stroke="#b4b4b4" stroke-width="0.6"/>
<rect x="110.01" y="586.60" width="8.24" height="13.04" fill="#8c1b2d" stroke="#b4b4b4" stroke-width="0.6"/>
<rect x="118.26" y="586.60" width="8.24" height="13.04" fill="#8c1b2d" stroke="#b4b4b4" stroke-width="0.6"/>
<rect x="68.80" y="599.64" width="8.24" height="13.04" fill="#a6c6e2" stroke="#b4b4b4" stroke-width="0.6"/>
<rect x="77.04" y="599.64" width="8.24" height="13.04" fill="#d3e3f0" stroke="#b4b4b4" stroke-width="0.6"/>
<rect x="85.29" y="599.64" width="8.24" height="13.04" fill="#93bade" stroke="#b4b4b4" stroke-width="0.6"/>
<rect x="93.53" y="599.64" width="8.24" height="13.04" fill="#5b8ac8" stroke="#b4b4b4" stroke-width="0.6"/>
<rect x="101.77" y="599.64" width="8.24" height="13.04" fill="#cfe0ee" stroke="#b4b4b4" stroke-width="0.6"/>
<rect x="110.01" y="599.64" width="8.24" height="13.04" fill="#c7dbec" stroke="#b4b4b4" stroke-width="0.6"/>
<rect x="118.26" y="599.64" width="8.24" height="13.04" fill="#cfe0ee" stroke="#b4b4b4" stroke-width="0.6"/>
<rect x="68.80" y="612.68" width="8.24" height="13.04" fill="#d3e3f0" stroke="#b4b4b4" stroke-width="0.6"/>
<rect x="77.04" y="612.68" width="8.24" height="13.04" fill="#d8e6f1" stroke="#b4b4b4" stroke-width="0.6"/>
<rect x="85.29" y="612.68" width="8.24" height="13.04" fill="#e3a084" stroke="#b4b4b4" stroke-width="0.6"/>
<rect x="93.53" y="612.68" width="8.24" height="13.04" fill="#eff2f5" stroke="#b4b4b4" stroke-width="0.6"/>
<rect x="101.77" y="612.68" width="8.24" height="13.04" fill="#d3e3f0" stroke="#b4b4b4" stroke-width="0.6"/>
<rect x="110.01" y="612.68" width="8.24" height="13.04" fill="#cfe0ee" stroke="#b4b4b4" stroke-width="0.6"/>
<rect x="118.26" y="612.68" width="8.24" height="13.04" fill="#d3e2ef" stroke="#b4b4b4" stroke-width="0.6"/>
<rect x="68.80" y="625.72" width="8.24" height="13.04" fill="#e9eff5" stroke="#b4b4b4" stroke-width="0.6"/>
<rect x="77.04" y="625.72" width="8.24" height="13.04" fill="#dae6f1" stroke="#b4b4b4" stroke-width="0.6"/>
<rect x="85.29" y="625.72" width="8.24" height="13.04" fill="#c55a4c" stroke="#b4b4b4" stroke-width="0.6"/>
<rect x="93.53" y="625.72" width="8.24" height="13.04" fill="#c3d8ea" stroke="#b4b4b4" stroke-width="0.6"/>
<rect x="101.77" y="625.72" width="8.24" height="13.04" fill="#d3e3f0" stroke="#b4b4b4" stroke-width="0.6"/>
<rect x="110.01" y="625.72" width="8.24" height="13.04" fill="#f6f4f0" stroke="#b4b4b4" stroke-width="0.6"/>
<rect x="118.26" y="625.72" width="8.24" height="13.04" fill="#e6edf4" stroke="#b4b4b4" stroke-width="0.6"/>
<rect x="68.80" y="638.76" width="8.24" height="13.04" fill="#e6edf4" stroke="#b4b4b4" stroke-width="0.6"/>
<rect x="77.04" y="638.76" width="8.24" height="13.04" fill="#bad2e7" stroke="#b4b4b4" stroke-width="0.6"/>
<rect x="85.29" y="638.76" width="8.24" height="13.04" fill="#e9eff5" stroke="#b4b4b4" stroke-width="0.6"/>
<rect x="93.53" y="638.76" width="8.24" height="13.04" fill="#df8b68" stroke="#b4b4b4" stroke-width="0.6"/>
<rect x="101.77" y="638.76" width="8.24" height="13.04" fill="#cbdeed" stroke="#b4b4b4" stroke-width="0.6"/>
<rect x="110.01" y="638.76" width="8.24" height="13.04" fill="#bdd5e8" stroke="#b4b4b4" stroke-width="0.6"/>
<rect x="118.26" y="638.76" width="8.24" height="13.04" fill="#c9dcec" stroke="#b4b4b4" stroke-width="0.6"/>
<rect x="68.80" y="586.6" width="57.70" height="65.20" fill="none" stroke="#5a5a5a" stroke-width="1.1"/>
<text transform="translate(70.42,585.3) rotate(90)" font-size="7" font-style="italic" text-anchor="end" fill="#111" stroke="#111" stroke-width="0.22">SOCS2</text>
<text transform="translate(78.66,585.3) rotate(90)" font-size="7" font-style="italic" text-anchor="end" fill="#111" stroke="#111" stroke-width="0.22">SOCS1</text>
<text transform="translate(86.91,585.3) rotate(90)" font-size="7" font-style="italic" text-anchor="end" fill="#111" stroke="#111" stroke-width="0.22">ALDH1A2</text>
<text transform="translate(95.15,585.3) rotate(90)" font-size="7" font-style="italic" text-anchor="end" fill="#111" stroke="#111" stroke-width="0.22">FAS</text>
<text transform="translate(103.39,585.3) rotate(90)" font-size="7" font-style="italic" text-anchor="end" fill="#111" stroke="#111" stroke-width="0.22">CD200</text>
<text transform="translate(111.64,585.3) rotate(90)" font-size="7" font-style="italic" text-anchor="end" fill="#111" stroke="#111" stroke-width="0.22">PDCD1LG2</text>
<text transform="translate(119.88,585.3) rotate(90)" font-size="7" font-style="italic" text-anchor="end" fill="#111" stroke="#111" stroke-width="0.22">CD274</text>
<text x="98.45" y="539.0" font-size="8.1" text-anchor="middle" fill="#111" stroke="#111" stroke-width="0.22">Regulatory</text>
<rect x="128.10" y="586.60" width="8.22" height="13.04" fill="#8c1b2d" stroke="#b4b4b4" stroke-width="0.6"/>
<rect x="136.32" y="586.60" width="8.22" height="13.04" fill="#8c1b2d" stroke="#b4b4b4" stroke-width="0.6"/>
<rect x="144.54" y="586.60" width="8.22" height="13.04" fill="#a0202e" stroke="#b4b4b4" stroke-width="0.6"/>
<rect x="152.76" y="586.60" width="8.22" height="13.04" fill="#8c1b2d" stroke="#b4b4b4" stroke-width="0.6"/>
<rect x="160.98" y="586.60" width="8.22" height="13.04" fill="#8c1b2d" stroke="#b4b4b4" stroke-width="0.6"/>
<rect x="128.10" y="599.64" width="8.22" height="13.04" fill="#b5cfe6" stroke="#b4b4b4" stroke-width="0.6"/>
<rect x="136.32" y="599.64" width="8.22" height="13.04" fill="#a9c8e1" stroke="#b4b4b4" stroke-width="0.6"/>
<rect x="144.54" y="599.64" width="8.22" height="13.04" fill="#9fc2de" stroke="#b4b4b4" stroke-width="0.6"/>
<rect x="152.76" y="599.64" width="8.22" height="13.04" fill="#c9dced" stroke="#b4b4b4" stroke-width="0.6"/>
<rect x="160.98" y="599.64" width="8.22" height="13.04" fill="#dbe7f1" stroke="#b4b4b4" stroke-width="0.6"/>
<rect x="128.10" y="612.68" width="8.22" height="13.04" fill="#f6f2ee" stroke="#b4b4b4" stroke-width="0.6"/>
<rect x="136.32" y="612.68" width="8.22" height="13.04" fill="#dce7f2" stroke="#b4b4b4" stroke-width="0.6"/>
<rect x="144.54" y="612.68" width="8.22" height="13.04" fill="#f4f5f5" stroke="#b4b4b4" stroke-width="0.6"/>
<rect x="152.76" y="612.68" width="8.22" height="13.04" fill="#e0e9f2" stroke="#b4b4b4" stroke-width="0.6"/>
<rect x="160.98" y="612.68" width="8.22" height="13.04" fill="#c6daec" stroke="#b4b4b4" stroke-width="0.6"/>
<rect x="128.10" y="625.72" width="8.22" height="13.04" fill="#b7d1e6" stroke="#b4b4b4" stroke-width="0.6"/>
<rect x="136.32" y="625.72" width="8.22" height="13.04" fill="#b9d2e6" stroke="#b4b4b4" stroke-width="0.6"/>
<rect x="144.54" y="625.72" width="8.22" height="13.04" fill="#f4f4f3" stroke="#b4b4b4" stroke-width="0.6"/>
<rect x="152.76" y="625.72" width="8.22" height="13.04" fill="#dce7f2" stroke="#b4b4b4" stroke-width="0.6"/>
<rect x="160.98" y="625.72" width="8.22" height="13.04" fill="#e6edf4" stroke="#b4b4b4" stroke-width="0.6"/>
<rect x="128.10" y="638.76" width="8.22" height="13.04" fill="#cfe1ef" stroke="#b4b4b4" stroke-width="0.6"/>
<rect x="136.32" y="638.76" width="8.22" height="13.04" fill="#edf1f5" stroke="#b4b4b4" stroke-width="0.6"/>
<rect x="144.54" y="638.76" width="8.22" height="13.04" fill="#a3c4e0" stroke="#b4b4b4" stroke-width="0.6"/>
<rect x="152.76" y="638.76" width="8.22" height="13.04" fill="#b0cce3" stroke="#b4b4b4" stroke-width="0.6"/>
<rect x="160.98" y="638.76" width="8.22" height="13.04" fill="#aac9e1" stroke="#b4b4b4" stroke-width="0.6"/>
<rect x="128.10" y="586.6" width="41.10" height="65.20" fill="none" stroke="#5a5a5a" stroke-width="1.1"/>
<text transform="translate(129.71,585.3) rotate(90)" font-size="7" font-style="italic" text-anchor="end" fill="#111" stroke="#111" stroke-width="0.22">CD83</text>
<text transform="translate(137.93,585.3) rotate(90)" font-size="7" font-style="italic" text-anchor="end" fill="#111" stroke="#111" stroke-width="0.22">RELB</text>
<text transform="translate(146.15,585.3) rotate(90)" font-size="7" font-style="italic" text-anchor="end" fill="#111" stroke="#111" stroke-width="0.22">CD86</text>
<text transform="translate(154.37,585.3) rotate(90)" font-size="7" font-style="italic" text-anchor="end" fill="#111" stroke="#111" stroke-width="0.22">CD80</text>
<text transform="translate(162.59,585.3) rotate(90)" font-size="7" font-style="italic" text-anchor="end" fill="#111" stroke="#111" stroke-width="0.22">CD40</text>
<text x="149.45" y="539.0" font-size="8.1" text-anchor="middle" fill="#111" stroke="#111" stroke-width="0.22">Maturation</text>
<rect x="170.70" y="586.60" width="8.23" height="13.04" fill="#b5cfe6" stroke="#b4b4b4" stroke-width="0.6"/>
<rect x="178.93" y="586.60" width="8.23" height="13.04" fill="#cfe0ee" stroke="#b4b4b4" stroke-width="0.6"/>
<rect x="187.17" y="586.60" width="8.23" height="13.04" fill="#d3e3ef" stroke="#b4b4b4" stroke-width="0.6"/>
<rect x="195.40" y="586.60" width="8.23" height="13.04" fill="#c5d9eb" stroke="#b4b4b4" stroke-width="0.6"/>
<rect x="203.63" y="586.60" width="8.23" height="13.04" fill="#e0e9f2" stroke="#b4b4b4" stroke-width="0.6"/>
<rect x="211.87" y="586.60" width="8.23" height="13.04" fill="#d3e3f0" stroke="#b4b4b4" stroke-width="0.6"/>
<rect x="220.10" y="586.60" width="8.23" height="13.04" fill="#8c1b2d" stroke="#b4b4b4" stroke-width="0.6"/>
<rect x="228.33" y="586.60" width="8.23" height="13.04" fill="#8c1b2d" stroke="#b4b4b4" stroke-width="0.6"/>
<rect x="236.57" y="586.60" width="8.23" height="13.04" fill="#8c1b2d" stroke="#b4b4b4" stroke-width="0.6"/>
<rect x="244.80" y="586.60" width="8.23" height="13.04" fill="#a83038" stroke="#b4b4b4" stroke-width="0.6"/>
<rect x="253.03" y="586.60" width="8.23" height="13.04" fill="#8c1b2d" stroke="#b4b4b4" stroke-width="0.6"/>
<rect x="261.27" y="586.60" width="8.23" height="13.04" fill="#8c1b2d" stroke="#b4b4b4" stroke-width="0.6"/>
<rect x="170.70" y="599.64" width="8.23" height="13.04" fill="#b7d0e6" stroke="#b4b4b4" stroke-width="0.6"/>
<rect x="178.93" y="599.64" width="8.23" height="13.04" fill="#d3e3f0" stroke="#b4b4b4" stroke-width="0.6"/>
<rect x="187.17" y="599.64" width="8.23" height="13.04" fill="#d3e3f0" stroke="#b4b4b4" stroke-width="0.6"/>
<rect x="195.40" y="599.64" width="8.23" height="13.04" fill="#8c1b2d" stroke="#b4b4b4" stroke-width="0.6"/>
<rect x="203.63" y="599.64" width="8.23" height="13.04" fill="#8c1b2d" stroke="#b4b4b4" stroke-width="0.6"/>
<rect x="211.87" y="599.64" width="8.23" height="13.04" fill="#8c1b2d" stroke="#b4b4b4" stroke-width="0.6"/>
<rect x="220.10" y="599.64" width="8.23" height="13.04" fill="#cfe0ee" stroke="#b4b4b4" stroke-width="0.6"/>
<rect x="228.33" y="599.64" width="8.23" height="13.04" fill="#cfe0ee" stroke="#b4b4b4" stroke-width="0.6"/>
<rect x="236.57" y="599.64" width="8.23" height="13.04" fill="#cde0ee" stroke="#b4b4b4" stroke-width="0.6"/>
<rect x="244.80" y="599.64" width="8.23" height="13.04" fill="#dce7f1" stroke="#b4b4b4" stroke-width="0.6"/>
<rect x="253.03" y="599.64" width="8.23" height="13.04" fill="#d7e5f1" stroke="#b4b4b4" stroke-width="0.6"/>
<rect x="261.27" y="599.64" width="8.23" height="13.04" fill="#d3e3f0" stroke="#b4b4b4" stroke-width="0.6"/>
<rect x="170.70" y="612.68" width="8.23" height="13.04" fill="#8c1b2d" stroke="#b4b4b4" stroke-width="0.6"/>
<rect x="178.93" y="612.68" width="8.23" height="13.04" fill="#8c1b2d" stroke="#b4b4b4" stroke-width="0.6"/>
<rect x="187.17" y="612.68" width="8.23" height="13.04" fill="#8c1b2d" stroke="#b4b4b4" stroke-width="0.6"/>
<rect x="195.40" y="612.68" width="8.23" height="13.04" fill="#e8eef4" stroke="#b4b4b4" stroke-width="0.6"/>
<rect x="203.63" y="612.68" width="8.23" height="13.04" fill="#cfe0ee" stroke="#b4b4b4" stroke-width="0.6"/>
<rect x="211.87" y="612.68" width="8.23" height="13.04" fill="#d7e5f1" stroke="#b4b4b4" stroke-width="0.6"/>
<rect x="220.10" y="612.68" width="8.23" height="13.04" fill="#dbe6f1" stroke="#b4b4b4" stroke-width="0.6"/>
<rect x="228.33" y="612.68" width="8.23" height="13.04" fill="#d7e5f1" stroke="#b4b4b4" stroke-width="0.6"/>
<rect x="236.57" y="612.68" width="8.23" height="13.04" fill="#dde8f2" stroke="#b4b4b4" stroke-width="0.6"/>
<rect x="244.80" y="612.68" width="8.23" height="13.04" fill="#eef1f5" stroke="#b4b4b4" stroke-width="0.6"/>
<rect x="253.03" y="612.68" width="8.23" height="13.04" fill="#c9dcec" stroke="#b4b4b4" stroke-width="0.6"/>
<rect x="261.27" y="612.68" width="8.23" height="13.04" fill="#dbe6f1" stroke="#b4b4b4" stroke-width="0.6"/>
<rect x="170.70" y="625.72" width="8.23" height="13.04" fill="#e5edf4" stroke="#b4b4b4" stroke-width="0.6"/>
<rect x="178.93" y="625.72" width="8.23" height="13.04" fill="#dae6f1" stroke="#b4b4b4" stroke-width="0.6"/>
<rect x="187.17" y="625.72" width="8.23" height="13.04" fill="#d0e1ef" stroke="#b4b4b4" stroke-width="0.6"/>
<rect x="195.40" y="625.72" width="8.23" height="13.04" fill="#d8e5f0" stroke="#b4b4b4" stroke-width="0.6"/>
<rect x="203.63" y="625.72" width="8.23" height="13.04" fill="#d3e3f0" stroke="#b4b4b4" stroke-width="0.6"/>
<rect x="211.87" y="625.72" width="8.23" height="13.04" fill="#d3e3f0" stroke="#b4b4b4" stroke-width="0.6"/>
<rect x="220.10" y="625.72" width="8.23" height="13.04" fill="#cfe0ee" stroke="#b4b4b4" stroke-width="0.6"/>
<rect x="228.33" y="625.72" width="8.23" height="13.04" fill="#d3e3f0" stroke="#b4b4b4" stroke-width="0.6"/>
<rect x="236.57" y="625.72" width="8.23" height="13.04" fill="#cfe0ee" stroke="#b4b4b4" stroke-width="0.6"/>
<rect x="244.80" y="625.72" width="8.23" height="13.04" fill="#f6e6da" stroke="#b4b4b4" stroke-width="0.6"/>
<rect x="253.03" y="625.72" width="8.23" height="13.04" fill="#c3d8ea" stroke="#b4b4b4" stroke-width="0.6"/>
<rect x="261.27" y="625.72" width="8.23" height="13.04" fill="#cfe0ee" stroke="#b4b4b4" stroke-width="0.6"/>
<rect x="170.70" y="638.76" width="8.23" height="13.04" fill="#e6edf4" stroke="#b4b4b4" stroke-width="0.6"/>
<rect x="178.93" y="638.76" width="8.23" height="13.04" fill="#d7e5f1" stroke="#b4b4b4" stroke-width="0.6"/>
<rect x="187.17" y="638.76" width="8.23" height="13.04" fill="#d7e5f1" stroke="#b4b4b4" stroke-width="0.6"/>
<rect x="195.40" y="638.76" width="8.23" height="13.04" fill="#bcd4e8" stroke="#b4b4b4" stroke-width="0.6"/>
<rect x="203.63" y="638.76" width="8.23" height="13.04" fill="#cfe0ee" stroke="#b4b4b4" stroke-width="0.6"/>
<rect x="211.87" y="638.76" width="8.23" height="13.04" fill="#cfe0ee" stroke="#b4b4b4" stroke-width="0.6"/>
<rect x="220.10" y="638.76" width="8.23" height="13.04" fill="#d3e3f0" stroke="#b4b4b4" stroke-width="0.6"/>
<rect x="228.33" y="638.76" width="8.23" height="13.04" fill="#d7e5f1" stroke="#b4b4b4" stroke-width="0.6"/>
<rect x="236.57" y="638.76" width="8.23" height="13.04" fill="#cfe0ee" stroke="#b4b4b4" stroke-width="0.6"/>
<rect x="244.80" y="638.76" width="8.23" height="13.04" fill="#5b8bc8" stroke="#b4b4b4" stroke-width="0.6"/>
<rect x="253.03" y="638.76" width="8.23" height="13.04" fill="#e8eef4" stroke="#b4b4b4" stroke-width="0.6"/>
<rect x="261.27" y="638.76" width="8.23" height="13.04" fill="#cde0ee" stroke="#b4b4b4" stroke-width="0.6"/>
<rect x="170.70" y="586.6" width="98.80" height="65.20" fill="none" stroke="#5a5a5a" stroke-width="1.1"/>
<text transform="translate(172.32,585.3) rotate(90)" font-size="7" font-style="italic" text-anchor="end" fill="#111" stroke="#111" stroke-width="0.22">CLEC10A</text>
<text transform="translate(180.55,585.3) rotate(90)" font-size="7" font-style="italic" text-anchor="end" fill="#111" stroke="#111" stroke-width="0.22">FCER1A</text>
<text transform="translate(188.78,585.3) rotate(90)" font-size="7" font-style="italic" text-anchor="end" fill="#111" stroke="#111" stroke-width="0.22">CD1C</text>
<text transform="translate(197.02,585.3) rotate(90)" font-size="7" font-style="italic" text-anchor="end" fill="#111" stroke="#111" stroke-width="0.22">IRF8</text>
<text transform="translate(205.25,585.3) rotate(90)" font-size="7" font-style="italic" text-anchor="end" fill="#111" stroke="#111" stroke-width="0.22">XCR1</text>
<text transform="translate(213.48,585.3) rotate(90)" font-size="7" font-style="italic" text-anchor="end" fill="#111" stroke="#111" stroke-width="0.22">CLEC9A</text>
<text transform="translate(221.72,585.3) rotate(90)" font-size="7" font-style="italic" text-anchor="end" fill="#111" stroke="#111" stroke-width="0.22">CCL22</text>
<text transform="translate(229.95,585.3) rotate(90)" font-size="7" font-style="italic" text-anchor="end" fill="#111" stroke="#111" stroke-width="0.22">CCL19</text>
<text transform="translate(238.18,585.3) rotate(90)" font-size="7" font-style="italic" text-anchor="end" fill="#111" stroke="#111" stroke-width="0.22">CCL17</text>
<text transform="translate(246.42,585.3) rotate(90)" font-size="7" font-style="italic" text-anchor="end" fill="#111" stroke="#111" stroke-width="0.22">CMTM6</text>
<text transform="translate(254.65,585.3) rotate(90)" font-size="7" font-style="italic" text-anchor="end" fill="#111" stroke="#111" stroke-width="0.22">BIRC3</text>
<text transform="translate(262.88,585.3) rotate(90)" font-size="7" font-style="italic" text-anchor="end" fill="#111" stroke="#111" stroke-width="0.22">LAMP3</text>
<text x="220.90" y="539.0" font-size="8.1" text-anchor="middle" fill="#111" stroke="#111" stroke-width="0.22">Others</text>
<text x="271.6" y="595.92" font-size="8" fill="#111" stroke="#111" stroke-width="0.22">mregDC</text>
<text x="271.6" y="608.96" font-size="8" fill="#111" stroke="#111" stroke-width="0.22">cDC1</text>
<text x="271.6" y="622.00" font-size="8" fill="#111" stroke="#111" stroke-width="0.22">cDC2</text>
<text x="271.6" y="635.04" font-size="8" fill="#111" stroke="#111" stroke-width="0.22">TAM</text>
<text x="271.6" y="648.08" font-size="8" fill="#111" stroke="#111" stroke-width="0.22">Monocyte</text>
<defs><linearGradient id="cb" x1="0" y1="0" x2="0" y2="1"><stop offset="0" stop-color="#67001f"/><stop offset="0.1" stop-color="#b2182b"/><stop offset="0.25" stop-color="#d6604d"/><stop offset="0.35" stop-color="#f4a582"/><stop offset="0.45" stop-color="#fddbc7"/><stop offset="0.5" stop-color="#f7f7f7"/><stop offset="0.55" stop-color="#d1e5f0"/><stop offset="0.65" stop-color="#92c5de"/><stop offset="0.75" stop-color="#4393c3"/><stop offset="0.9" stop-color="#2166ac"/><stop offset="1" stop-color="#053061"/></linearGradient></defs>
<rect x="244.9" y="525.5" width="6.6" height="31.1" fill="url(#cb)"/>
<text x="252.6" y="529.10" font-size="6" fill="#111" stroke="#111" stroke-width="0.22">2</text>
<line x1="244.9" y1="527.0" x2="246.2" y2="527.0" stroke="#fff" stroke-width="0.5"/><line x1="250.2" y1="527.0" x2="251.5" y2="527.0" stroke="#fff" stroke-width="0.5"/>
<text x="252.6" y="536.10" font-size="6" fill="#111" stroke="#111" stroke-width="0.22">1</text>
<line x1="244.9" y1="534.0" x2="246.2" y2="534.0" stroke="#fff" stroke-width="0.5"/><line x1="250.2" y1="534.0" x2="251.5" y2="534.0" stroke="#fff" stroke-width="0.5"/>
<text x="252.6" y="543.10" font-size="6" fill="#111" stroke="#111" stroke-width="0.22">0</text>
<line x1="244.9" y1="541.0" x2="246.2" y2="541.0" stroke="#fff" stroke-width="0.5"/><line x1="250.2" y1="541.0" x2="251.5" y2="541.0" stroke="#fff" stroke-width="0.5"/>
<text x="252.6" y="550.40" font-size="6" fill="#111" stroke="#111" stroke-width="0.22">&#8722;1</text>
<line x1="244.9" y1="548.3" x2="246.2" y2="548.3" stroke="#fff" stroke-width="0.5"/><line x1="250.2" y1="548.3" x2="251.5" y2="548.3" stroke="#fff" stroke-width="0.5"/>
<text x="252.6" y="557.40" font-size="6" fill="#111" stroke="#111" stroke-width="0.22">&#8722;2</text>
<line x1="244.9" y1="555.3" x2="246.2" y2="555.3" stroke="#fff" stroke-width="0.5"/><line x1="250.2" y1="555.3" x2="251.5" y2="555.3" stroke="#fff" stroke-width="0.5"/>
<text x="244.9" y="522.2" font-size="8" font-weight="bold" fill="#111" stroke="#111" stroke-width="0.22">Scaled Exp</text>
</svg>
</body></html>
